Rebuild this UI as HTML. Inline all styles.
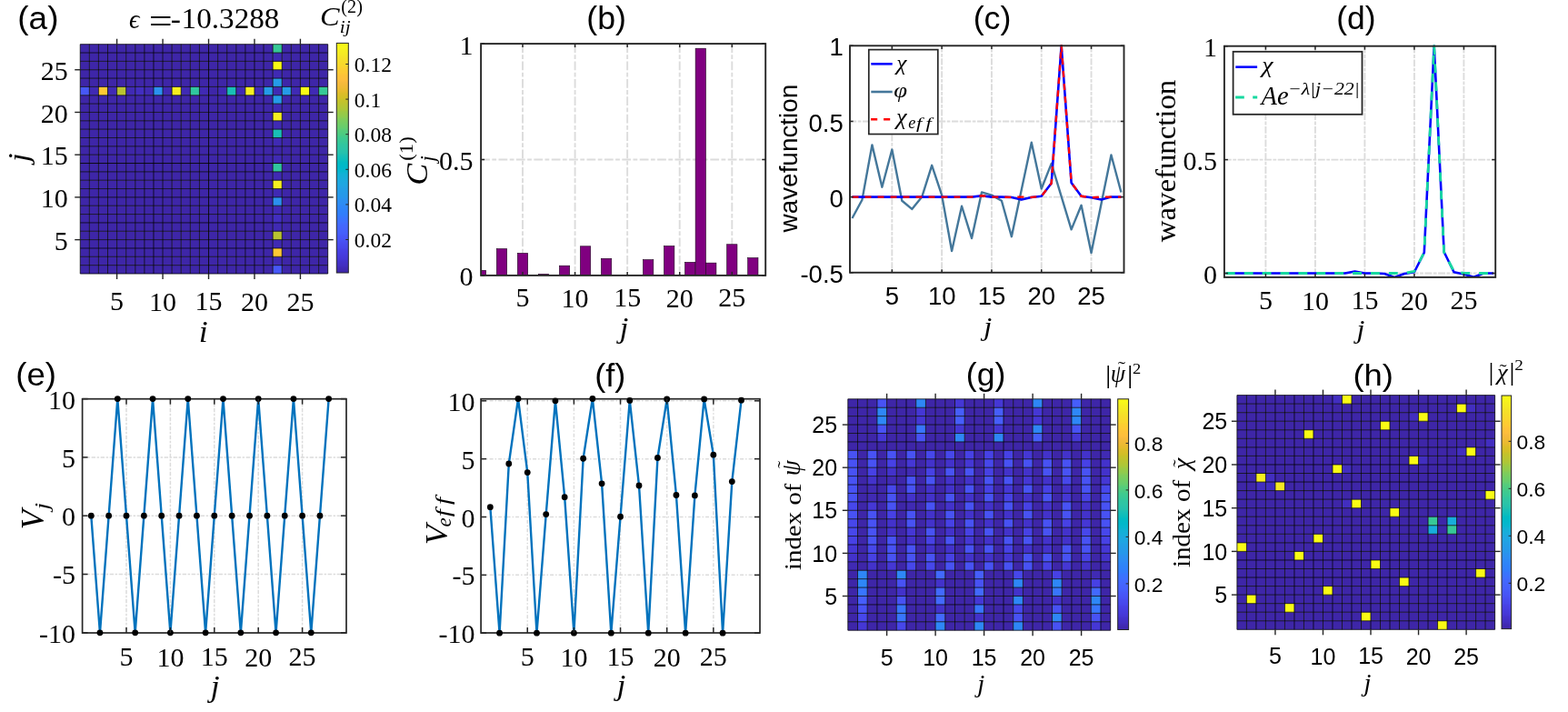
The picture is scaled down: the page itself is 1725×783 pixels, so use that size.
<!DOCTYPE html>
<html><head><meta charset="utf-8"><title>figure</title>
<style>text{font-variant-ligatures:none;font-kerning:none}html,body{margin:0;padding:0;background:#fff;width:1725px;height:783px;overflow:hidden}svg{display:block}</style>
</head><body>
<svg width="1725" height="783" viewBox="0 0 1725 783">
<rect width="1725" height="783" fill="#fff"/>
<text transform="translate(19.29 31.79) scale(1.0647 1)" font-family="'Liberation Sans',Arial,sans-serif" font-size="34.75" fill="#000">(a)</text>
<text transform="translate(645.27 32.21) scale(1.0312 1)" font-family="'Liberation Sans',Arial,sans-serif" font-size="34.64" fill="#000">(b)</text>
<text transform="translate(1070.66 31.77) scale(1.0278 1)" font-family="'Liberation Sans',Arial,sans-serif" font-size="34.85" fill="#000">(c)</text>
<text transform="translate(1470.28 31.77) scale(1.0170 1)" font-family="'Liberation Sans',Arial,sans-serif" font-size="34.85" fill="#000">(d)</text>
<text transform="translate(17.31 423.58) scale(1.0674 1)" font-family="'Liberation Sans',Arial,sans-serif" font-size="34.32" fill="#000">(e)</text>
<text transform="translate(654.14 425.37) scale(1.0373 1)" font-family="'Liberation Sans',Arial,sans-serif" font-size="34.85" fill="#000">(f)</text>
<text transform="translate(1062.77 423.71) scale(1.0285 1)" font-family="'Liberation Sans',Arial,sans-serif" font-size="34.64" fill="#000">(g)</text>
<text transform="translate(1488.42 423.69) scale(1.0789 1)" font-family="'Liberation Sans',Arial,sans-serif" font-size="33.78" fill="#000">(h)</text>
<rect x="88.24" y="291.66" width="10.14" height="9.39" fill="#3e26a8" stroke="none" stroke-width="1"/>
<rect x="98.33" y="291.66" width="10.14" height="9.39" fill="#3e26a8" stroke="none" stroke-width="1"/>
<rect x="108.42" y="291.66" width="10.14" height="9.39" fill="#3e26a8" stroke="none" stroke-width="1"/>
<rect x="118.51" y="291.66" width="10.14" height="9.39" fill="#3e26a8" stroke="none" stroke-width="1"/>
<rect x="128.6" y="291.66" width="10.14" height="9.39" fill="#3e26a8" stroke="none" stroke-width="1"/>
<rect x="138.7" y="291.66" width="10.14" height="9.39" fill="#3e26a8" stroke="none" stroke-width="1"/>
<rect x="148.79" y="291.66" width="10.14" height="9.39" fill="#3e26a8" stroke="none" stroke-width="1"/>
<rect x="158.88" y="291.66" width="10.14" height="9.39" fill="#3e26a8" stroke="none" stroke-width="1"/>
<rect x="168.97" y="291.66" width="10.14" height="9.39" fill="#3e26a8" stroke="none" stroke-width="1"/>
<rect x="179.06" y="291.66" width="10.14" height="9.39" fill="#3e26a8" stroke="none" stroke-width="1"/>
<rect x="189.15" y="291.66" width="10.14" height="9.39" fill="#3e26a8" stroke="none" stroke-width="1"/>
<rect x="199.24" y="291.66" width="10.14" height="9.39" fill="#3e26a8" stroke="none" stroke-width="1"/>
<rect x="209.33" y="291.66" width="10.14" height="9.39" fill="#3e26a8" stroke="none" stroke-width="1"/>
<rect x="219.42" y="291.66" width="10.14" height="9.39" fill="#3e26a8" stroke="none" stroke-width="1"/>
<rect x="229.52" y="291.66" width="10.14" height="9.39" fill="#3e26a8" stroke="none" stroke-width="1"/>
<rect x="239.61" y="291.66" width="10.14" height="9.39" fill="#3e26a8" stroke="none" stroke-width="1"/>
<rect x="249.7" y="291.66" width="10.14" height="9.39" fill="#3e26a8" stroke="none" stroke-width="1"/>
<rect x="259.79" y="291.66" width="10.14" height="9.39" fill="#3e26a8" stroke="none" stroke-width="1"/>
<rect x="269.88" y="291.66" width="10.14" height="9.39" fill="#3e26a8" stroke="none" stroke-width="1"/>
<rect x="279.97" y="291.66" width="10.14" height="9.39" fill="#3e26a8" stroke="none" stroke-width="1"/>
<rect x="290.06" y="291.66" width="10.14" height="9.39" fill="#3e26a8" stroke="none" stroke-width="1"/>
<rect x="300.15" y="291.66" width="10.14" height="9.39" fill="#4758f8" stroke="none" stroke-width="1"/>
<rect x="310.24" y="291.66" width="10.14" height="9.39" fill="#3e26a8" stroke="none" stroke-width="1"/>
<rect x="320.34" y="291.66" width="10.14" height="9.39" fill="#3e26a8" stroke="none" stroke-width="1"/>
<rect x="330.43" y="291.66" width="10.14" height="9.39" fill="#3e26a8" stroke="none" stroke-width="1"/>
<rect x="340.52" y="291.66" width="10.14" height="9.39" fill="#3e26a8" stroke="none" stroke-width="1"/>
<rect x="350.61" y="291.66" width="10.14" height="9.39" fill="#3e26a8" stroke="none" stroke-width="1"/>
<rect x="88.24" y="282.31" width="10.14" height="9.39" fill="#3e26a8" stroke="none" stroke-width="1"/>
<rect x="98.33" y="282.31" width="10.14" height="9.39" fill="#3e26a8" stroke="none" stroke-width="1"/>
<rect x="108.42" y="282.31" width="10.14" height="9.39" fill="#3e26a8" stroke="none" stroke-width="1"/>
<rect x="118.51" y="282.31" width="10.14" height="9.39" fill="#3e26a8" stroke="none" stroke-width="1"/>
<rect x="128.6" y="282.31" width="10.14" height="9.39" fill="#3e26a8" stroke="none" stroke-width="1"/>
<rect x="138.7" y="282.31" width="10.14" height="9.39" fill="#3e26a8" stroke="none" stroke-width="1"/>
<rect x="148.79" y="282.31" width="10.14" height="9.39" fill="#3e26a8" stroke="none" stroke-width="1"/>
<rect x="158.88" y="282.31" width="10.14" height="9.39" fill="#3e26a8" stroke="none" stroke-width="1"/>
<rect x="168.97" y="282.31" width="10.14" height="9.39" fill="#3e26a8" stroke="none" stroke-width="1"/>
<rect x="179.06" y="282.31" width="10.14" height="9.39" fill="#3e26a8" stroke="none" stroke-width="1"/>
<rect x="189.15" y="282.31" width="10.14" height="9.39" fill="#3e26a8" stroke="none" stroke-width="1"/>
<rect x="199.24" y="282.31" width="10.14" height="9.39" fill="#3e26a8" stroke="none" stroke-width="1"/>
<rect x="209.33" y="282.31" width="10.14" height="9.39" fill="#3e26a8" stroke="none" stroke-width="1"/>
<rect x="219.42" y="282.31" width="10.14" height="9.39" fill="#3e26a8" stroke="none" stroke-width="1"/>
<rect x="229.52" y="282.31" width="10.14" height="9.39" fill="#3e26a8" stroke="none" stroke-width="1"/>
<rect x="239.61" y="282.31" width="10.14" height="9.39" fill="#3e26a8" stroke="none" stroke-width="1"/>
<rect x="249.7" y="282.31" width="10.14" height="9.39" fill="#3e26a8" stroke="none" stroke-width="1"/>
<rect x="259.79" y="282.31" width="10.14" height="9.39" fill="#3e26a8" stroke="none" stroke-width="1"/>
<rect x="269.88" y="282.31" width="10.14" height="9.39" fill="#3e26a8" stroke="none" stroke-width="1"/>
<rect x="279.97" y="282.31" width="10.14" height="9.39" fill="#3e26a8" stroke="none" stroke-width="1"/>
<rect x="290.06" y="282.31" width="10.14" height="9.39" fill="#3e26a8" stroke="none" stroke-width="1"/>
<rect x="300.15" y="282.31" width="10.14" height="9.39" fill="#402ab4" stroke="none" stroke-width="1"/>
<rect x="310.24" y="282.31" width="10.14" height="9.39" fill="#3e26a8" stroke="none" stroke-width="1"/>
<rect x="320.34" y="282.31" width="10.14" height="9.39" fill="#3e26a8" stroke="none" stroke-width="1"/>
<rect x="330.43" y="282.31" width="10.14" height="9.39" fill="#3e26a8" stroke="none" stroke-width="1"/>
<rect x="340.52" y="282.31" width="10.14" height="9.39" fill="#3e26a8" stroke="none" stroke-width="1"/>
<rect x="350.61" y="282.31" width="10.14" height="9.39" fill="#3e26a8" stroke="none" stroke-width="1"/>
<rect x="88.24" y="272.97" width="10.14" height="9.39" fill="#3e26a8" stroke="none" stroke-width="1"/>
<rect x="98.33" y="272.97" width="10.14" height="9.39" fill="#3e26a8" stroke="none" stroke-width="1"/>
<rect x="108.42" y="272.97" width="10.14" height="9.39" fill="#3e26a8" stroke="none" stroke-width="1"/>
<rect x="118.51" y="272.97" width="10.14" height="9.39" fill="#3e26a8" stroke="none" stroke-width="1"/>
<rect x="128.6" y="272.97" width="10.14" height="9.39" fill="#3e26a8" stroke="none" stroke-width="1"/>
<rect x="138.7" y="272.97" width="10.14" height="9.39" fill="#3e26a8" stroke="none" stroke-width="1"/>
<rect x="148.79" y="272.97" width="10.14" height="9.39" fill="#3e26a8" stroke="none" stroke-width="1"/>
<rect x="158.88" y="272.97" width="10.14" height="9.39" fill="#3e26a8" stroke="none" stroke-width="1"/>
<rect x="168.97" y="272.97" width="10.14" height="9.39" fill="#3e26a8" stroke="none" stroke-width="1"/>
<rect x="179.06" y="272.97" width="10.14" height="9.39" fill="#3e26a8" stroke="none" stroke-width="1"/>
<rect x="189.15" y="272.97" width="10.14" height="9.39" fill="#3e26a8" stroke="none" stroke-width="1"/>
<rect x="199.24" y="272.97" width="10.14" height="9.39" fill="#3e26a8" stroke="none" stroke-width="1"/>
<rect x="209.33" y="272.97" width="10.14" height="9.39" fill="#3e26a8" stroke="none" stroke-width="1"/>
<rect x="219.42" y="272.97" width="10.14" height="9.39" fill="#3e26a8" stroke="none" stroke-width="1"/>
<rect x="229.52" y="272.97" width="10.14" height="9.39" fill="#3e26a8" stroke="none" stroke-width="1"/>
<rect x="239.61" y="272.97" width="10.14" height="9.39" fill="#3e26a8" stroke="none" stroke-width="1"/>
<rect x="249.7" y="272.97" width="10.14" height="9.39" fill="#3e26a8" stroke="none" stroke-width="1"/>
<rect x="259.79" y="272.97" width="10.14" height="9.39" fill="#3e26a8" stroke="none" stroke-width="1"/>
<rect x="269.88" y="272.97" width="10.14" height="9.39" fill="#3e26a8" stroke="none" stroke-width="1"/>
<rect x="279.97" y="272.97" width="10.14" height="9.39" fill="#3e26a8" stroke="none" stroke-width="1"/>
<rect x="290.06" y="272.97" width="10.14" height="9.39" fill="#3e26a8" stroke="none" stroke-width="1"/>
<rect x="300.15" y="272.97" width="10.14" height="9.39" fill="#fec934" stroke="none" stroke-width="1"/>
<rect x="310.24" y="272.97" width="10.14" height="9.39" fill="#3e26a8" stroke="none" stroke-width="1"/>
<rect x="320.34" y="272.97" width="10.14" height="9.39" fill="#3e26a8" stroke="none" stroke-width="1"/>
<rect x="330.43" y="272.97" width="10.14" height="9.39" fill="#3e26a8" stroke="none" stroke-width="1"/>
<rect x="340.52" y="272.97" width="10.14" height="9.39" fill="#3e26a8" stroke="none" stroke-width="1"/>
<rect x="350.61" y="272.97" width="10.14" height="9.39" fill="#3e26a8" stroke="none" stroke-width="1"/>
<rect x="88.24" y="263.62" width="10.14" height="9.39" fill="#3e26a8" stroke="none" stroke-width="1"/>
<rect x="98.33" y="263.62" width="10.14" height="9.39" fill="#3e26a8" stroke="none" stroke-width="1"/>
<rect x="108.42" y="263.62" width="10.14" height="9.39" fill="#3e26a8" stroke="none" stroke-width="1"/>
<rect x="118.51" y="263.62" width="10.14" height="9.39" fill="#3e26a8" stroke="none" stroke-width="1"/>
<rect x="128.6" y="263.62" width="10.14" height="9.39" fill="#3e26a8" stroke="none" stroke-width="1"/>
<rect x="138.7" y="263.62" width="10.14" height="9.39" fill="#3e26a8" stroke="none" stroke-width="1"/>
<rect x="148.79" y="263.62" width="10.14" height="9.39" fill="#3e26a8" stroke="none" stroke-width="1"/>
<rect x="158.88" y="263.62" width="10.14" height="9.39" fill="#3e26a8" stroke="none" stroke-width="1"/>
<rect x="168.97" y="263.62" width="10.14" height="9.39" fill="#3e26a8" stroke="none" stroke-width="1"/>
<rect x="179.06" y="263.62" width="10.14" height="9.39" fill="#3e26a8" stroke="none" stroke-width="1"/>
<rect x="189.15" y="263.62" width="10.14" height="9.39" fill="#3e26a8" stroke="none" stroke-width="1"/>
<rect x="199.24" y="263.62" width="10.14" height="9.39" fill="#3e26a8" stroke="none" stroke-width="1"/>
<rect x="209.33" y="263.62" width="10.14" height="9.39" fill="#3e26a8" stroke="none" stroke-width="1"/>
<rect x="219.42" y="263.62" width="10.14" height="9.39" fill="#3e26a8" stroke="none" stroke-width="1"/>
<rect x="229.52" y="263.62" width="10.14" height="9.39" fill="#3e26a8" stroke="none" stroke-width="1"/>
<rect x="239.61" y="263.62" width="10.14" height="9.39" fill="#3e26a8" stroke="none" stroke-width="1"/>
<rect x="249.7" y="263.62" width="10.14" height="9.39" fill="#3e26a8" stroke="none" stroke-width="1"/>
<rect x="259.79" y="263.62" width="10.14" height="9.39" fill="#3e26a8" stroke="none" stroke-width="1"/>
<rect x="269.88" y="263.62" width="10.14" height="9.39" fill="#3e26a8" stroke="none" stroke-width="1"/>
<rect x="279.97" y="263.62" width="10.14" height="9.39" fill="#3e26a8" stroke="none" stroke-width="1"/>
<rect x="290.06" y="263.62" width="10.14" height="9.39" fill="#3e26a8" stroke="none" stroke-width="1"/>
<rect x="300.15" y="263.62" width="10.14" height="9.39" fill="#402ab4" stroke="none" stroke-width="1"/>
<rect x="310.24" y="263.62" width="10.14" height="9.39" fill="#3e26a8" stroke="none" stroke-width="1"/>
<rect x="320.34" y="263.62" width="10.14" height="9.39" fill="#3e26a8" stroke="none" stroke-width="1"/>
<rect x="330.43" y="263.62" width="10.14" height="9.39" fill="#3e26a8" stroke="none" stroke-width="1"/>
<rect x="340.52" y="263.62" width="10.14" height="9.39" fill="#3e26a8" stroke="none" stroke-width="1"/>
<rect x="350.61" y="263.62" width="10.14" height="9.39" fill="#3e26a8" stroke="none" stroke-width="1"/>
<rect x="88.24" y="254.28" width="10.14" height="9.39" fill="#3e26a8" stroke="none" stroke-width="1"/>
<rect x="98.33" y="254.28" width="10.14" height="9.39" fill="#3e26a8" stroke="none" stroke-width="1"/>
<rect x="108.42" y="254.28" width="10.14" height="9.39" fill="#3e26a8" stroke="none" stroke-width="1"/>
<rect x="118.51" y="254.28" width="10.14" height="9.39" fill="#3e26a8" stroke="none" stroke-width="1"/>
<rect x="128.6" y="254.28" width="10.14" height="9.39" fill="#3e26a8" stroke="none" stroke-width="1"/>
<rect x="138.7" y="254.28" width="10.14" height="9.39" fill="#3e26a8" stroke="none" stroke-width="1"/>
<rect x="148.79" y="254.28" width="10.14" height="9.39" fill="#3e26a8" stroke="none" stroke-width="1"/>
<rect x="158.88" y="254.28" width="10.14" height="9.39" fill="#3e26a8" stroke="none" stroke-width="1"/>
<rect x="168.97" y="254.28" width="10.14" height="9.39" fill="#3e26a8" stroke="none" stroke-width="1"/>
<rect x="179.06" y="254.28" width="10.14" height="9.39" fill="#3e26a8" stroke="none" stroke-width="1"/>
<rect x="189.15" y="254.28" width="10.14" height="9.39" fill="#3e26a8" stroke="none" stroke-width="1"/>
<rect x="199.24" y="254.28" width="10.14" height="9.39" fill="#3e26a8" stroke="none" stroke-width="1"/>
<rect x="209.33" y="254.28" width="10.14" height="9.39" fill="#3e26a8" stroke="none" stroke-width="1"/>
<rect x="219.42" y="254.28" width="10.14" height="9.39" fill="#3e26a8" stroke="none" stroke-width="1"/>
<rect x="229.52" y="254.28" width="10.14" height="9.39" fill="#3e26a8" stroke="none" stroke-width="1"/>
<rect x="239.61" y="254.28" width="10.14" height="9.39" fill="#3e26a8" stroke="none" stroke-width="1"/>
<rect x="249.7" y="254.28" width="10.14" height="9.39" fill="#3e26a8" stroke="none" stroke-width="1"/>
<rect x="259.79" y="254.28" width="10.14" height="9.39" fill="#3e26a8" stroke="none" stroke-width="1"/>
<rect x="269.88" y="254.28" width="10.14" height="9.39" fill="#3e26a8" stroke="none" stroke-width="1"/>
<rect x="279.97" y="254.28" width="10.14" height="9.39" fill="#3e26a8" stroke="none" stroke-width="1"/>
<rect x="290.06" y="254.28" width="10.14" height="9.39" fill="#3e26a8" stroke="none" stroke-width="1"/>
<rect x="300.15" y="254.28" width="10.14" height="9.39" fill="#b9c431" stroke="none" stroke-width="1"/>
<rect x="310.24" y="254.28" width="10.14" height="9.39" fill="#3e26a8" stroke="none" stroke-width="1"/>
<rect x="320.34" y="254.28" width="10.14" height="9.39" fill="#3e26a8" stroke="none" stroke-width="1"/>
<rect x="330.43" y="254.28" width="10.14" height="9.39" fill="#3e26a8" stroke="none" stroke-width="1"/>
<rect x="340.52" y="254.28" width="10.14" height="9.39" fill="#3e26a8" stroke="none" stroke-width="1"/>
<rect x="350.61" y="254.28" width="10.14" height="9.39" fill="#3e26a8" stroke="none" stroke-width="1"/>
<rect x="88.24" y="244.93" width="10.14" height="9.39" fill="#3e26a8" stroke="none" stroke-width="1"/>
<rect x="98.33" y="244.93" width="10.14" height="9.39" fill="#3e26a8" stroke="none" stroke-width="1"/>
<rect x="108.42" y="244.93" width="10.14" height="9.39" fill="#3e26a8" stroke="none" stroke-width="1"/>
<rect x="118.51" y="244.93" width="10.14" height="9.39" fill="#3e26a8" stroke="none" stroke-width="1"/>
<rect x="128.6" y="244.93" width="10.14" height="9.39" fill="#3e26a8" stroke="none" stroke-width="1"/>
<rect x="138.7" y="244.93" width="10.14" height="9.39" fill="#3e26a8" stroke="none" stroke-width="1"/>
<rect x="148.79" y="244.93" width="10.14" height="9.39" fill="#3e26a8" stroke="none" stroke-width="1"/>
<rect x="158.88" y="244.93" width="10.14" height="9.39" fill="#3e26a8" stroke="none" stroke-width="1"/>
<rect x="168.97" y="244.93" width="10.14" height="9.39" fill="#3e26a8" stroke="none" stroke-width="1"/>
<rect x="179.06" y="244.93" width="10.14" height="9.39" fill="#3e26a8" stroke="none" stroke-width="1"/>
<rect x="189.15" y="244.93" width="10.14" height="9.39" fill="#3e26a8" stroke="none" stroke-width="1"/>
<rect x="199.24" y="244.93" width="10.14" height="9.39" fill="#3e26a8" stroke="none" stroke-width="1"/>
<rect x="209.33" y="244.93" width="10.14" height="9.39" fill="#3e26a8" stroke="none" stroke-width="1"/>
<rect x="219.42" y="244.93" width="10.14" height="9.39" fill="#3e26a8" stroke="none" stroke-width="1"/>
<rect x="229.52" y="244.93" width="10.14" height="9.39" fill="#3e26a8" stroke="none" stroke-width="1"/>
<rect x="239.61" y="244.93" width="10.14" height="9.39" fill="#3e26a8" stroke="none" stroke-width="1"/>
<rect x="249.7" y="244.93" width="10.14" height="9.39" fill="#3e26a8" stroke="none" stroke-width="1"/>
<rect x="259.79" y="244.93" width="10.14" height="9.39" fill="#3e26a8" stroke="none" stroke-width="1"/>
<rect x="269.88" y="244.93" width="10.14" height="9.39" fill="#3e26a8" stroke="none" stroke-width="1"/>
<rect x="279.97" y="244.93" width="10.14" height="9.39" fill="#3e26a8" stroke="none" stroke-width="1"/>
<rect x="290.06" y="244.93" width="10.14" height="9.39" fill="#3e26a8" stroke="none" stroke-width="1"/>
<rect x="300.15" y="244.93" width="10.14" height="9.39" fill="#402ab4" stroke="none" stroke-width="1"/>
<rect x="310.24" y="244.93" width="10.14" height="9.39" fill="#3e26a8" stroke="none" stroke-width="1"/>
<rect x="320.34" y="244.93" width="10.14" height="9.39" fill="#3e26a8" stroke="none" stroke-width="1"/>
<rect x="330.43" y="244.93" width="10.14" height="9.39" fill="#3e26a8" stroke="none" stroke-width="1"/>
<rect x="340.52" y="244.93" width="10.14" height="9.39" fill="#3e26a8" stroke="none" stroke-width="1"/>
<rect x="350.61" y="244.93" width="10.14" height="9.39" fill="#3e26a8" stroke="none" stroke-width="1"/>
<rect x="88.24" y="235.59" width="10.14" height="9.39" fill="#3e26a8" stroke="none" stroke-width="1"/>
<rect x="98.33" y="235.59" width="10.14" height="9.39" fill="#3e26a8" stroke="none" stroke-width="1"/>
<rect x="108.42" y="235.59" width="10.14" height="9.39" fill="#3e26a8" stroke="none" stroke-width="1"/>
<rect x="118.51" y="235.59" width="10.14" height="9.39" fill="#3e26a8" stroke="none" stroke-width="1"/>
<rect x="128.6" y="235.59" width="10.14" height="9.39" fill="#3e26a8" stroke="none" stroke-width="1"/>
<rect x="138.7" y="235.59" width="10.14" height="9.39" fill="#3e26a8" stroke="none" stroke-width="1"/>
<rect x="148.79" y="235.59" width="10.14" height="9.39" fill="#3e26a8" stroke="none" stroke-width="1"/>
<rect x="158.88" y="235.59" width="10.14" height="9.39" fill="#3e26a8" stroke="none" stroke-width="1"/>
<rect x="168.97" y="235.59" width="10.14" height="9.39" fill="#3e26a8" stroke="none" stroke-width="1"/>
<rect x="179.06" y="235.59" width="10.14" height="9.39" fill="#3e26a8" stroke="none" stroke-width="1"/>
<rect x="189.15" y="235.59" width="10.14" height="9.39" fill="#3e26a8" stroke="none" stroke-width="1"/>
<rect x="199.24" y="235.59" width="10.14" height="9.39" fill="#3e26a8" stroke="none" stroke-width="1"/>
<rect x="209.33" y="235.59" width="10.14" height="9.39" fill="#3e26a8" stroke="none" stroke-width="1"/>
<rect x="219.42" y="235.59" width="10.14" height="9.39" fill="#3e26a8" stroke="none" stroke-width="1"/>
<rect x="229.52" y="235.59" width="10.14" height="9.39" fill="#3e26a8" stroke="none" stroke-width="1"/>
<rect x="239.61" y="235.59" width="10.14" height="9.39" fill="#3e26a8" stroke="none" stroke-width="1"/>
<rect x="249.7" y="235.59" width="10.14" height="9.39" fill="#3e26a8" stroke="none" stroke-width="1"/>
<rect x="259.79" y="235.59" width="10.14" height="9.39" fill="#3e26a8" stroke="none" stroke-width="1"/>
<rect x="269.88" y="235.59" width="10.14" height="9.39" fill="#3e26a8" stroke="none" stroke-width="1"/>
<rect x="279.97" y="235.59" width="10.14" height="9.39" fill="#3e26a8" stroke="none" stroke-width="1"/>
<rect x="290.06" y="235.59" width="10.14" height="9.39" fill="#3e26a8" stroke="none" stroke-width="1"/>
<rect x="300.15" y="235.59" width="10.14" height="9.39" fill="#422ec0" stroke="none" stroke-width="1"/>
<rect x="310.24" y="235.59" width="10.14" height="9.39" fill="#3e26a8" stroke="none" stroke-width="1"/>
<rect x="320.34" y="235.59" width="10.14" height="9.39" fill="#3e26a8" stroke="none" stroke-width="1"/>
<rect x="330.43" y="235.59" width="10.14" height="9.39" fill="#3e26a8" stroke="none" stroke-width="1"/>
<rect x="340.52" y="235.59" width="10.14" height="9.39" fill="#3e26a8" stroke="none" stroke-width="1"/>
<rect x="350.61" y="235.59" width="10.14" height="9.39" fill="#3e26a8" stroke="none" stroke-width="1"/>
<rect x="88.24" y="226.24" width="10.14" height="9.39" fill="#3e26a8" stroke="none" stroke-width="1"/>
<rect x="98.33" y="226.24" width="10.14" height="9.39" fill="#3e26a8" stroke="none" stroke-width="1"/>
<rect x="108.42" y="226.24" width="10.14" height="9.39" fill="#3e26a8" stroke="none" stroke-width="1"/>
<rect x="118.51" y="226.24" width="10.14" height="9.39" fill="#3e26a8" stroke="none" stroke-width="1"/>
<rect x="128.6" y="226.24" width="10.14" height="9.39" fill="#3e26a8" stroke="none" stroke-width="1"/>
<rect x="138.7" y="226.24" width="10.14" height="9.39" fill="#3e26a8" stroke="none" stroke-width="1"/>
<rect x="148.79" y="226.24" width="10.14" height="9.39" fill="#3e26a8" stroke="none" stroke-width="1"/>
<rect x="158.88" y="226.24" width="10.14" height="9.39" fill="#3e26a8" stroke="none" stroke-width="1"/>
<rect x="168.97" y="226.24" width="10.14" height="9.39" fill="#3e26a8" stroke="none" stroke-width="1"/>
<rect x="179.06" y="226.24" width="10.14" height="9.39" fill="#3e26a8" stroke="none" stroke-width="1"/>
<rect x="189.15" y="226.24" width="10.14" height="9.39" fill="#3e26a8" stroke="none" stroke-width="1"/>
<rect x="199.24" y="226.24" width="10.14" height="9.39" fill="#3e26a8" stroke="none" stroke-width="1"/>
<rect x="209.33" y="226.24" width="10.14" height="9.39" fill="#3e26a8" stroke="none" stroke-width="1"/>
<rect x="219.42" y="226.24" width="10.14" height="9.39" fill="#3e26a8" stroke="none" stroke-width="1"/>
<rect x="229.52" y="226.24" width="10.14" height="9.39" fill="#3e26a8" stroke="none" stroke-width="1"/>
<rect x="239.61" y="226.24" width="10.14" height="9.39" fill="#3e26a8" stroke="none" stroke-width="1"/>
<rect x="249.7" y="226.24" width="10.14" height="9.39" fill="#3e26a8" stroke="none" stroke-width="1"/>
<rect x="259.79" y="226.24" width="10.14" height="9.39" fill="#3e26a8" stroke="none" stroke-width="1"/>
<rect x="269.88" y="226.24" width="10.14" height="9.39" fill="#3e26a8" stroke="none" stroke-width="1"/>
<rect x="279.97" y="226.24" width="10.14" height="9.39" fill="#3e26a8" stroke="none" stroke-width="1"/>
<rect x="290.06" y="226.24" width="10.14" height="9.39" fill="#3e26a8" stroke="none" stroke-width="1"/>
<rect x="300.15" y="226.24" width="10.14" height="9.39" fill="#402ab4" stroke="none" stroke-width="1"/>
<rect x="310.24" y="226.24" width="10.14" height="9.39" fill="#3e26a8" stroke="none" stroke-width="1"/>
<rect x="320.34" y="226.24" width="10.14" height="9.39" fill="#3e26a8" stroke="none" stroke-width="1"/>
<rect x="330.43" y="226.24" width="10.14" height="9.39" fill="#3e26a8" stroke="none" stroke-width="1"/>
<rect x="340.52" y="226.24" width="10.14" height="9.39" fill="#3e26a8" stroke="none" stroke-width="1"/>
<rect x="350.61" y="226.24" width="10.14" height="9.39" fill="#3e26a8" stroke="none" stroke-width="1"/>
<rect x="88.24" y="216.9" width="10.14" height="9.39" fill="#3e26a8" stroke="none" stroke-width="1"/>
<rect x="98.33" y="216.9" width="10.14" height="9.39" fill="#3e26a8" stroke="none" stroke-width="1"/>
<rect x="108.42" y="216.9" width="10.14" height="9.39" fill="#3e26a8" stroke="none" stroke-width="1"/>
<rect x="118.51" y="216.9" width="10.14" height="9.39" fill="#3e26a8" stroke="none" stroke-width="1"/>
<rect x="128.6" y="216.9" width="10.14" height="9.39" fill="#3e26a8" stroke="none" stroke-width="1"/>
<rect x="138.7" y="216.9" width="10.14" height="9.39" fill="#3e26a8" stroke="none" stroke-width="1"/>
<rect x="148.79" y="216.9" width="10.14" height="9.39" fill="#3e26a8" stroke="none" stroke-width="1"/>
<rect x="158.88" y="216.9" width="10.14" height="9.39" fill="#3e26a8" stroke="none" stroke-width="1"/>
<rect x="168.97" y="216.9" width="10.14" height="9.39" fill="#3e26a8" stroke="none" stroke-width="1"/>
<rect x="179.06" y="216.9" width="10.14" height="9.39" fill="#3e26a8" stroke="none" stroke-width="1"/>
<rect x="189.15" y="216.9" width="10.14" height="9.39" fill="#3e26a8" stroke="none" stroke-width="1"/>
<rect x="199.24" y="216.9" width="10.14" height="9.39" fill="#3e26a8" stroke="none" stroke-width="1"/>
<rect x="209.33" y="216.9" width="10.14" height="9.39" fill="#3e26a8" stroke="none" stroke-width="1"/>
<rect x="219.42" y="216.9" width="10.14" height="9.39" fill="#3e26a8" stroke="none" stroke-width="1"/>
<rect x="229.52" y="216.9" width="10.14" height="9.39" fill="#3e26a8" stroke="none" stroke-width="1"/>
<rect x="239.61" y="216.9" width="10.14" height="9.39" fill="#3e26a8" stroke="none" stroke-width="1"/>
<rect x="249.7" y="216.9" width="10.14" height="9.39" fill="#3e26a8" stroke="none" stroke-width="1"/>
<rect x="259.79" y="216.9" width="10.14" height="9.39" fill="#3e26a8" stroke="none" stroke-width="1"/>
<rect x="269.88" y="216.9" width="10.14" height="9.39" fill="#3e26a8" stroke="none" stroke-width="1"/>
<rect x="279.97" y="216.9" width="10.14" height="9.39" fill="#3e26a8" stroke="none" stroke-width="1"/>
<rect x="290.06" y="216.9" width="10.14" height="9.39" fill="#3e26a8" stroke="none" stroke-width="1"/>
<rect x="300.15" y="216.9" width="10.14" height="9.39" fill="#2b91ef" stroke="none" stroke-width="1"/>
<rect x="310.24" y="216.9" width="10.14" height="9.39" fill="#3e26a8" stroke="none" stroke-width="1"/>
<rect x="320.34" y="216.9" width="10.14" height="9.39" fill="#3e26a8" stroke="none" stroke-width="1"/>
<rect x="330.43" y="216.9" width="10.14" height="9.39" fill="#3e26a8" stroke="none" stroke-width="1"/>
<rect x="340.52" y="216.9" width="10.14" height="9.39" fill="#3e26a8" stroke="none" stroke-width="1"/>
<rect x="350.61" y="216.9" width="10.14" height="9.39" fill="#3e26a8" stroke="none" stroke-width="1"/>
<rect x="88.24" y="207.56" width="10.14" height="9.39" fill="#3e26a8" stroke="none" stroke-width="1"/>
<rect x="98.33" y="207.56" width="10.14" height="9.39" fill="#3e26a8" stroke="none" stroke-width="1"/>
<rect x="108.42" y="207.56" width="10.14" height="9.39" fill="#3e26a8" stroke="none" stroke-width="1"/>
<rect x="118.51" y="207.56" width="10.14" height="9.39" fill="#3e26a8" stroke="none" stroke-width="1"/>
<rect x="128.6" y="207.56" width="10.14" height="9.39" fill="#3e26a8" stroke="none" stroke-width="1"/>
<rect x="138.7" y="207.56" width="10.14" height="9.39" fill="#3e26a8" stroke="none" stroke-width="1"/>
<rect x="148.79" y="207.56" width="10.14" height="9.39" fill="#3e26a8" stroke="none" stroke-width="1"/>
<rect x="158.88" y="207.56" width="10.14" height="9.39" fill="#3e26a8" stroke="none" stroke-width="1"/>
<rect x="168.97" y="207.56" width="10.14" height="9.39" fill="#3e26a8" stroke="none" stroke-width="1"/>
<rect x="179.06" y="207.56" width="10.14" height="9.39" fill="#3e26a8" stroke="none" stroke-width="1"/>
<rect x="189.15" y="207.56" width="10.14" height="9.39" fill="#3e26a8" stroke="none" stroke-width="1"/>
<rect x="199.24" y="207.56" width="10.14" height="9.39" fill="#3e26a8" stroke="none" stroke-width="1"/>
<rect x="209.33" y="207.56" width="10.14" height="9.39" fill="#3e26a8" stroke="none" stroke-width="1"/>
<rect x="219.42" y="207.56" width="10.14" height="9.39" fill="#3e26a8" stroke="none" stroke-width="1"/>
<rect x="229.52" y="207.56" width="10.14" height="9.39" fill="#3e26a8" stroke="none" stroke-width="1"/>
<rect x="239.61" y="207.56" width="10.14" height="9.39" fill="#3e26a8" stroke="none" stroke-width="1"/>
<rect x="249.7" y="207.56" width="10.14" height="9.39" fill="#3e26a8" stroke="none" stroke-width="1"/>
<rect x="259.79" y="207.56" width="10.14" height="9.39" fill="#3e26a8" stroke="none" stroke-width="1"/>
<rect x="269.88" y="207.56" width="10.14" height="9.39" fill="#3e26a8" stroke="none" stroke-width="1"/>
<rect x="279.97" y="207.56" width="10.14" height="9.39" fill="#3e26a8" stroke="none" stroke-width="1"/>
<rect x="290.06" y="207.56" width="10.14" height="9.39" fill="#3e26a8" stroke="none" stroke-width="1"/>
<rect x="300.15" y="207.56" width="10.14" height="9.39" fill="#402ab4" stroke="none" stroke-width="1"/>
<rect x="310.24" y="207.56" width="10.14" height="9.39" fill="#3e26a8" stroke="none" stroke-width="1"/>
<rect x="320.34" y="207.56" width="10.14" height="9.39" fill="#3e26a8" stroke="none" stroke-width="1"/>
<rect x="330.43" y="207.56" width="10.14" height="9.39" fill="#3e26a8" stroke="none" stroke-width="1"/>
<rect x="340.52" y="207.56" width="10.14" height="9.39" fill="#3e26a8" stroke="none" stroke-width="1"/>
<rect x="350.61" y="207.56" width="10.14" height="9.39" fill="#3e26a8" stroke="none" stroke-width="1"/>
<rect x="88.24" y="198.21" width="10.14" height="9.39" fill="#3e26a8" stroke="none" stroke-width="1"/>
<rect x="98.33" y="198.21" width="10.14" height="9.39" fill="#3e26a8" stroke="none" stroke-width="1"/>
<rect x="108.42" y="198.21" width="10.14" height="9.39" fill="#3e26a8" stroke="none" stroke-width="1"/>
<rect x="118.51" y="198.21" width="10.14" height="9.39" fill="#3e26a8" stroke="none" stroke-width="1"/>
<rect x="128.6" y="198.21" width="10.14" height="9.39" fill="#3e26a8" stroke="none" stroke-width="1"/>
<rect x="138.7" y="198.21" width="10.14" height="9.39" fill="#3e26a8" stroke="none" stroke-width="1"/>
<rect x="148.79" y="198.21" width="10.14" height="9.39" fill="#3e26a8" stroke="none" stroke-width="1"/>
<rect x="158.88" y="198.21" width="10.14" height="9.39" fill="#3e26a8" stroke="none" stroke-width="1"/>
<rect x="168.97" y="198.21" width="10.14" height="9.39" fill="#3e26a8" stroke="none" stroke-width="1"/>
<rect x="179.06" y="198.21" width="10.14" height="9.39" fill="#3e26a8" stroke="none" stroke-width="1"/>
<rect x="189.15" y="198.21" width="10.14" height="9.39" fill="#3e26a8" stroke="none" stroke-width="1"/>
<rect x="199.24" y="198.21" width="10.14" height="9.39" fill="#3e26a8" stroke="none" stroke-width="1"/>
<rect x="209.33" y="198.21" width="10.14" height="9.39" fill="#3e26a8" stroke="none" stroke-width="1"/>
<rect x="219.42" y="198.21" width="10.14" height="9.39" fill="#3e26a8" stroke="none" stroke-width="1"/>
<rect x="229.52" y="198.21" width="10.14" height="9.39" fill="#3e26a8" stroke="none" stroke-width="1"/>
<rect x="239.61" y="198.21" width="10.14" height="9.39" fill="#3e26a8" stroke="none" stroke-width="1"/>
<rect x="249.7" y="198.21" width="10.14" height="9.39" fill="#3e26a8" stroke="none" stroke-width="1"/>
<rect x="259.79" y="198.21" width="10.14" height="9.39" fill="#3e26a8" stroke="none" stroke-width="1"/>
<rect x="269.88" y="198.21" width="10.14" height="9.39" fill="#3e26a8" stroke="none" stroke-width="1"/>
<rect x="279.97" y="198.21" width="10.14" height="9.39" fill="#3e26a8" stroke="none" stroke-width="1"/>
<rect x="290.06" y="198.21" width="10.14" height="9.39" fill="#3e26a8" stroke="none" stroke-width="1"/>
<rect x="300.15" y="198.21" width="10.14" height="9.39" fill="#f6ef20" stroke="none" stroke-width="1"/>
<rect x="310.24" y="198.21" width="10.14" height="9.39" fill="#3e26a8" stroke="none" stroke-width="1"/>
<rect x="320.34" y="198.21" width="10.14" height="9.39" fill="#3e26a8" stroke="none" stroke-width="1"/>
<rect x="330.43" y="198.21" width="10.14" height="9.39" fill="#3e26a8" stroke="none" stroke-width="1"/>
<rect x="340.52" y="198.21" width="10.14" height="9.39" fill="#3e26a8" stroke="none" stroke-width="1"/>
<rect x="350.61" y="198.21" width="10.14" height="9.39" fill="#3e26a8" stroke="none" stroke-width="1"/>
<rect x="88.24" y="188.87" width="10.14" height="9.39" fill="#3e26a8" stroke="none" stroke-width="1"/>
<rect x="98.33" y="188.87" width="10.14" height="9.39" fill="#3e26a8" stroke="none" stroke-width="1"/>
<rect x="108.42" y="188.87" width="10.14" height="9.39" fill="#3e26a8" stroke="none" stroke-width="1"/>
<rect x="118.51" y="188.87" width="10.14" height="9.39" fill="#3e26a8" stroke="none" stroke-width="1"/>
<rect x="128.6" y="188.87" width="10.14" height="9.39" fill="#3e26a8" stroke="none" stroke-width="1"/>
<rect x="138.7" y="188.87" width="10.14" height="9.39" fill="#3e26a8" stroke="none" stroke-width="1"/>
<rect x="148.79" y="188.87" width="10.14" height="9.39" fill="#3e26a8" stroke="none" stroke-width="1"/>
<rect x="158.88" y="188.87" width="10.14" height="9.39" fill="#3e26a8" stroke="none" stroke-width="1"/>
<rect x="168.97" y="188.87" width="10.14" height="9.39" fill="#3e26a8" stroke="none" stroke-width="1"/>
<rect x="179.06" y="188.87" width="10.14" height="9.39" fill="#3e26a8" stroke="none" stroke-width="1"/>
<rect x="189.15" y="188.87" width="10.14" height="9.39" fill="#3e26a8" stroke="none" stroke-width="1"/>
<rect x="199.24" y="188.87" width="10.14" height="9.39" fill="#3e26a8" stroke="none" stroke-width="1"/>
<rect x="209.33" y="188.87" width="10.14" height="9.39" fill="#3e26a8" stroke="none" stroke-width="1"/>
<rect x="219.42" y="188.87" width="10.14" height="9.39" fill="#3e26a8" stroke="none" stroke-width="1"/>
<rect x="229.52" y="188.87" width="10.14" height="9.39" fill="#3e26a8" stroke="none" stroke-width="1"/>
<rect x="239.61" y="188.87" width="10.14" height="9.39" fill="#3e26a8" stroke="none" stroke-width="1"/>
<rect x="249.7" y="188.87" width="10.14" height="9.39" fill="#3e26a8" stroke="none" stroke-width="1"/>
<rect x="259.79" y="188.87" width="10.14" height="9.39" fill="#3e26a8" stroke="none" stroke-width="1"/>
<rect x="269.88" y="188.87" width="10.14" height="9.39" fill="#3e26a8" stroke="none" stroke-width="1"/>
<rect x="279.97" y="188.87" width="10.14" height="9.39" fill="#3e26a8" stroke="none" stroke-width="1"/>
<rect x="290.06" y="188.87" width="10.14" height="9.39" fill="#3e26a8" stroke="none" stroke-width="1"/>
<rect x="300.15" y="188.87" width="10.14" height="9.39" fill="#402ab4" stroke="none" stroke-width="1"/>
<rect x="310.24" y="188.87" width="10.14" height="9.39" fill="#3e26a8" stroke="none" stroke-width="1"/>
<rect x="320.34" y="188.87" width="10.14" height="9.39" fill="#3e26a8" stroke="none" stroke-width="1"/>
<rect x="330.43" y="188.87" width="10.14" height="9.39" fill="#3e26a8" stroke="none" stroke-width="1"/>
<rect x="340.52" y="188.87" width="10.14" height="9.39" fill="#3e26a8" stroke="none" stroke-width="1"/>
<rect x="350.61" y="188.87" width="10.14" height="9.39" fill="#3e26a8" stroke="none" stroke-width="1"/>
<rect x="88.24" y="179.52" width="10.14" height="9.39" fill="#3e26a8" stroke="none" stroke-width="1"/>
<rect x="98.33" y="179.52" width="10.14" height="9.39" fill="#3e26a8" stroke="none" stroke-width="1"/>
<rect x="108.42" y="179.52" width="10.14" height="9.39" fill="#3e26a8" stroke="none" stroke-width="1"/>
<rect x="118.51" y="179.52" width="10.14" height="9.39" fill="#3e26a8" stroke="none" stroke-width="1"/>
<rect x="128.6" y="179.52" width="10.14" height="9.39" fill="#3e26a8" stroke="none" stroke-width="1"/>
<rect x="138.7" y="179.52" width="10.14" height="9.39" fill="#3e26a8" stroke="none" stroke-width="1"/>
<rect x="148.79" y="179.52" width="10.14" height="9.39" fill="#3e26a8" stroke="none" stroke-width="1"/>
<rect x="158.88" y="179.52" width="10.14" height="9.39" fill="#3e26a8" stroke="none" stroke-width="1"/>
<rect x="168.97" y="179.52" width="10.14" height="9.39" fill="#3e26a8" stroke="none" stroke-width="1"/>
<rect x="179.06" y="179.52" width="10.14" height="9.39" fill="#3e26a8" stroke="none" stroke-width="1"/>
<rect x="189.15" y="179.52" width="10.14" height="9.39" fill="#3e26a8" stroke="none" stroke-width="1"/>
<rect x="199.24" y="179.52" width="10.14" height="9.39" fill="#3e26a8" stroke="none" stroke-width="1"/>
<rect x="209.33" y="179.52" width="10.14" height="9.39" fill="#3e26a8" stroke="none" stroke-width="1"/>
<rect x="219.42" y="179.52" width="10.14" height="9.39" fill="#3e26a8" stroke="none" stroke-width="1"/>
<rect x="229.52" y="179.52" width="10.14" height="9.39" fill="#3e26a8" stroke="none" stroke-width="1"/>
<rect x="239.61" y="179.52" width="10.14" height="9.39" fill="#3e26a8" stroke="none" stroke-width="1"/>
<rect x="249.7" y="179.52" width="10.14" height="9.39" fill="#3e26a8" stroke="none" stroke-width="1"/>
<rect x="259.79" y="179.52" width="10.14" height="9.39" fill="#3e26a8" stroke="none" stroke-width="1"/>
<rect x="269.88" y="179.52" width="10.14" height="9.39" fill="#3e26a8" stroke="none" stroke-width="1"/>
<rect x="279.97" y="179.52" width="10.14" height="9.39" fill="#3e26a8" stroke="none" stroke-width="1"/>
<rect x="290.06" y="179.52" width="10.14" height="9.39" fill="#3e26a8" stroke="none" stroke-width="1"/>
<rect x="300.15" y="179.52" width="10.14" height="9.39" fill="#31c69f" stroke="none" stroke-width="1"/>
<rect x="310.24" y="179.52" width="10.14" height="9.39" fill="#3e26a8" stroke="none" stroke-width="1"/>
<rect x="320.34" y="179.52" width="10.14" height="9.39" fill="#3e26a8" stroke="none" stroke-width="1"/>
<rect x="330.43" y="179.52" width="10.14" height="9.39" fill="#3e26a8" stroke="none" stroke-width="1"/>
<rect x="340.52" y="179.52" width="10.14" height="9.39" fill="#3e26a8" stroke="none" stroke-width="1"/>
<rect x="350.61" y="179.52" width="10.14" height="9.39" fill="#3e26a8" stroke="none" stroke-width="1"/>
<rect x="88.24" y="170.18" width="10.14" height="9.39" fill="#3e26a8" stroke="none" stroke-width="1"/>
<rect x="98.33" y="170.18" width="10.14" height="9.39" fill="#3e26a8" stroke="none" stroke-width="1"/>
<rect x="108.42" y="170.18" width="10.14" height="9.39" fill="#3e26a8" stroke="none" stroke-width="1"/>
<rect x="118.51" y="170.18" width="10.14" height="9.39" fill="#3e26a8" stroke="none" stroke-width="1"/>
<rect x="128.6" y="170.18" width="10.14" height="9.39" fill="#3e26a8" stroke="none" stroke-width="1"/>
<rect x="138.7" y="170.18" width="10.14" height="9.39" fill="#3e26a8" stroke="none" stroke-width="1"/>
<rect x="148.79" y="170.18" width="10.14" height="9.39" fill="#3e26a8" stroke="none" stroke-width="1"/>
<rect x="158.88" y="170.18" width="10.14" height="9.39" fill="#3e26a8" stroke="none" stroke-width="1"/>
<rect x="168.97" y="170.18" width="10.14" height="9.39" fill="#3e26a8" stroke="none" stroke-width="1"/>
<rect x="179.06" y="170.18" width="10.14" height="9.39" fill="#3e26a8" stroke="none" stroke-width="1"/>
<rect x="189.15" y="170.18" width="10.14" height="9.39" fill="#3e26a8" stroke="none" stroke-width="1"/>
<rect x="199.24" y="170.18" width="10.14" height="9.39" fill="#3e26a8" stroke="none" stroke-width="1"/>
<rect x="209.33" y="170.18" width="10.14" height="9.39" fill="#3e26a8" stroke="none" stroke-width="1"/>
<rect x="219.42" y="170.18" width="10.14" height="9.39" fill="#3e26a8" stroke="none" stroke-width="1"/>
<rect x="229.52" y="170.18" width="10.14" height="9.39" fill="#3e26a8" stroke="none" stroke-width="1"/>
<rect x="239.61" y="170.18" width="10.14" height="9.39" fill="#3e26a8" stroke="none" stroke-width="1"/>
<rect x="249.7" y="170.18" width="10.14" height="9.39" fill="#3e26a8" stroke="none" stroke-width="1"/>
<rect x="259.79" y="170.18" width="10.14" height="9.39" fill="#3e26a8" stroke="none" stroke-width="1"/>
<rect x="269.88" y="170.18" width="10.14" height="9.39" fill="#3e26a8" stroke="none" stroke-width="1"/>
<rect x="279.97" y="170.18" width="10.14" height="9.39" fill="#3e26a8" stroke="none" stroke-width="1"/>
<rect x="290.06" y="170.18" width="10.14" height="9.39" fill="#3e26a8" stroke="none" stroke-width="1"/>
<rect x="300.15" y="170.18" width="10.14" height="9.39" fill="#402ab4" stroke="none" stroke-width="1"/>
<rect x="310.24" y="170.18" width="10.14" height="9.39" fill="#3e26a8" stroke="none" stroke-width="1"/>
<rect x="320.34" y="170.18" width="10.14" height="9.39" fill="#3e26a8" stroke="none" stroke-width="1"/>
<rect x="330.43" y="170.18" width="10.14" height="9.39" fill="#3e26a8" stroke="none" stroke-width="1"/>
<rect x="340.52" y="170.18" width="10.14" height="9.39" fill="#3e26a8" stroke="none" stroke-width="1"/>
<rect x="350.61" y="170.18" width="10.14" height="9.39" fill="#3e26a8" stroke="none" stroke-width="1"/>
<rect x="88.24" y="160.83" width="10.14" height="9.39" fill="#3e26a8" stroke="none" stroke-width="1"/>
<rect x="98.33" y="160.83" width="10.14" height="9.39" fill="#3e26a8" stroke="none" stroke-width="1"/>
<rect x="108.42" y="160.83" width="10.14" height="9.39" fill="#3e26a8" stroke="none" stroke-width="1"/>
<rect x="118.51" y="160.83" width="10.14" height="9.39" fill="#3e26a8" stroke="none" stroke-width="1"/>
<rect x="128.6" y="160.83" width="10.14" height="9.39" fill="#3e26a8" stroke="none" stroke-width="1"/>
<rect x="138.7" y="160.83" width="10.14" height="9.39" fill="#3e26a8" stroke="none" stroke-width="1"/>
<rect x="148.79" y="160.83" width="10.14" height="9.39" fill="#3e26a8" stroke="none" stroke-width="1"/>
<rect x="158.88" y="160.83" width="10.14" height="9.39" fill="#3e26a8" stroke="none" stroke-width="1"/>
<rect x="168.97" y="160.83" width="10.14" height="9.39" fill="#3e26a8" stroke="none" stroke-width="1"/>
<rect x="179.06" y="160.83" width="10.14" height="9.39" fill="#3e26a8" stroke="none" stroke-width="1"/>
<rect x="189.15" y="160.83" width="10.14" height="9.39" fill="#3e26a8" stroke="none" stroke-width="1"/>
<rect x="199.24" y="160.83" width="10.14" height="9.39" fill="#3e26a8" stroke="none" stroke-width="1"/>
<rect x="209.33" y="160.83" width="10.14" height="9.39" fill="#3e26a8" stroke="none" stroke-width="1"/>
<rect x="219.42" y="160.83" width="10.14" height="9.39" fill="#3e26a8" stroke="none" stroke-width="1"/>
<rect x="229.52" y="160.83" width="10.14" height="9.39" fill="#3e26a8" stroke="none" stroke-width="1"/>
<rect x="239.61" y="160.83" width="10.14" height="9.39" fill="#3e26a8" stroke="none" stroke-width="1"/>
<rect x="249.7" y="160.83" width="10.14" height="9.39" fill="#3e26a8" stroke="none" stroke-width="1"/>
<rect x="259.79" y="160.83" width="10.14" height="9.39" fill="#3e26a8" stroke="none" stroke-width="1"/>
<rect x="269.88" y="160.83" width="10.14" height="9.39" fill="#3e26a8" stroke="none" stroke-width="1"/>
<rect x="279.97" y="160.83" width="10.14" height="9.39" fill="#3e26a8" stroke="none" stroke-width="1"/>
<rect x="290.06" y="160.83" width="10.14" height="9.39" fill="#3e26a8" stroke="none" stroke-width="1"/>
<rect x="300.15" y="160.83" width="10.14" height="9.39" fill="#3e26a8" stroke="none" stroke-width="1"/>
<rect x="310.24" y="160.83" width="10.14" height="9.39" fill="#3e26a8" stroke="none" stroke-width="1"/>
<rect x="320.34" y="160.83" width="10.14" height="9.39" fill="#3e26a8" stroke="none" stroke-width="1"/>
<rect x="330.43" y="160.83" width="10.14" height="9.39" fill="#3e26a8" stroke="none" stroke-width="1"/>
<rect x="340.52" y="160.83" width="10.14" height="9.39" fill="#3e26a8" stroke="none" stroke-width="1"/>
<rect x="350.61" y="160.83" width="10.14" height="9.39" fill="#3e26a8" stroke="none" stroke-width="1"/>
<rect x="88.24" y="151.49" width="10.14" height="9.39" fill="#3e26a8" stroke="none" stroke-width="1"/>
<rect x="98.33" y="151.49" width="10.14" height="9.39" fill="#3e26a8" stroke="none" stroke-width="1"/>
<rect x="108.42" y="151.49" width="10.14" height="9.39" fill="#3e26a8" stroke="none" stroke-width="1"/>
<rect x="118.51" y="151.49" width="10.14" height="9.39" fill="#3e26a8" stroke="none" stroke-width="1"/>
<rect x="128.6" y="151.49" width="10.14" height="9.39" fill="#3e26a8" stroke="none" stroke-width="1"/>
<rect x="138.7" y="151.49" width="10.14" height="9.39" fill="#3e26a8" stroke="none" stroke-width="1"/>
<rect x="148.79" y="151.49" width="10.14" height="9.39" fill="#3e26a8" stroke="none" stroke-width="1"/>
<rect x="158.88" y="151.49" width="10.14" height="9.39" fill="#3e26a8" stroke="none" stroke-width="1"/>
<rect x="168.97" y="151.49" width="10.14" height="9.39" fill="#3e26a8" stroke="none" stroke-width="1"/>
<rect x="179.06" y="151.49" width="10.14" height="9.39" fill="#3e26a8" stroke="none" stroke-width="1"/>
<rect x="189.15" y="151.49" width="10.14" height="9.39" fill="#3e26a8" stroke="none" stroke-width="1"/>
<rect x="199.24" y="151.49" width="10.14" height="9.39" fill="#3e26a8" stroke="none" stroke-width="1"/>
<rect x="209.33" y="151.49" width="10.14" height="9.39" fill="#3e26a8" stroke="none" stroke-width="1"/>
<rect x="219.42" y="151.49" width="10.14" height="9.39" fill="#3e26a8" stroke="none" stroke-width="1"/>
<rect x="229.52" y="151.49" width="10.14" height="9.39" fill="#3e26a8" stroke="none" stroke-width="1"/>
<rect x="239.61" y="151.49" width="10.14" height="9.39" fill="#3e26a8" stroke="none" stroke-width="1"/>
<rect x="249.7" y="151.49" width="10.14" height="9.39" fill="#3e26a8" stroke="none" stroke-width="1"/>
<rect x="259.79" y="151.49" width="10.14" height="9.39" fill="#3e26a8" stroke="none" stroke-width="1"/>
<rect x="269.88" y="151.49" width="10.14" height="9.39" fill="#3e26a8" stroke="none" stroke-width="1"/>
<rect x="279.97" y="151.49" width="10.14" height="9.39" fill="#3e26a8" stroke="none" stroke-width="1"/>
<rect x="290.06" y="151.49" width="10.14" height="9.39" fill="#3e26a8" stroke="none" stroke-width="1"/>
<rect x="300.15" y="151.49" width="10.14" height="9.39" fill="#402ab4" stroke="none" stroke-width="1"/>
<rect x="310.24" y="151.49" width="10.14" height="9.39" fill="#3e26a8" stroke="none" stroke-width="1"/>
<rect x="320.34" y="151.49" width="10.14" height="9.39" fill="#3e26a8" stroke="none" stroke-width="1"/>
<rect x="330.43" y="151.49" width="10.14" height="9.39" fill="#3e26a8" stroke="none" stroke-width="1"/>
<rect x="340.52" y="151.49" width="10.14" height="9.39" fill="#3e26a8" stroke="none" stroke-width="1"/>
<rect x="350.61" y="151.49" width="10.14" height="9.39" fill="#3e26a8" stroke="none" stroke-width="1"/>
<rect x="88.24" y="142.14" width="10.14" height="9.39" fill="#3e26a8" stroke="none" stroke-width="1"/>
<rect x="98.33" y="142.14" width="10.14" height="9.39" fill="#3e26a8" stroke="none" stroke-width="1"/>
<rect x="108.42" y="142.14" width="10.14" height="9.39" fill="#3e26a8" stroke="none" stroke-width="1"/>
<rect x="118.51" y="142.14" width="10.14" height="9.39" fill="#3e26a8" stroke="none" stroke-width="1"/>
<rect x="128.6" y="142.14" width="10.14" height="9.39" fill="#3e26a8" stroke="none" stroke-width="1"/>
<rect x="138.7" y="142.14" width="10.14" height="9.39" fill="#3e26a8" stroke="none" stroke-width="1"/>
<rect x="148.79" y="142.14" width="10.14" height="9.39" fill="#3e26a8" stroke="none" stroke-width="1"/>
<rect x="158.88" y="142.14" width="10.14" height="9.39" fill="#3e26a8" stroke="none" stroke-width="1"/>
<rect x="168.97" y="142.14" width="10.14" height="9.39" fill="#3e26a8" stroke="none" stroke-width="1"/>
<rect x="179.06" y="142.14" width="10.14" height="9.39" fill="#3e26a8" stroke="none" stroke-width="1"/>
<rect x="189.15" y="142.14" width="10.14" height="9.39" fill="#3e26a8" stroke="none" stroke-width="1"/>
<rect x="199.24" y="142.14" width="10.14" height="9.39" fill="#3e26a8" stroke="none" stroke-width="1"/>
<rect x="209.33" y="142.14" width="10.14" height="9.39" fill="#3e26a8" stroke="none" stroke-width="1"/>
<rect x="219.42" y="142.14" width="10.14" height="9.39" fill="#3e26a8" stroke="none" stroke-width="1"/>
<rect x="229.52" y="142.14" width="10.14" height="9.39" fill="#3e26a8" stroke="none" stroke-width="1"/>
<rect x="239.61" y="142.14" width="10.14" height="9.39" fill="#3e26a8" stroke="none" stroke-width="1"/>
<rect x="249.7" y="142.14" width="10.14" height="9.39" fill="#3e26a8" stroke="none" stroke-width="1"/>
<rect x="259.79" y="142.14" width="10.14" height="9.39" fill="#3e26a8" stroke="none" stroke-width="1"/>
<rect x="269.88" y="142.14" width="10.14" height="9.39" fill="#3e26a8" stroke="none" stroke-width="1"/>
<rect x="279.97" y="142.14" width="10.14" height="9.39" fill="#3e26a8" stroke="none" stroke-width="1"/>
<rect x="290.06" y="142.14" width="10.14" height="9.39" fill="#3e26a8" stroke="none" stroke-width="1"/>
<rect x="300.15" y="142.14" width="10.14" height="9.39" fill="#19bfb6" stroke="none" stroke-width="1"/>
<rect x="310.24" y="142.14" width="10.14" height="9.39" fill="#3e26a8" stroke="none" stroke-width="1"/>
<rect x="320.34" y="142.14" width="10.14" height="9.39" fill="#3e26a8" stroke="none" stroke-width="1"/>
<rect x="330.43" y="142.14" width="10.14" height="9.39" fill="#3e26a8" stroke="none" stroke-width="1"/>
<rect x="340.52" y="142.14" width="10.14" height="9.39" fill="#3e26a8" stroke="none" stroke-width="1"/>
<rect x="350.61" y="142.14" width="10.14" height="9.39" fill="#3e26a8" stroke="none" stroke-width="1"/>
<rect x="88.24" y="132.8" width="10.14" height="9.39" fill="#3e26a8" stroke="none" stroke-width="1"/>
<rect x="98.33" y="132.8" width="10.14" height="9.39" fill="#3e26a8" stroke="none" stroke-width="1"/>
<rect x="108.42" y="132.8" width="10.14" height="9.39" fill="#3e26a8" stroke="none" stroke-width="1"/>
<rect x="118.51" y="132.8" width="10.14" height="9.39" fill="#3e26a8" stroke="none" stroke-width="1"/>
<rect x="128.6" y="132.8" width="10.14" height="9.39" fill="#3e26a8" stroke="none" stroke-width="1"/>
<rect x="138.7" y="132.8" width="10.14" height="9.39" fill="#3e26a8" stroke="none" stroke-width="1"/>
<rect x="148.79" y="132.8" width="10.14" height="9.39" fill="#3e26a8" stroke="none" stroke-width="1"/>
<rect x="158.88" y="132.8" width="10.14" height="9.39" fill="#3e26a8" stroke="none" stroke-width="1"/>
<rect x="168.97" y="132.8" width="10.14" height="9.39" fill="#3e26a8" stroke="none" stroke-width="1"/>
<rect x="179.06" y="132.8" width="10.14" height="9.39" fill="#3e26a8" stroke="none" stroke-width="1"/>
<rect x="189.15" y="132.8" width="10.14" height="9.39" fill="#3e26a8" stroke="none" stroke-width="1"/>
<rect x="199.24" y="132.8" width="10.14" height="9.39" fill="#3e26a8" stroke="none" stroke-width="1"/>
<rect x="209.33" y="132.8" width="10.14" height="9.39" fill="#3e26a8" stroke="none" stroke-width="1"/>
<rect x="219.42" y="132.8" width="10.14" height="9.39" fill="#3e26a8" stroke="none" stroke-width="1"/>
<rect x="229.52" y="132.8" width="10.14" height="9.39" fill="#3e26a8" stroke="none" stroke-width="1"/>
<rect x="239.61" y="132.8" width="10.14" height="9.39" fill="#3e26a8" stroke="none" stroke-width="1"/>
<rect x="249.7" y="132.8" width="10.14" height="9.39" fill="#3e26a8" stroke="none" stroke-width="1"/>
<rect x="259.79" y="132.8" width="10.14" height="9.39" fill="#3e26a8" stroke="none" stroke-width="1"/>
<rect x="269.88" y="132.8" width="10.14" height="9.39" fill="#3e26a8" stroke="none" stroke-width="1"/>
<rect x="279.97" y="132.8" width="10.14" height="9.39" fill="#3e26a8" stroke="none" stroke-width="1"/>
<rect x="290.06" y="132.8" width="10.14" height="9.39" fill="#3e26a8" stroke="none" stroke-width="1"/>
<rect x="300.15" y="132.8" width="10.14" height="9.39" fill="#402ab4" stroke="none" stroke-width="1"/>
<rect x="310.24" y="132.8" width="10.14" height="9.39" fill="#3e26a8" stroke="none" stroke-width="1"/>
<rect x="320.34" y="132.8" width="10.14" height="9.39" fill="#3e26a8" stroke="none" stroke-width="1"/>
<rect x="330.43" y="132.8" width="10.14" height="9.39" fill="#3e26a8" stroke="none" stroke-width="1"/>
<rect x="340.52" y="132.8" width="10.14" height="9.39" fill="#3e26a8" stroke="none" stroke-width="1"/>
<rect x="350.61" y="132.8" width="10.14" height="9.39" fill="#3e26a8" stroke="none" stroke-width="1"/>
<rect x="88.24" y="123.46" width="10.14" height="9.39" fill="#3e26a8" stroke="none" stroke-width="1"/>
<rect x="98.33" y="123.46" width="10.14" height="9.39" fill="#3e26a8" stroke="none" stroke-width="1"/>
<rect x="108.42" y="123.46" width="10.14" height="9.39" fill="#3e26a8" stroke="none" stroke-width="1"/>
<rect x="118.51" y="123.46" width="10.14" height="9.39" fill="#3e26a8" stroke="none" stroke-width="1"/>
<rect x="128.6" y="123.46" width="10.14" height="9.39" fill="#3e26a8" stroke="none" stroke-width="1"/>
<rect x="138.7" y="123.46" width="10.14" height="9.39" fill="#3e26a8" stroke="none" stroke-width="1"/>
<rect x="148.79" y="123.46" width="10.14" height="9.39" fill="#3e26a8" stroke="none" stroke-width="1"/>
<rect x="158.88" y="123.46" width="10.14" height="9.39" fill="#3e26a8" stroke="none" stroke-width="1"/>
<rect x="168.97" y="123.46" width="10.14" height="9.39" fill="#3e26a8" stroke="none" stroke-width="1"/>
<rect x="179.06" y="123.46" width="10.14" height="9.39" fill="#3e26a8" stroke="none" stroke-width="1"/>
<rect x="189.15" y="123.46" width="10.14" height="9.39" fill="#3e26a8" stroke="none" stroke-width="1"/>
<rect x="199.24" y="123.46" width="10.14" height="9.39" fill="#3e26a8" stroke="none" stroke-width="1"/>
<rect x="209.33" y="123.46" width="10.14" height="9.39" fill="#3e26a8" stroke="none" stroke-width="1"/>
<rect x="219.42" y="123.46" width="10.14" height="9.39" fill="#3e26a8" stroke="none" stroke-width="1"/>
<rect x="229.52" y="123.46" width="10.14" height="9.39" fill="#3e26a8" stroke="none" stroke-width="1"/>
<rect x="239.61" y="123.46" width="10.14" height="9.39" fill="#3e26a8" stroke="none" stroke-width="1"/>
<rect x="249.7" y="123.46" width="10.14" height="9.39" fill="#3e26a8" stroke="none" stroke-width="1"/>
<rect x="259.79" y="123.46" width="10.14" height="9.39" fill="#3e26a8" stroke="none" stroke-width="1"/>
<rect x="269.88" y="123.46" width="10.14" height="9.39" fill="#3e26a8" stroke="none" stroke-width="1"/>
<rect x="279.97" y="123.46" width="10.14" height="9.39" fill="#3e26a8" stroke="none" stroke-width="1"/>
<rect x="290.06" y="123.46" width="10.14" height="9.39" fill="#3e26a8" stroke="none" stroke-width="1"/>
<rect x="300.15" y="123.46" width="10.14" height="9.39" fill="#f6ef20" stroke="none" stroke-width="1"/>
<rect x="310.24" y="123.46" width="10.14" height="9.39" fill="#3e26a8" stroke="none" stroke-width="1"/>
<rect x="320.34" y="123.46" width="10.14" height="9.39" fill="#3e26a8" stroke="none" stroke-width="1"/>
<rect x="330.43" y="123.46" width="10.14" height="9.39" fill="#3e26a8" stroke="none" stroke-width="1"/>
<rect x="340.52" y="123.46" width="10.14" height="9.39" fill="#3e26a8" stroke="none" stroke-width="1"/>
<rect x="350.61" y="123.46" width="10.14" height="9.39" fill="#3e26a8" stroke="none" stroke-width="1"/>
<rect x="88.24" y="114.11" width="10.14" height="9.39" fill="#3e26a8" stroke="none" stroke-width="1"/>
<rect x="98.33" y="114.11" width="10.14" height="9.39" fill="#3e26a8" stroke="none" stroke-width="1"/>
<rect x="108.42" y="114.11" width="10.14" height="9.39" fill="#3e26a8" stroke="none" stroke-width="1"/>
<rect x="118.51" y="114.11" width="10.14" height="9.39" fill="#3e26a8" stroke="none" stroke-width="1"/>
<rect x="128.6" y="114.11" width="10.14" height="9.39" fill="#3e26a8" stroke="none" stroke-width="1"/>
<rect x="138.7" y="114.11" width="10.14" height="9.39" fill="#3e26a8" stroke="none" stroke-width="1"/>
<rect x="148.79" y="114.11" width="10.14" height="9.39" fill="#3e26a8" stroke="none" stroke-width="1"/>
<rect x="158.88" y="114.11" width="10.14" height="9.39" fill="#3e26a8" stroke="none" stroke-width="1"/>
<rect x="168.97" y="114.11" width="10.14" height="9.39" fill="#3e26a8" stroke="none" stroke-width="1"/>
<rect x="179.06" y="114.11" width="10.14" height="9.39" fill="#3e26a8" stroke="none" stroke-width="1"/>
<rect x="189.15" y="114.11" width="10.14" height="9.39" fill="#3e26a8" stroke="none" stroke-width="1"/>
<rect x="199.24" y="114.11" width="10.14" height="9.39" fill="#3e26a8" stroke="none" stroke-width="1"/>
<rect x="209.33" y="114.11" width="10.14" height="9.39" fill="#3e26a8" stroke="none" stroke-width="1"/>
<rect x="219.42" y="114.11" width="10.14" height="9.39" fill="#3e26a8" stroke="none" stroke-width="1"/>
<rect x="229.52" y="114.11" width="10.14" height="9.39" fill="#3e26a8" stroke="none" stroke-width="1"/>
<rect x="239.61" y="114.11" width="10.14" height="9.39" fill="#3e26a8" stroke="none" stroke-width="1"/>
<rect x="249.7" y="114.11" width="10.14" height="9.39" fill="#3e26a8" stroke="none" stroke-width="1"/>
<rect x="259.79" y="114.11" width="10.14" height="9.39" fill="#3e26a8" stroke="none" stroke-width="1"/>
<rect x="269.88" y="114.11" width="10.14" height="9.39" fill="#3e26a8" stroke="none" stroke-width="1"/>
<rect x="279.97" y="114.11" width="10.14" height="9.39" fill="#3e26a8" stroke="none" stroke-width="1"/>
<rect x="290.06" y="114.11" width="10.14" height="9.39" fill="#3e26a8" stroke="none" stroke-width="1"/>
<rect x="300.15" y="114.11" width="10.14" height="9.39" fill="#402ab4" stroke="none" stroke-width="1"/>
<rect x="310.24" y="114.11" width="10.14" height="9.39" fill="#3e26a8" stroke="none" stroke-width="1"/>
<rect x="320.34" y="114.11" width="10.14" height="9.39" fill="#3e26a8" stroke="none" stroke-width="1"/>
<rect x="330.43" y="114.11" width="10.14" height="9.39" fill="#3e26a8" stroke="none" stroke-width="1"/>
<rect x="340.52" y="114.11" width="10.14" height="9.39" fill="#3e26a8" stroke="none" stroke-width="1"/>
<rect x="350.61" y="114.11" width="10.14" height="9.39" fill="#3e26a8" stroke="none" stroke-width="1"/>
<rect x="88.24" y="104.77" width="10.14" height="9.39" fill="#3e26a8" stroke="none" stroke-width="1"/>
<rect x="98.33" y="104.77" width="10.14" height="9.39" fill="#3e26a8" stroke="none" stroke-width="1"/>
<rect x="108.42" y="104.77" width="10.14" height="9.39" fill="#3e26a8" stroke="none" stroke-width="1"/>
<rect x="118.51" y="104.77" width="10.14" height="9.39" fill="#3e26a8" stroke="none" stroke-width="1"/>
<rect x="128.6" y="104.77" width="10.14" height="9.39" fill="#3e26a8" stroke="none" stroke-width="1"/>
<rect x="138.7" y="104.77" width="10.14" height="9.39" fill="#3e26a8" stroke="none" stroke-width="1"/>
<rect x="148.79" y="104.77" width="10.14" height="9.39" fill="#3e26a8" stroke="none" stroke-width="1"/>
<rect x="158.88" y="104.77" width="10.14" height="9.39" fill="#3e26a8" stroke="none" stroke-width="1"/>
<rect x="168.97" y="104.77" width="10.14" height="9.39" fill="#3e26a8" stroke="none" stroke-width="1"/>
<rect x="179.06" y="104.77" width="10.14" height="9.39" fill="#3e26a8" stroke="none" stroke-width="1"/>
<rect x="189.15" y="104.77" width="10.14" height="9.39" fill="#3e26a8" stroke="none" stroke-width="1"/>
<rect x="199.24" y="104.77" width="10.14" height="9.39" fill="#3e26a8" stroke="none" stroke-width="1"/>
<rect x="209.33" y="104.77" width="10.14" height="9.39" fill="#3e26a8" stroke="none" stroke-width="1"/>
<rect x="219.42" y="104.77" width="10.14" height="9.39" fill="#3e26a8" stroke="none" stroke-width="1"/>
<rect x="229.52" y="104.77" width="10.14" height="9.39" fill="#3e26a8" stroke="none" stroke-width="1"/>
<rect x="239.61" y="104.77" width="10.14" height="9.39" fill="#3e26a8" stroke="none" stroke-width="1"/>
<rect x="249.7" y="104.77" width="10.14" height="9.39" fill="#3e26a8" stroke="none" stroke-width="1"/>
<rect x="259.79" y="104.77" width="10.14" height="9.39" fill="#3e26a8" stroke="none" stroke-width="1"/>
<rect x="269.88" y="104.77" width="10.14" height="9.39" fill="#3e26a8" stroke="none" stroke-width="1"/>
<rect x="279.97" y="104.77" width="10.14" height="9.39" fill="#3e26a8" stroke="none" stroke-width="1"/>
<rect x="290.06" y="104.77" width="10.14" height="9.39" fill="#3e26a8" stroke="none" stroke-width="1"/>
<rect x="300.15" y="104.77" width="10.14" height="9.39" fill="#259be8" stroke="none" stroke-width="1"/>
<rect x="310.24" y="104.77" width="10.14" height="9.39" fill="#3e26a8" stroke="none" stroke-width="1"/>
<rect x="320.34" y="104.77" width="10.14" height="9.39" fill="#3e26a8" stroke="none" stroke-width="1"/>
<rect x="330.43" y="104.77" width="10.14" height="9.39" fill="#3e26a8" stroke="none" stroke-width="1"/>
<rect x="340.52" y="104.77" width="10.14" height="9.39" fill="#3e26a8" stroke="none" stroke-width="1"/>
<rect x="350.61" y="104.77" width="10.14" height="9.39" fill="#3e26a8" stroke="none" stroke-width="1"/>
<rect x="88.24" y="95.42" width="10.14" height="9.39" fill="#4758f8" stroke="none" stroke-width="1"/>
<rect x="98.33" y="95.42" width="10.14" height="9.39" fill="#402ab4" stroke="none" stroke-width="1"/>
<rect x="108.42" y="95.42" width="10.14" height="9.39" fill="#fec934" stroke="none" stroke-width="1"/>
<rect x="118.51" y="95.42" width="10.14" height="9.39" fill="#402ab4" stroke="none" stroke-width="1"/>
<rect x="128.6" y="95.42" width="10.14" height="9.39" fill="#b9c431" stroke="none" stroke-width="1"/>
<rect x="138.7" y="95.42" width="10.14" height="9.39" fill="#402ab4" stroke="none" stroke-width="1"/>
<rect x="148.79" y="95.42" width="10.14" height="9.39" fill="#422ec0" stroke="none" stroke-width="1"/>
<rect x="158.88" y="95.42" width="10.14" height="9.39" fill="#402ab4" stroke="none" stroke-width="1"/>
<rect x="168.97" y="95.42" width="10.14" height="9.39" fill="#2b91ef" stroke="none" stroke-width="1"/>
<rect x="179.06" y="95.42" width="10.14" height="9.39" fill="#402ab4" stroke="none" stroke-width="1"/>
<rect x="189.15" y="95.42" width="10.14" height="9.39" fill="#f6ef20" stroke="none" stroke-width="1"/>
<rect x="199.24" y="95.42" width="10.14" height="9.39" fill="#402ab4" stroke="none" stroke-width="1"/>
<rect x="209.33" y="95.42" width="10.14" height="9.39" fill="#31c69f" stroke="none" stroke-width="1"/>
<rect x="219.42" y="95.42" width="10.14" height="9.39" fill="#402ab4" stroke="none" stroke-width="1"/>
<rect x="229.52" y="95.42" width="10.14" height="9.39" fill="#3e26a8" stroke="none" stroke-width="1"/>
<rect x="239.61" y="95.42" width="10.14" height="9.39" fill="#402ab4" stroke="none" stroke-width="1"/>
<rect x="249.7" y="95.42" width="10.14" height="9.39" fill="#19bfb6" stroke="none" stroke-width="1"/>
<rect x="259.79" y="95.42" width="10.14" height="9.39" fill="#402ab4" stroke="none" stroke-width="1"/>
<rect x="269.88" y="95.42" width="10.14" height="9.39" fill="#f6ef20" stroke="none" stroke-width="1"/>
<rect x="279.97" y="95.42" width="10.14" height="9.39" fill="#402ab4" stroke="none" stroke-width="1"/>
<rect x="290.06" y="95.42" width="10.14" height="9.39" fill="#259be8" stroke="none" stroke-width="1"/>
<rect x="300.15" y="95.42" width="10.14" height="9.39" fill="#402ab4" stroke="none" stroke-width="1"/>
<rect x="310.24" y="95.42" width="10.14" height="9.39" fill="#259be8" stroke="none" stroke-width="1"/>
<rect x="320.34" y="95.42" width="10.14" height="9.39" fill="#402ab4" stroke="none" stroke-width="1"/>
<rect x="330.43" y="95.42" width="10.14" height="9.39" fill="#f9fb15" stroke="none" stroke-width="1"/>
<rect x="340.52" y="95.42" width="10.14" height="9.39" fill="#402ab4" stroke="none" stroke-width="1"/>
<rect x="350.61" y="95.42" width="10.14" height="9.39" fill="#37c897" stroke="none" stroke-width="1"/>
<rect x="88.24" y="86.08" width="10.14" height="9.39" fill="#3e26a8" stroke="none" stroke-width="1"/>
<rect x="98.33" y="86.08" width="10.14" height="9.39" fill="#3e26a8" stroke="none" stroke-width="1"/>
<rect x="108.42" y="86.08" width="10.14" height="9.39" fill="#3e26a8" stroke="none" stroke-width="1"/>
<rect x="118.51" y="86.08" width="10.14" height="9.39" fill="#3e26a8" stroke="none" stroke-width="1"/>
<rect x="128.6" y="86.08" width="10.14" height="9.39" fill="#3e26a8" stroke="none" stroke-width="1"/>
<rect x="138.7" y="86.08" width="10.14" height="9.39" fill="#3e26a8" stroke="none" stroke-width="1"/>
<rect x="148.79" y="86.08" width="10.14" height="9.39" fill="#3e26a8" stroke="none" stroke-width="1"/>
<rect x="158.88" y="86.08" width="10.14" height="9.39" fill="#3e26a8" stroke="none" stroke-width="1"/>
<rect x="168.97" y="86.08" width="10.14" height="9.39" fill="#3e26a8" stroke="none" stroke-width="1"/>
<rect x="179.06" y="86.08" width="10.14" height="9.39" fill="#3e26a8" stroke="none" stroke-width="1"/>
<rect x="189.15" y="86.08" width="10.14" height="9.39" fill="#3e26a8" stroke="none" stroke-width="1"/>
<rect x="199.24" y="86.08" width="10.14" height="9.39" fill="#3e26a8" stroke="none" stroke-width="1"/>
<rect x="209.33" y="86.08" width="10.14" height="9.39" fill="#3e26a8" stroke="none" stroke-width="1"/>
<rect x="219.42" y="86.08" width="10.14" height="9.39" fill="#3e26a8" stroke="none" stroke-width="1"/>
<rect x="229.52" y="86.08" width="10.14" height="9.39" fill="#3e26a8" stroke="none" stroke-width="1"/>
<rect x="239.61" y="86.08" width="10.14" height="9.39" fill="#3e26a8" stroke="none" stroke-width="1"/>
<rect x="249.7" y="86.08" width="10.14" height="9.39" fill="#3e26a8" stroke="none" stroke-width="1"/>
<rect x="259.79" y="86.08" width="10.14" height="9.39" fill="#3e26a8" stroke="none" stroke-width="1"/>
<rect x="269.88" y="86.08" width="10.14" height="9.39" fill="#3e26a8" stroke="none" stroke-width="1"/>
<rect x="279.97" y="86.08" width="10.14" height="9.39" fill="#3e26a8" stroke="none" stroke-width="1"/>
<rect x="290.06" y="86.08" width="10.14" height="9.39" fill="#3e26a8" stroke="none" stroke-width="1"/>
<rect x="300.15" y="86.08" width="10.14" height="9.39" fill="#259be8" stroke="none" stroke-width="1"/>
<rect x="310.24" y="86.08" width="10.14" height="9.39" fill="#3e26a8" stroke="none" stroke-width="1"/>
<rect x="320.34" y="86.08" width="10.14" height="9.39" fill="#3e26a8" stroke="none" stroke-width="1"/>
<rect x="330.43" y="86.08" width="10.14" height="9.39" fill="#3e26a8" stroke="none" stroke-width="1"/>
<rect x="340.52" y="86.08" width="10.14" height="9.39" fill="#3e26a8" stroke="none" stroke-width="1"/>
<rect x="350.61" y="86.08" width="10.14" height="9.39" fill="#3e26a8" stroke="none" stroke-width="1"/>
<rect x="88.24" y="76.73" width="10.14" height="9.39" fill="#3e26a8" stroke="none" stroke-width="1"/>
<rect x="98.33" y="76.73" width="10.14" height="9.39" fill="#3e26a8" stroke="none" stroke-width="1"/>
<rect x="108.42" y="76.73" width="10.14" height="9.39" fill="#3e26a8" stroke="none" stroke-width="1"/>
<rect x="118.51" y="76.73" width="10.14" height="9.39" fill="#3e26a8" stroke="none" stroke-width="1"/>
<rect x="128.6" y="76.73" width="10.14" height="9.39" fill="#3e26a8" stroke="none" stroke-width="1"/>
<rect x="138.7" y="76.73" width="10.14" height="9.39" fill="#3e26a8" stroke="none" stroke-width="1"/>
<rect x="148.79" y="76.73" width="10.14" height="9.39" fill="#3e26a8" stroke="none" stroke-width="1"/>
<rect x="158.88" y="76.73" width="10.14" height="9.39" fill="#3e26a8" stroke="none" stroke-width="1"/>
<rect x="168.97" y="76.73" width="10.14" height="9.39" fill="#3e26a8" stroke="none" stroke-width="1"/>
<rect x="179.06" y="76.73" width="10.14" height="9.39" fill="#3e26a8" stroke="none" stroke-width="1"/>
<rect x="189.15" y="76.73" width="10.14" height="9.39" fill="#3e26a8" stroke="none" stroke-width="1"/>
<rect x="199.24" y="76.73" width="10.14" height="9.39" fill="#3e26a8" stroke="none" stroke-width="1"/>
<rect x="209.33" y="76.73" width="10.14" height="9.39" fill="#3e26a8" stroke="none" stroke-width="1"/>
<rect x="219.42" y="76.73" width="10.14" height="9.39" fill="#3e26a8" stroke="none" stroke-width="1"/>
<rect x="229.52" y="76.73" width="10.14" height="9.39" fill="#3e26a8" stroke="none" stroke-width="1"/>
<rect x="239.61" y="76.73" width="10.14" height="9.39" fill="#3e26a8" stroke="none" stroke-width="1"/>
<rect x="249.7" y="76.73" width="10.14" height="9.39" fill="#3e26a8" stroke="none" stroke-width="1"/>
<rect x="259.79" y="76.73" width="10.14" height="9.39" fill="#3e26a8" stroke="none" stroke-width="1"/>
<rect x="269.88" y="76.73" width="10.14" height="9.39" fill="#3e26a8" stroke="none" stroke-width="1"/>
<rect x="279.97" y="76.73" width="10.14" height="9.39" fill="#3e26a8" stroke="none" stroke-width="1"/>
<rect x="290.06" y="76.73" width="10.14" height="9.39" fill="#3e26a8" stroke="none" stroke-width="1"/>
<rect x="300.15" y="76.73" width="10.14" height="9.39" fill="#402ab4" stroke="none" stroke-width="1"/>
<rect x="310.24" y="76.73" width="10.14" height="9.39" fill="#3e26a8" stroke="none" stroke-width="1"/>
<rect x="320.34" y="76.73" width="10.14" height="9.39" fill="#3e26a8" stroke="none" stroke-width="1"/>
<rect x="330.43" y="76.73" width="10.14" height="9.39" fill="#3e26a8" stroke="none" stroke-width="1"/>
<rect x="340.52" y="76.73" width="10.14" height="9.39" fill="#3e26a8" stroke="none" stroke-width="1"/>
<rect x="350.61" y="76.73" width="10.14" height="9.39" fill="#3e26a8" stroke="none" stroke-width="1"/>
<rect x="88.24" y="67.39" width="10.14" height="9.39" fill="#3e26a8" stroke="none" stroke-width="1"/>
<rect x="98.33" y="67.39" width="10.14" height="9.39" fill="#3e26a8" stroke="none" stroke-width="1"/>
<rect x="108.42" y="67.39" width="10.14" height="9.39" fill="#3e26a8" stroke="none" stroke-width="1"/>
<rect x="118.51" y="67.39" width="10.14" height="9.39" fill="#3e26a8" stroke="none" stroke-width="1"/>
<rect x="128.6" y="67.39" width="10.14" height="9.39" fill="#3e26a8" stroke="none" stroke-width="1"/>
<rect x="138.7" y="67.39" width="10.14" height="9.39" fill="#3e26a8" stroke="none" stroke-width="1"/>
<rect x="148.79" y="67.39" width="10.14" height="9.39" fill="#3e26a8" stroke="none" stroke-width="1"/>
<rect x="158.88" y="67.39" width="10.14" height="9.39" fill="#3e26a8" stroke="none" stroke-width="1"/>
<rect x="168.97" y="67.39" width="10.14" height="9.39" fill="#3e26a8" stroke="none" stroke-width="1"/>
<rect x="179.06" y="67.39" width="10.14" height="9.39" fill="#3e26a8" stroke="none" stroke-width="1"/>
<rect x="189.15" y="67.39" width="10.14" height="9.39" fill="#3e26a8" stroke="none" stroke-width="1"/>
<rect x="199.24" y="67.39" width="10.14" height="9.39" fill="#3e26a8" stroke="none" stroke-width="1"/>
<rect x="209.33" y="67.39" width="10.14" height="9.39" fill="#3e26a8" stroke="none" stroke-width="1"/>
<rect x="219.42" y="67.39" width="10.14" height="9.39" fill="#3e26a8" stroke="none" stroke-width="1"/>
<rect x="229.52" y="67.39" width="10.14" height="9.39" fill="#3e26a8" stroke="none" stroke-width="1"/>
<rect x="239.61" y="67.39" width="10.14" height="9.39" fill="#3e26a8" stroke="none" stroke-width="1"/>
<rect x="249.7" y="67.39" width="10.14" height="9.39" fill="#3e26a8" stroke="none" stroke-width="1"/>
<rect x="259.79" y="67.39" width="10.14" height="9.39" fill="#3e26a8" stroke="none" stroke-width="1"/>
<rect x="269.88" y="67.39" width="10.14" height="9.39" fill="#3e26a8" stroke="none" stroke-width="1"/>
<rect x="279.97" y="67.39" width="10.14" height="9.39" fill="#3e26a8" stroke="none" stroke-width="1"/>
<rect x="290.06" y="67.39" width="10.14" height="9.39" fill="#3e26a8" stroke="none" stroke-width="1"/>
<rect x="300.15" y="67.39" width="10.14" height="9.39" fill="#f9fb15" stroke="none" stroke-width="1"/>
<rect x="310.24" y="67.39" width="10.14" height="9.39" fill="#3e26a8" stroke="none" stroke-width="1"/>
<rect x="320.34" y="67.39" width="10.14" height="9.39" fill="#3e26a8" stroke="none" stroke-width="1"/>
<rect x="330.43" y="67.39" width="10.14" height="9.39" fill="#3e26a8" stroke="none" stroke-width="1"/>
<rect x="340.52" y="67.39" width="10.14" height="9.39" fill="#3e26a8" stroke="none" stroke-width="1"/>
<rect x="350.61" y="67.39" width="10.14" height="9.39" fill="#3e26a8" stroke="none" stroke-width="1"/>
<rect x="88.24" y="58.04" width="10.14" height="9.39" fill="#3e26a8" stroke="none" stroke-width="1"/>
<rect x="98.33" y="58.04" width="10.14" height="9.39" fill="#3e26a8" stroke="none" stroke-width="1"/>
<rect x="108.42" y="58.04" width="10.14" height="9.39" fill="#3e26a8" stroke="none" stroke-width="1"/>
<rect x="118.51" y="58.04" width="10.14" height="9.39" fill="#3e26a8" stroke="none" stroke-width="1"/>
<rect x="128.6" y="58.04" width="10.14" height="9.39" fill="#3e26a8" stroke="none" stroke-width="1"/>
<rect x="138.7" y="58.04" width="10.14" height="9.39" fill="#3e26a8" stroke="none" stroke-width="1"/>
<rect x="148.79" y="58.04" width="10.14" height="9.39" fill="#3e26a8" stroke="none" stroke-width="1"/>
<rect x="158.88" y="58.04" width="10.14" height="9.39" fill="#3e26a8" stroke="none" stroke-width="1"/>
<rect x="168.97" y="58.04" width="10.14" height="9.39" fill="#3e26a8" stroke="none" stroke-width="1"/>
<rect x="179.06" y="58.04" width="10.14" height="9.39" fill="#3e26a8" stroke="none" stroke-width="1"/>
<rect x="189.15" y="58.04" width="10.14" height="9.39" fill="#3e26a8" stroke="none" stroke-width="1"/>
<rect x="199.24" y="58.04" width="10.14" height="9.39" fill="#3e26a8" stroke="none" stroke-width="1"/>
<rect x="209.33" y="58.04" width="10.14" height="9.39" fill="#3e26a8" stroke="none" stroke-width="1"/>
<rect x="219.42" y="58.04" width="10.14" height="9.39" fill="#3e26a8" stroke="none" stroke-width="1"/>
<rect x="229.52" y="58.04" width="10.14" height="9.39" fill="#3e26a8" stroke="none" stroke-width="1"/>
<rect x="239.61" y="58.04" width="10.14" height="9.39" fill="#3e26a8" stroke="none" stroke-width="1"/>
<rect x="249.7" y="58.04" width="10.14" height="9.39" fill="#3e26a8" stroke="none" stroke-width="1"/>
<rect x="259.79" y="58.04" width="10.14" height="9.39" fill="#3e26a8" stroke="none" stroke-width="1"/>
<rect x="269.88" y="58.04" width="10.14" height="9.39" fill="#3e26a8" stroke="none" stroke-width="1"/>
<rect x="279.97" y="58.04" width="10.14" height="9.39" fill="#3e26a8" stroke="none" stroke-width="1"/>
<rect x="290.06" y="58.04" width="10.14" height="9.39" fill="#3e26a8" stroke="none" stroke-width="1"/>
<rect x="300.15" y="58.04" width="10.14" height="9.39" fill="#402ab4" stroke="none" stroke-width="1"/>
<rect x="310.24" y="58.04" width="10.14" height="9.39" fill="#3e26a8" stroke="none" stroke-width="1"/>
<rect x="320.34" y="58.04" width="10.14" height="9.39" fill="#3e26a8" stroke="none" stroke-width="1"/>
<rect x="330.43" y="58.04" width="10.14" height="9.39" fill="#3e26a8" stroke="none" stroke-width="1"/>
<rect x="340.52" y="58.04" width="10.14" height="9.39" fill="#3e26a8" stroke="none" stroke-width="1"/>
<rect x="350.61" y="58.04" width="10.14" height="9.39" fill="#3e26a8" stroke="none" stroke-width="1"/>
<rect x="88.24" y="48.7" width="10.14" height="9.39" fill="#3e26a8" stroke="none" stroke-width="1"/>
<rect x="98.33" y="48.7" width="10.14" height="9.39" fill="#3e26a8" stroke="none" stroke-width="1"/>
<rect x="108.42" y="48.7" width="10.14" height="9.39" fill="#3e26a8" stroke="none" stroke-width="1"/>
<rect x="118.51" y="48.7" width="10.14" height="9.39" fill="#3e26a8" stroke="none" stroke-width="1"/>
<rect x="128.6" y="48.7" width="10.14" height="9.39" fill="#3e26a8" stroke="none" stroke-width="1"/>
<rect x="138.7" y="48.7" width="10.14" height="9.39" fill="#3e26a8" stroke="none" stroke-width="1"/>
<rect x="148.79" y="48.7" width="10.14" height="9.39" fill="#3e26a8" stroke="none" stroke-width="1"/>
<rect x="158.88" y="48.7" width="10.14" height="9.39" fill="#3e26a8" stroke="none" stroke-width="1"/>
<rect x="168.97" y="48.7" width="10.14" height="9.39" fill="#3e26a8" stroke="none" stroke-width="1"/>
<rect x="179.06" y="48.7" width="10.14" height="9.39" fill="#3e26a8" stroke="none" stroke-width="1"/>
<rect x="189.15" y="48.7" width="10.14" height="9.39" fill="#3e26a8" stroke="none" stroke-width="1"/>
<rect x="199.24" y="48.7" width="10.14" height="9.39" fill="#3e26a8" stroke="none" stroke-width="1"/>
<rect x="209.33" y="48.7" width="10.14" height="9.39" fill="#3e26a8" stroke="none" stroke-width="1"/>
<rect x="219.42" y="48.7" width="10.14" height="9.39" fill="#3e26a8" stroke="none" stroke-width="1"/>
<rect x="229.52" y="48.7" width="10.14" height="9.39" fill="#3e26a8" stroke="none" stroke-width="1"/>
<rect x="239.61" y="48.7" width="10.14" height="9.39" fill="#3e26a8" stroke="none" stroke-width="1"/>
<rect x="249.7" y="48.7" width="10.14" height="9.39" fill="#3e26a8" stroke="none" stroke-width="1"/>
<rect x="259.79" y="48.7" width="10.14" height="9.39" fill="#3e26a8" stroke="none" stroke-width="1"/>
<rect x="269.88" y="48.7" width="10.14" height="9.39" fill="#3e26a8" stroke="none" stroke-width="1"/>
<rect x="279.97" y="48.7" width="10.14" height="9.39" fill="#3e26a8" stroke="none" stroke-width="1"/>
<rect x="290.06" y="48.7" width="10.14" height="9.39" fill="#3e26a8" stroke="none" stroke-width="1"/>
<rect x="300.15" y="48.7" width="10.14" height="9.39" fill="#37c897" stroke="none" stroke-width="1"/>
<rect x="310.24" y="48.7" width="10.14" height="9.39" fill="#3e26a8" stroke="none" stroke-width="1"/>
<rect x="320.34" y="48.7" width="10.14" height="9.39" fill="#3e26a8" stroke="none" stroke-width="1"/>
<rect x="330.43" y="48.7" width="10.14" height="9.39" fill="#3e26a8" stroke="none" stroke-width="1"/>
<rect x="340.52" y="48.7" width="10.14" height="9.39" fill="#3e26a8" stroke="none" stroke-width="1"/>
<rect x="350.61" y="48.7" width="10.14" height="9.39" fill="#3e26a8" stroke="none" stroke-width="1"/>
<path d="M88.24 48.7V301M88.24 48.7H360.7M98.33 48.7V301M88.24 58.04H360.7M108.42 48.7V301M88.24 67.39H360.7M118.51 48.7V301M88.24 76.73H360.7M128.6 48.7V301M88.24 86.08H360.7M138.7 48.7V301M88.24 95.42H360.7M148.79 48.7V301M88.24 104.77H360.7M158.88 48.7V301M88.24 114.11H360.7M168.97 48.7V301M88.24 123.46H360.7M179.06 48.7V301M88.24 132.8H360.7M189.15 48.7V301M88.24 142.14H360.7M199.24 48.7V301M88.24 151.49H360.7M209.33 48.7V301M88.24 160.83H360.7M219.42 48.7V301M88.24 170.18H360.7M229.52 48.7V301M88.24 179.52H360.7M239.61 48.7V301M88.24 188.87H360.7M249.7 48.7V301M88.24 198.21H360.7M259.79 48.7V301M88.24 207.56H360.7M269.88 48.7V301M88.24 216.9H360.7M279.97 48.7V301M88.24 226.24H360.7M290.06 48.7V301M88.24 235.59H360.7M300.15 48.7V301M88.24 244.93H360.7M310.24 48.7V301M88.24 254.28H360.7M320.34 48.7V301M88.24 263.62H360.7M330.43 48.7V301M88.24 272.97H360.7M340.52 48.7V301M88.24 282.31H360.7M350.61 48.7V301M88.24 291.66H360.7M360.7 48.7V301M88.24 301H360.7" stroke="#000" stroke-width="1" stroke-opacity="0.75" fill="none"/>
<line x1="88.24" y1="179.52" x2="360.7" y2="179.52" stroke="#000" stroke-width="1" stroke-opacity="0.5"/>
<line x1="229.52" y1="48.7" x2="229.52" y2="301" stroke="#000" stroke-width="1" stroke-opacity="0.5"/>
<line x1="128.6" y1="301" x2="128.6" y2="307" stroke="#262626" stroke-width="1.4"/>
<line x1="128.6" y1="42.7" x2="128.6" y2="48.7" stroke="#262626" stroke-width="1.4"/>
<line x1="82.24" y1="263.62" x2="88.24" y2="263.62" stroke="#262626" stroke-width="1.4"/>
<line x1="360.7" y1="263.62" x2="366.7" y2="263.62" stroke="#262626" stroke-width="1.4"/>
<text x="121.1" y="341.32" font-family="'Liberation Serif','Times New Roman',serif" font-size="30" fill="#000">5</text>
<text x="59.8" y="274.81" font-family="'Liberation Serif','Times New Roman',serif" font-size="30" fill="#000">5</text>
<line x1="179.06" y1="301" x2="179.06" y2="307" stroke="#262626" stroke-width="1.4"/>
<line x1="179.06" y1="42.7" x2="179.06" y2="48.7" stroke="#262626" stroke-width="1.4"/>
<line x1="82.24" y1="216.9" x2="88.24" y2="216.9" stroke="#262626" stroke-width="1.4"/>
<line x1="360.7" y1="216.9" x2="366.7" y2="216.9" stroke="#262626" stroke-width="1.4"/>
<text x="164.06" y="341.7" font-family="'Liberation Serif','Times New Roman',serif" font-size="30" fill="#000">10</text>
<text x="44.8" y="228.27" font-family="'Liberation Serif','Times New Roman',serif" font-size="30" fill="#000">10</text>
<line x1="229.52" y1="301" x2="229.52" y2="307" stroke="#262626" stroke-width="1.4"/>
<line x1="229.52" y1="42.7" x2="229.52" y2="48.7" stroke="#262626" stroke-width="1.4"/>
<line x1="82.24" y1="170.18" x2="88.24" y2="170.18" stroke="#262626" stroke-width="1.4"/>
<line x1="360.7" y1="170.18" x2="366.7" y2="170.18" stroke="#262626" stroke-width="1.4"/>
<text x="214.52" y="341.45" font-family="'Liberation Serif','Times New Roman',serif" font-size="30" fill="#000">15</text>
<text x="44.8" y="181.43" font-family="'Liberation Serif','Times New Roman',serif" font-size="30" fill="#000">15</text>
<line x1="279.97" y1="301" x2="279.97" y2="307" stroke="#262626" stroke-width="1.4"/>
<line x1="279.97" y1="42.7" x2="279.97" y2="48.7" stroke="#262626" stroke-width="1.4"/>
<line x1="82.24" y1="123.46" x2="88.24" y2="123.46" stroke="#262626" stroke-width="1.4"/>
<line x1="360.7" y1="123.46" x2="366.7" y2="123.46" stroke="#262626" stroke-width="1.4"/>
<text x="264.97" y="341.7" font-family="'Liberation Serif','Times New Roman',serif" font-size="30" fill="#000">20</text>
<text x="44.8" y="134.83" font-family="'Liberation Serif','Times New Roman',serif" font-size="30" fill="#000">20</text>
<line x1="330.43" y1="301" x2="330.43" y2="307" stroke="#262626" stroke-width="1.4"/>
<line x1="330.43" y1="42.7" x2="330.43" y2="48.7" stroke="#262626" stroke-width="1.4"/>
<line x1="82.24" y1="76.73" x2="88.24" y2="76.73" stroke="#262626" stroke-width="1.4"/>
<line x1="360.7" y1="76.73" x2="366.7" y2="76.73" stroke="#262626" stroke-width="1.4"/>
<text x="315.43" y="341.57" font-family="'Liberation Serif','Times New Roman',serif" font-size="30" fill="#000">25</text>
<text x="44.8" y="88.05" font-family="'Liberation Serif','Times New Roman',serif" font-size="30" fill="#000">25</text>
<defs><linearGradient id="cba" x1="0" y1="1" x2="0" y2="0"><stop offset="0" stop-color="#3e26a8"/><stop offset="0.02" stop-color="#402ab4"/><stop offset="0.03" stop-color="#422ec0"/><stop offset="0.05" stop-color="#4332cb"/><stop offset="0.06" stop-color="#4537d5"/><stop offset="0.08" stop-color="#463cde"/><stop offset="0.1" stop-color="#4741e5"/><stop offset="0.11" stop-color="#4747eb"/><stop offset="0.13" stop-color="#484df0"/><stop offset="0.14" stop-color="#4852f4"/><stop offset="0.16" stop-color="#4758f8"/><stop offset="0.17" stop-color="#465efb"/><stop offset="0.19" stop-color="#4563fd"/><stop offset="0.21" stop-color="#4269fe"/><stop offset="0.22" stop-color="#3e6fff"/><stop offset="0.24" stop-color="#3875fe"/><stop offset="0.25" stop-color="#327cfc"/><stop offset="0.27" stop-color="#2f81fa"/><stop offset="0.29" stop-color="#2e87f7"/><stop offset="0.3" stop-color="#2d8cf3"/><stop offset="0.32" stop-color="#2b91ef"/><stop offset="0.33" stop-color="#2797eb"/><stop offset="0.35" stop-color="#259be8"/><stop offset="0.37" stop-color="#23a0e5"/><stop offset="0.38" stop-color="#20a5e3"/><stop offset="0.4" stop-color="#1ca9df"/><stop offset="0.41" stop-color="#18addb"/><stop offset="0.43" stop-color="#12b1d6"/><stop offset="0.44" stop-color="#08b5d0"/><stop offset="0.46" stop-color="#01b8ca"/><stop offset="0.48" stop-color="#02bac3"/><stop offset="0.49" stop-color="#0bbdbd"/><stop offset="0.51" stop-color="#19bfb6"/><stop offset="0.52" stop-color="#24c1ae"/><stop offset="0.54" stop-color="#2cc4a7"/><stop offset="0.56" stop-color="#31c69f"/><stop offset="0.57" stop-color="#37c897"/><stop offset="0.59" stop-color="#3fca8e"/><stop offset="0.6" stop-color="#4acb84"/><stop offset="0.62" stop-color="#57cc7a"/><stop offset="0.63" stop-color="#64cd6f"/><stop offset="0.65" stop-color="#72cd64"/><stop offset="0.67" stop-color="#81cc59"/><stop offset="0.68" stop-color="#8fcb4e"/><stop offset="0.7" stop-color="#9dc943"/><stop offset="0.71" stop-color="#abc739"/><stop offset="0.73" stop-color="#b9c431"/><stop offset="0.75" stop-color="#c5c22a"/><stop offset="0.76" stop-color="#d1bf27"/><stop offset="0.78" stop-color="#dcbd29"/><stop offset="0.79" stop-color="#e6bb2d"/><stop offset="0.81" stop-color="#f0ba36"/><stop offset="0.83" stop-color="#f8ba3d"/><stop offset="0.84" stop-color="#febe3c"/><stop offset="0.86" stop-color="#fec338"/><stop offset="0.87" stop-color="#fec934"/><stop offset="0.89" stop-color="#fccf30"/><stop offset="0.9" stop-color="#fad62d"/><stop offset="0.92" stop-color="#f7dc2a"/><stop offset="0.94" stop-color="#f5e327"/><stop offset="0.95" stop-color="#f5e924"/><stop offset="0.97" stop-color="#f6ef20"/><stop offset="0.98" stop-color="#f7f51b"/><stop offset="1" stop-color="#f9fb15"/></linearGradient></defs>
<rect x="370.3" y="47.4" width="13" height="252.6" fill="url(#cba)" stroke="none" stroke-width="1"/>
<rect x="370.3" y="47.4" width="13" height="252.6" fill="none" stroke="#262626" stroke-width="1"/>
<line x1="380.3" y1="70.5" x2="383.3" y2="70.5" stroke="#262626" stroke-width="1"/>
<text x="389.8" y="78.92" font-family="'Liberation Serif','Times New Roman',serif" font-size="23.5" fill="#000">0.12</text>
<line x1="380.3" y1="109.1" x2="383.3" y2="109.1" stroke="#262626" stroke-width="1"/>
<text x="389.8" y="117.52" font-family="'Liberation Serif','Times New Roman',serif" font-size="23.5" fill="#000">0.1</text>
<line x1="380.3" y1="147.7" x2="383.3" y2="147.7" stroke="#262626" stroke-width="1"/>
<text x="389.8" y="156.12" font-family="'Liberation Serif','Times New Roman',serif" font-size="23.5" fill="#000">0.08</text>
<line x1="380.3" y1="186.3" x2="383.3" y2="186.3" stroke="#262626" stroke-width="1"/>
<text x="389.8" y="194.73" font-family="'Liberation Serif','Times New Roman',serif" font-size="23.5" fill="#000">0.06</text>
<line x1="380.3" y1="224.9" x2="383.3" y2="224.9" stroke="#262626" stroke-width="1"/>
<text x="389.8" y="233.33" font-family="'Liberation Serif','Times New Roman',serif" font-size="23.5" fill="#000">0.04</text>
<line x1="380.3" y1="263.5" x2="383.3" y2="263.5" stroke="#262626" stroke-width="1"/>
<text x="389.8" y="271.93" font-family="'Liberation Serif','Times New Roman',serif" font-size="23.5" fill="#000">0.02</text>
<text transform="translate(352.02 28.43) scale(1.0646 1)" font-family="'Liberation Serif','Times New Roman',serif" font-size="30.39" font-style="italic" fill="#000">C</text>
<text transform="translate(375.31 14.13) scale(0.9403 1)" font-family="'Liberation Serif','Times New Roman',serif" font-size="21.52" fill="#000">(2)</text>
<text transform="translate(373.81 35.72) scale(1.0800 1)" font-family="'Liberation Serif','Times New Roman',serif" font-size="19.66" font-style="italic" fill="#000">ij</text>
<text transform="translate(141.95 31) scale(0.9424 1)" font-family="'Liberation Serif','Times New Roman',serif" font-size="30.13" font-style="italic" fill="#000">ϵ</text>
<text transform="translate(163.7 35.78) scale(1.2111 1)" font-family="'Liberation Serif','Times New Roman',serif" font-size="38" fill="#000">=</text>
<text transform="translate(187.85 31.32) scale(1.0457 1)" font-family="'Liberation Serif','Times New Roman',serif" font-size="32" fill="#000">-</text>
<text transform="translate(199.6 31.06) scale(1.0428 1)" font-family="'Liberation Serif','Times New Roman',serif" font-size="31.82" fill="#000">10.3288</text>
<text transform="translate(218.68 375.9) scale(1.0800 1)" font-family="'Liberation Serif','Times New Roman',serif" font-size="33.06" font-style="italic" fill="#000">i</text>
<text transform="translate(30.9 178.09) rotate(-90) scale(1.0800 1)" font-family="'Liberation Serif','Times New Roman',serif" font-size="31.54" font-style="italic" fill="#000">j</text>
<defs><clipPath id="clipb"><rect x="529.1" y="48.1" width="313.1" height="254.79999999999998"/></clipPath></defs>
<line x1="575" y1="48.1" x2="575" y2="302.9" stroke="#dcdcdc" stroke-width="1.9" stroke-dasharray="9.8 2.4 4.8 2.4"/>
<line x1="632.58" y1="48.1" x2="632.58" y2="302.9" stroke="#dcdcdc" stroke-width="1.9" stroke-dasharray="9.8 2.4 4.8 2.4"/>
<line x1="690.15" y1="48.1" x2="690.15" y2="302.9" stroke="#dcdcdc" stroke-width="1.9" stroke-dasharray="9.8 2.4 4.8 2.4"/>
<line x1="747.73" y1="48.1" x2="747.73" y2="302.9" stroke="#dcdcdc" stroke-width="1.9" stroke-dasharray="9.8 2.4 4.8 2.4"/>
<line x1="805.3" y1="48.1" x2="805.3" y2="302.9" stroke="#dcdcdc" stroke-width="1.9" stroke-dasharray="9.8 2.4 4.8 2.4"/>
<line x1="529.1" y1="175.5" x2="842.2" y2="175.5" stroke="#dcdcdc" stroke-width="1.9" stroke-dasharray="9.8 2.4 4.8 2.4"/>
<g clip-path="url(#clipb)" fill="#800080" stroke="#1a001a" stroke-width="0.6"><rect x="523.29" y="297.29" width="11.3" height="5.61"/><rect x="546.32" y="273.6" width="11.3" height="29.3"/><rect x="569.35" y="278.44" width="11.3" height="24.46"/><rect x="592.38" y="301.37" width="11.3" height="1.53"/><rect x="615.41" y="292.2" width="11.3" height="10.7"/><rect x="638.44" y="270.8" width="11.3" height="32.1"/><rect x="661.47" y="284.3" width="11.3" height="18.6"/><rect x="684.5" y="302.65" width="11.3" height="0.25"/><rect x="707.53" y="285.57" width="11.3" height="17.33"/><rect x="730.56" y="270.54" width="11.3" height="32.36"/><rect x="753.59" y="288.38" width="11.3" height="14.52"/><rect x="765.11" y="53.2" width="11.3" height="249.7"/><rect x="776.62" y="289.14" width="11.3" height="13.76"/><rect x="799.65" y="268.76" width="11.3" height="34.14"/><rect x="822.68" y="283.54" width="11.3" height="19.36"/></g>
<rect x="529.1" y="48.1" width="313.1" height="254.8" fill="none" stroke="#262626" stroke-width="1.9"/>
<line x1="575" y1="302.9" x2="575" y2="298.9" stroke="#262626" stroke-width="1.5"/>
<line x1="575" y1="48.1" x2="575" y2="52.1" stroke="#262626" stroke-width="1.5"/>
<text x="567.5" y="337.23" font-family="'Liberation Serif','Times New Roman',serif" font-size="30" fill="#000">5</text>
<line x1="632.58" y1="302.9" x2="632.58" y2="298.9" stroke="#262626" stroke-width="1.5"/>
<line x1="632.58" y1="48.1" x2="632.58" y2="52.1" stroke="#262626" stroke-width="1.5"/>
<text x="617.58" y="337.6" font-family="'Liberation Serif','Times New Roman',serif" font-size="30" fill="#000">10</text>
<line x1="690.15" y1="302.9" x2="690.15" y2="298.9" stroke="#262626" stroke-width="1.5"/>
<line x1="690.15" y1="48.1" x2="690.15" y2="52.1" stroke="#262626" stroke-width="1.5"/>
<text x="675.15" y="337.35" font-family="'Liberation Serif','Times New Roman',serif" font-size="30" fill="#000">15</text>
<line x1="747.73" y1="302.9" x2="747.73" y2="298.9" stroke="#262626" stroke-width="1.5"/>
<line x1="747.73" y1="48.1" x2="747.73" y2="52.1" stroke="#262626" stroke-width="1.5"/>
<text x="732.73" y="337.6" font-family="'Liberation Serif','Times New Roman',serif" font-size="30" fill="#000">20</text>
<line x1="805.3" y1="302.9" x2="805.3" y2="298.9" stroke="#262626" stroke-width="1.5"/>
<line x1="805.3" y1="48.1" x2="805.3" y2="52.1" stroke="#262626" stroke-width="1.5"/>
<text x="790.3" y="337.48" font-family="'Liberation Serif','Times New Roman',serif" font-size="30" fill="#000">25</text>
<line x1="529.1" y1="302.9" x2="533.1" y2="302.9" stroke="#262626" stroke-width="1.5"/>
<line x1="842.2" y1="302.9" x2="838.2" y2="302.9" stroke="#262626" stroke-width="1.5"/>
<text x="505.4" y="314.38" font-family="'Liberation Serif','Times New Roman',serif" font-size="30" fill="#000">0</text>
<line x1="529.1" y1="175.5" x2="533.1" y2="175.5" stroke="#262626" stroke-width="1.5"/>
<line x1="842.2" y1="175.5" x2="838.2" y2="175.5" stroke="#262626" stroke-width="1.5"/>
<text x="482.9" y="186.91" font-family="'Liberation Serif','Times New Roman',serif" font-size="30" fill="#000">0.5</text>
<line x1="529.1" y1="48.1" x2="533.1" y2="48.1" stroke="#262626" stroke-width="1.5"/>
<line x1="842.2" y1="48.1" x2="838.2" y2="48.1" stroke="#262626" stroke-width="1.5"/>
<text x="505.4" y="59.57" font-family="'Liberation Serif','Times New Roman',serif" font-size="30" fill="#000">1</text>
<text transform="translate(681.72 371.2) scale(1.0800 1)" font-family="'Liberation Serif','Times New Roman',serif" font-size="32" font-style="italic" fill="#000">j</text>
<text transform="translate(469.5 203.67) rotate(-90) scale(1.0568 1)" font-family="'Liberation Serif','Times New Roman',serif" font-size="33.97" font-style="italic" fill="#000">C</text>
<text transform="translate(454.1 176.8) rotate(-90) scale(1.0776 1)" font-family="'Liberation Serif','Times New Roman',serif" font-size="21.19" fill="#000">(1)</text>
<text transform="translate(478.02 177.7) rotate(-90) scale(1.0328 1)" font-family="'Liberation Serif','Times New Roman',serif" font-size="22.51" font-style="italic" fill="#000">j</text>
<defs><clipPath id="clipc"><rect x="935.0" y="48.3" width="301.5" height="251.45"/></clipPath></defs>
<line x1="981.34" y1="50.3" x2="981.34" y2="299.75" stroke="#dcdcdc" stroke-width="1.9" stroke-dasharray="7.2 1.6 3.6 1.6"/>
<line x1="1036.14" y1="50.3" x2="1036.14" y2="299.75" stroke="#dcdcdc" stroke-width="1.9" stroke-dasharray="7.2 1.6 3.6 1.6"/>
<line x1="1090.94" y1="50.3" x2="1090.94" y2="299.75" stroke="#dcdcdc" stroke-width="1.9" stroke-dasharray="7.2 1.6 3.6 1.6"/>
<line x1="1145.74" y1="50.3" x2="1145.74" y2="299.75" stroke="#dcdcdc" stroke-width="1.9" stroke-dasharray="7.2 1.6 3.6 1.6"/>
<line x1="1200.54" y1="50.3" x2="1200.54" y2="299.75" stroke="#dcdcdc" stroke-width="1.9" stroke-dasharray="7.2 1.6 3.6 1.6"/>
<line x1="935" y1="216.6" x2="1236.5" y2="216.6" stroke="#dcdcdc" stroke-width="1.9" stroke-dasharray="7.2 1.6 3.6 1.6"/>
<line x1="935" y1="133.45" x2="1236.5" y2="133.45" stroke="#dcdcdc" stroke-width="1.9" stroke-dasharray="7.2 1.6 3.6 1.6"/>
<g clip-path="url(#clipc)"><polyline points="937.5,240.05 948.46,219.76 959.42,159.39 970.38,205.79 981.34,164.55 992.3,220.76 1003.26,229.9 1014.22,216.6 1025.18,181.84 1036.14,214.6 1047.1,275.97 1058.06,226.74 1069.02,262 1079.98,211.44 1090.94,214.6 1101.9,220.76 1112.86,260.17 1123.82,208.45 1134.78,156.73 1145.74,207.45 1156.7,179.85 1167.66,216.1 1178.62,252.35 1189.58,225.75 1200.54,277.96 1211.5,224.25 1222.46,170.53 1233.42,211.44" fill="none" stroke="#44779a" stroke-width="2.4" stroke-linejoin="round"/><polyline points="937.5,216.6 948.46,216.6 959.42,216.6 970.38,216.6 981.34,216.6 992.3,216.6 1003.26,216.6 1014.22,216.6 1025.18,216.6 1036.14,216.6 1047.1,216.6 1058.06,216.6 1069.02,216.6 1079.98,215.27 1090.94,216.6 1101.9,216.6 1112.86,216.93 1123.82,219.59 1134.78,216.93 1145.74,215.77 1156.7,201.47 1167.66,50.3 1178.62,200.97 1189.58,215.77 1200.54,217.27 1211.5,219.43 1222.46,216.6 1233.42,216.6" fill="none" stroke="#0000ff" stroke-width="2.6" stroke-linejoin="round"/><polyline points="937.5,216.6 948.46,216.6 959.42,216.6 970.38,216.6 981.34,216.6 992.3,216.6 1003.26,216.6 1014.22,216.6 1025.18,216.6 1036.14,216.6 1047.1,216.6 1058.06,216.6 1069.02,216.6 1079.98,215.27 1090.94,216.6 1101.9,216.6 1112.86,216.93 1123.82,216.6 1134.78,216.93 1145.74,215.77 1156.7,201.47 1167.66,50.3 1178.62,200.97 1189.58,215.77 1200.54,217.27 1211.5,216.6 1222.46,216.6 1233.42,216.6" fill="none" stroke="#ff0000" stroke-width="2.4" stroke-linejoin="round" stroke-dasharray="7 7"/></g>
<rect x="935" y="50.3" width="301.5" height="249.45" fill="none" stroke="#262626" stroke-width="1.9"/>
<line x1="981.34" y1="299.75" x2="981.34" y2="296.15" stroke="#262626" stroke-width="1.5"/>
<line x1="981.34" y1="50.3" x2="981.34" y2="53.9" stroke="#262626" stroke-width="1.5"/>
<text x="973.72" y="334.88" font-family="'Liberation Sans',Arial,sans-serif" font-size="27.5" fill="#000">5</text>
<line x1="1036.14" y1="299.75" x2="1036.14" y2="296.15" stroke="#262626" stroke-width="1.5"/>
<line x1="1036.14" y1="50.3" x2="1036.14" y2="53.9" stroke="#262626" stroke-width="1.5"/>
<text x="1020.89" y="335.25" font-family="'Liberation Sans',Arial,sans-serif" font-size="27.5" fill="#000">10</text>
<line x1="1090.94" y1="299.75" x2="1090.94" y2="296.15" stroke="#262626" stroke-width="1.5"/>
<line x1="1090.94" y1="50.3" x2="1090.94" y2="53.9" stroke="#262626" stroke-width="1.5"/>
<text x="1075.69" y="334.88" font-family="'Liberation Sans',Arial,sans-serif" font-size="27.5" fill="#000">15</text>
<line x1="1145.74" y1="299.75" x2="1145.74" y2="296.15" stroke="#262626" stroke-width="1.5"/>
<line x1="1145.74" y1="50.3" x2="1145.74" y2="53.9" stroke="#262626" stroke-width="1.5"/>
<text x="1130.49" y="335.25" font-family="'Liberation Sans',Arial,sans-serif" font-size="27.5" fill="#000">20</text>
<line x1="1200.54" y1="299.75" x2="1200.54" y2="296.15" stroke="#262626" stroke-width="1.5"/>
<line x1="1200.54" y1="50.3" x2="1200.54" y2="53.9" stroke="#262626" stroke-width="1.5"/>
<text x="1185.29" y="335.25" font-family="'Liberation Sans',Arial,sans-serif" font-size="27.5" fill="#000">25</text>
<line x1="935" y1="299.75" x2="938.6" y2="299.75" stroke="#262626" stroke-width="1.5"/>
<line x1="1236.5" y1="299.75" x2="1232.9" y2="299.75" stroke="#262626" stroke-width="1.5"/>
<text x="880.45" y="310.95" font-family="'Liberation Sans',Arial,sans-serif" font-size="27.5" fill="#000">-0.5</text>
<line x1="935" y1="216.6" x2="938.6" y2="216.6" stroke="#262626" stroke-width="1.5"/>
<line x1="1236.5" y1="216.6" x2="1232.9" y2="216.6" stroke="#262626" stroke-width="1.5"/>
<text x="912.45" y="227.8" font-family="'Liberation Sans',Arial,sans-serif" font-size="27.5" fill="#000">0</text>
<line x1="935" y1="133.45" x2="938.6" y2="133.45" stroke="#262626" stroke-width="1.5"/>
<line x1="1236.5" y1="133.45" x2="1232.9" y2="133.45" stroke="#262626" stroke-width="1.5"/>
<text x="889.58" y="144.65" font-family="'Liberation Sans',Arial,sans-serif" font-size="27.5" fill="#000">0.5</text>
<line x1="935" y1="50.3" x2="938.6" y2="50.3" stroke="#262626" stroke-width="1.5"/>
<line x1="1236.5" y1="50.3" x2="1232.9" y2="50.3" stroke="#262626" stroke-width="1.5"/>
<text x="912.45" y="61.44" font-family="'Liberation Sans',Arial,sans-serif" font-size="27.5" fill="#000">1</text>
<text transform="translate(877.02 255.47) rotate(-90) scale(0.9907 1)" font-family="'Liberation Sans',Arial,sans-serif" font-size="28.16" fill="#000">wavefunction</text>
<text transform="translate(1082.33 368.91) scale(1.0800 1)" font-family="'Liberation Serif','Times New Roman',serif" font-size="30.06" font-style="italic" fill="#000">j</text>
<rect x="955.8" y="54.6" width="76" height="92.9" fill="#fff" stroke="#262626" stroke-width="1.7"/>
<line x1="958.3" y1="70.3" x2="981.7" y2="70.3" stroke="#0000ff" stroke-width="2.6"/>
<line x1="958.3" y1="101" x2="981.7" y2="101" stroke="#44779a" stroke-width="2.6"/>
<line x1="958.1" y1="131.2" x2="981.7" y2="131.2" stroke="#ff0000" stroke-width="2.5" stroke-dasharray="7.1 6.9"/>
<text transform="translate(986.13 76.5) scale(1.0778 1)" font-family="'Liberation Serif','Times New Roman',serif" font-size="23.54" font-style="italic" fill="#000">χ</text>
<text transform="translate(983.2 107.29) scale(1.1598 1)" font-family="'Liberation Serif','Times New Roman',serif" font-size="23.11" font-style="italic" fill="#000">φ</text>
<text transform="translate(986.1 137.24) scale(1.0829 1)" font-family="'Liberation Serif','Times New Roman',serif" font-size="24.28" font-style="italic" fill="#000">χ</text>
<text transform="translate(999.13 141.42) scale(1.0187 1)" font-family="'Liberation Serif','Times New Roman',serif" font-size="17.87" font-style="italic" fill="#000">e</text>
<text transform="translate(1008.05 140.81) scale(1.3000 1)" font-family="'Liberation Serif','Times New Roman',serif" font-size="17.35" font-style="italic" fill="#000">f</text>
<text transform="translate(1018.55 140.81) scale(1.3000 1)" font-family="'Liberation Serif','Times New Roman',serif" font-size="17.35" font-style="italic" fill="#000">f</text>
<defs><clipPath id="clipd"><rect x="1346.9" y="48.7" width="298.29999999999995" height="256.2"/></clipPath></defs>
<line x1="1392.4" y1="50.7" x2="1392.4" y2="304.9" stroke="#dcdcdc" stroke-width="1.9" stroke-dasharray="7.9 1.5 3.8 1.5"/>
<line x1="1446.9" y1="50.7" x2="1446.9" y2="304.9" stroke="#dcdcdc" stroke-width="1.9" stroke-dasharray="7.9 1.5 3.8 1.5"/>
<line x1="1501.4" y1="50.7" x2="1501.4" y2="304.9" stroke="#dcdcdc" stroke-width="1.9" stroke-dasharray="7.9 1.5 3.8 1.5"/>
<line x1="1555.9" y1="50.7" x2="1555.9" y2="304.9" stroke="#dcdcdc" stroke-width="1.9" stroke-dasharray="7.9 1.5 3.8 1.5"/>
<line x1="1610.4" y1="50.7" x2="1610.4" y2="304.9" stroke="#dcdcdc" stroke-width="1.9" stroke-dasharray="7.9 1.5 3.8 1.5"/>
<line x1="1346.9" y1="300.5" x2="1645.2" y2="300.5" stroke="#dcdcdc" stroke-width="1.9" stroke-dasharray="7.9 1.5 3.8 1.5"/>
<line x1="1346.9" y1="175.6" x2="1645.2" y2="175.6" stroke="#dcdcdc" stroke-width="1.9" stroke-dasharray="7.9 1.5 3.8 1.5"/>
<g clip-path="url(#clipd)"><polyline points="1348.8,300.5 1359.7,300.5 1370.6,300.5 1381.5,300.5 1392.4,300.5 1403.3,300.5 1414.2,300.5 1425.1,300.5 1436,300.5 1446.9,300.5 1457.8,300.5 1468.7,300.5 1479.6,300.5 1490.5,298.5 1501.4,300.5 1512.3,300.5 1523.2,301 1534.1,305 1545,301 1555.9,299.25 1566.8,277.77 1577.7,50.7 1588.6,277.02 1599.5,299.25 1610.4,301.5 1621.3,304.75 1632.2,300.5 1643.1,300.5" fill="none" stroke="#0000ff" stroke-width="2.6" stroke-linejoin="round"/><polyline points="1348.8,300.5 1359.7,300.5 1370.6,300.5 1381.5,300.5 1392.4,300.5 1403.3,300.5 1414.2,300.5 1425.1,300.5 1436,300.5 1446.9,300.5 1457.8,300.5 1468.7,300.5 1479.6,300.5 1490.5,300.5 1501.4,300.5 1512.3,300.5 1523.2,300.5 1534.1,300.48 1545,300.31 1555.9,298.39 1566.8,277.52 1577.7,50.7 1588.6,277.52 1599.5,298.39 1610.4,300.31 1621.3,300.48 1632.2,300.5 1643.1,300.5" fill="none" stroke="#17d9a0" stroke-width="2.8" stroke-linejoin="round" stroke-dasharray="9.9 10"/></g>
<rect x="1346.9" y="50.7" width="298.3" height="254.2" fill="none" stroke="#262626" stroke-width="1.9"/>
<line x1="1392.4" y1="304.9" x2="1392.4" y2="300.9" stroke="#262626" stroke-width="1.5"/>
<line x1="1392.4" y1="50.7" x2="1392.4" y2="54.7" stroke="#262626" stroke-width="1.5"/>
<text x="1384.9" y="340.12" font-family="'Liberation Serif','Times New Roman',serif" font-size="30" fill="#000">5</text>
<line x1="1446.9" y1="304.9" x2="1446.9" y2="300.9" stroke="#262626" stroke-width="1.5"/>
<line x1="1446.9" y1="50.7" x2="1446.9" y2="54.7" stroke="#262626" stroke-width="1.5"/>
<text x="1431.9" y="340.5" font-family="'Liberation Serif','Times New Roman',serif" font-size="30" fill="#000">10</text>
<line x1="1501.4" y1="304.9" x2="1501.4" y2="300.9" stroke="#262626" stroke-width="1.5"/>
<line x1="1501.4" y1="50.7" x2="1501.4" y2="54.7" stroke="#262626" stroke-width="1.5"/>
<text x="1486.4" y="340.25" font-family="'Liberation Serif','Times New Roman',serif" font-size="30" fill="#000">15</text>
<line x1="1555.9" y1="304.9" x2="1555.9" y2="300.9" stroke="#262626" stroke-width="1.5"/>
<line x1="1555.9" y1="50.7" x2="1555.9" y2="54.7" stroke="#262626" stroke-width="1.5"/>
<text x="1540.9" y="340.5" font-family="'Liberation Serif','Times New Roman',serif" font-size="30" fill="#000">20</text>
<line x1="1610.4" y1="304.9" x2="1610.4" y2="300.9" stroke="#262626" stroke-width="1.5"/>
<line x1="1610.4" y1="50.7" x2="1610.4" y2="54.7" stroke="#262626" stroke-width="1.5"/>
<text x="1595.4" y="340.38" font-family="'Liberation Serif','Times New Roman',serif" font-size="30" fill="#000">25</text>
<line x1="1346.9" y1="300.5" x2="1350.9" y2="300.5" stroke="#262626" stroke-width="1.5"/>
<line x1="1645.2" y1="300.5" x2="1641.2" y2="300.5" stroke="#262626" stroke-width="1.5"/>
<text x="1324" y="311.88" font-family="'Liberation Serif','Times New Roman',serif" font-size="30" fill="#000">0</text>
<line x1="1346.9" y1="175.6" x2="1350.9" y2="175.6" stroke="#262626" stroke-width="1.5"/>
<line x1="1645.2" y1="175.6" x2="1641.2" y2="175.6" stroke="#262626" stroke-width="1.5"/>
<text x="1301.5" y="186.91" font-family="'Liberation Serif','Times New Roman',serif" font-size="30" fill="#000">0.5</text>
<line x1="1346.9" y1="50.7" x2="1350.9" y2="50.7" stroke="#262626" stroke-width="1.5"/>
<line x1="1645.2" y1="50.7" x2="1641.2" y2="50.7" stroke="#262626" stroke-width="1.5"/>
<text x="1324" y="62.07" font-family="'Liberation Serif','Times New Roman',serif" font-size="30" fill="#000">1</text>
<text transform="translate(1292.98 266.24) rotate(-90) scale(1.0138 1)" font-family="'Liberation Serif','Times New Roman',serif" font-size="32.36" fill="#000">wavefunction</text>
<text transform="translate(1492.47 372.33) scale(1.0800 1)" font-family="'Liberation Serif','Times New Roman',serif" font-size="29.49" font-style="italic" fill="#000">j</text>
<rect x="1356.6" y="56.8" width="141.9" height="69" fill="#fff" stroke="#262626" stroke-width="1.8"/>
<line x1="1359.3" y1="73.7" x2="1383.1" y2="73.7" stroke="#0000ff" stroke-width="2.6"/>
<line x1="1359.1" y1="107" x2="1383.2" y2="107" stroke="#17d9a0" stroke-width="2.8" stroke-dasharray="9.7 9.4"/>
<text transform="translate(1388.22 79.85) scale(1.1033 1)" font-family="'Liberation Serif','Times New Roman',serif" font-size="25.18" font-style="italic" fill="#000">χ</text>
<text transform="translate(1387.57 114.7) scale(0.9549 1)" font-family="'Liberation Serif','Times New Roman',serif" font-size="29.85" font-style="italic" fill="#000">Ae</text>
<text transform="translate(1416.92 104.23) scale(1.1892 1)" font-family="'Liberation Serif','Times New Roman',serif" font-size="18.37" font-style="italic" fill="#000">−λ|j−22|</text>
<line x1="139" y1="438.7" x2="139" y2="696" stroke="#dcdcdc" stroke-width="1.5" stroke-dasharray="4.5 1.5 2.5 1.5"/>
<line x1="187.4" y1="438.7" x2="187.4" y2="696" stroke="#dcdcdc" stroke-width="1.5" stroke-dasharray="4.5 1.5 2.5 1.5"/>
<line x1="235.8" y1="438.7" x2="235.8" y2="696" stroke="#dcdcdc" stroke-width="1.5" stroke-dasharray="4.5 1.5 2.5 1.5"/>
<line x1="284.2" y1="438.7" x2="284.2" y2="696" stroke="#dcdcdc" stroke-width="1.5" stroke-dasharray="4.5 1.5 2.5 1.5"/>
<line x1="332.6" y1="438.7" x2="332.6" y2="696" stroke="#dcdcdc" stroke-width="1.5" stroke-dasharray="4.5 1.5 2.5 1.5"/>
<line x1="90.6" y1="631.5" x2="381" y2="631.5" stroke="#dcdcdc" stroke-width="1.5" stroke-dasharray="4.5 1.5 2.5 1.5"/>
<line x1="90.6" y1="567.2" x2="381" y2="567.2" stroke="#dcdcdc" stroke-width="1.5" stroke-dasharray="4.5 1.5 2.5 1.5"/>
<line x1="90.6" y1="502.9" x2="381" y2="502.9" stroke="#dcdcdc" stroke-width="1.5" stroke-dasharray="4.5 1.5 2.5 1.5"/>
<polyline points="100.28,567.2 109.96,695.8 119.64,567.2 129.32,438.6 139,567.2 148.68,695.8 158.36,567.2 168.04,438.6 177.72,567.2 187.4,695.8 197.08,567.2 206.76,438.6 216.44,567.2 226.12,695.8 235.8,567.2 245.48,438.6 255.16,567.2 264.84,695.8 274.52,567.2 284.2,438.6 293.88,567.2 303.56,695.8 313.24,567.2 322.92,438.6 332.6,567.2 342.28,695.8 351.96,567.2 361.64,438.6" fill="none" stroke="#0072bd" stroke-width="2.4" stroke-linejoin="round"/>
<rect x="90.6" y="438.7" width="290.4" height="257.3" fill="none" stroke="#262626" stroke-width="1.7"/>
<g fill="#000"><circle cx="100.28" cy="567.2" r="3.4"/><circle cx="109.96" cy="695.8" r="3.4"/><circle cx="119.64" cy="567.2" r="3.4"/><circle cx="129.32" cy="438.6" r="3.4"/><circle cx="139" cy="567.2" r="3.4"/><circle cx="148.68" cy="695.8" r="3.4"/><circle cx="158.36" cy="567.2" r="3.4"/><circle cx="168.04" cy="438.6" r="3.4"/><circle cx="177.72" cy="567.2" r="3.4"/><circle cx="187.4" cy="695.8" r="3.4"/><circle cx="197.08" cy="567.2" r="3.4"/><circle cx="206.76" cy="438.6" r="3.4"/><circle cx="216.44" cy="567.2" r="3.4"/><circle cx="226.12" cy="695.8" r="3.4"/><circle cx="235.8" cy="567.2" r="3.4"/><circle cx="245.48" cy="438.6" r="3.4"/><circle cx="255.16" cy="567.2" r="3.4"/><circle cx="264.84" cy="695.8" r="3.4"/><circle cx="274.52" cy="567.2" r="3.4"/><circle cx="284.2" cy="438.6" r="3.4"/><circle cx="293.88" cy="567.2" r="3.4"/><circle cx="303.56" cy="695.8" r="3.4"/><circle cx="313.24" cy="567.2" r="3.4"/><circle cx="322.92" cy="438.6" r="3.4"/><circle cx="332.6" cy="567.2" r="3.4"/><circle cx="342.28" cy="695.8" r="3.4"/><circle cx="351.96" cy="567.2" r="3.4"/><circle cx="361.64" cy="438.6" r="3.4"/></g>
<line x1="139" y1="696" x2="139" y2="690" stroke="#262626" stroke-width="1.5"/>
<line x1="139" y1="438.7" x2="139" y2="444.7" stroke="#262626" stroke-width="1.5"/>
<text x="131.5" y="732.23" font-family="'Liberation Serif','Times New Roman',serif" font-size="30" fill="#000">5</text>
<line x1="187.4" y1="696" x2="187.4" y2="690" stroke="#262626" stroke-width="1.5"/>
<line x1="187.4" y1="438.7" x2="187.4" y2="444.7" stroke="#262626" stroke-width="1.5"/>
<text x="172.4" y="732.6" font-family="'Liberation Serif','Times New Roman',serif" font-size="30" fill="#000">10</text>
<line x1="235.8" y1="696" x2="235.8" y2="690" stroke="#262626" stroke-width="1.5"/>
<line x1="235.8" y1="438.7" x2="235.8" y2="444.7" stroke="#262626" stroke-width="1.5"/>
<text x="220.8" y="732.35" font-family="'Liberation Serif','Times New Roman',serif" font-size="30" fill="#000">15</text>
<line x1="284.2" y1="696" x2="284.2" y2="690" stroke="#262626" stroke-width="1.5"/>
<line x1="284.2" y1="438.7" x2="284.2" y2="444.7" stroke="#262626" stroke-width="1.5"/>
<text x="269.2" y="732.6" font-family="'Liberation Serif','Times New Roman',serif" font-size="30" fill="#000">20</text>
<line x1="332.6" y1="696" x2="332.6" y2="690" stroke="#262626" stroke-width="1.5"/>
<line x1="332.6" y1="438.7" x2="332.6" y2="444.7" stroke="#262626" stroke-width="1.5"/>
<text x="317.6" y="732.48" font-family="'Liberation Serif','Times New Roman',serif" font-size="30" fill="#000">25</text>
<line x1="90.6" y1="695.8" x2="96.6" y2="695.8" stroke="#262626" stroke-width="1.5"/>
<line x1="381" y1="695.8" x2="375" y2="695.8" stroke="#262626" stroke-width="1.5"/>
<text x="43" y="706.88" font-family="'Liberation Serif','Times New Roman',serif" font-size="30" fill="#000">-10</text>
<line x1="90.6" y1="631.5" x2="96.6" y2="631.5" stroke="#262626" stroke-width="1.5"/>
<line x1="381" y1="631.5" x2="375" y2="631.5" stroke="#262626" stroke-width="1.5"/>
<text x="58" y="642.39" font-family="'Liberation Serif','Times New Roman',serif" font-size="30" fill="#000">-5</text>
<line x1="90.6" y1="567.2" x2="96.6" y2="567.2" stroke="#262626" stroke-width="1.5"/>
<line x1="381" y1="567.2" x2="375" y2="567.2" stroke="#262626" stroke-width="1.5"/>
<text x="68" y="578.28" font-family="'Liberation Serif','Times New Roman',serif" font-size="30" fill="#000">0</text>
<line x1="90.6" y1="502.9" x2="96.6" y2="502.9" stroke="#262626" stroke-width="1.5"/>
<line x1="381" y1="502.9" x2="375" y2="502.9" stroke="#262626" stroke-width="1.5"/>
<text x="68" y="513.79" font-family="'Liberation Serif','Times New Roman',serif" font-size="30" fill="#000">5</text>
<line x1="90.6" y1="438.6" x2="96.6" y2="438.6" stroke="#262626" stroke-width="1.5"/>
<line x1="381" y1="438.6" x2="375" y2="438.6" stroke="#262626" stroke-width="1.5"/>
<text x="53" y="449.68" font-family="'Liberation Serif','Times New Roman',serif" font-size="30" fill="#000">10</text>
<text transform="translate(231.75 765.71) scale(1.0800 1)" font-family="'Liberation Serif','Times New Roman',serif" font-size="32.91" font-style="italic" fill="#000">j</text>
<text transform="translate(48.45 582.34) rotate(-90) scale(0.9603 1)" font-family="'Liberation Serif','Times New Roman',serif" font-size="36.57" font-style="italic" fill="#000">V</text>
<text transform="translate(53.39 560.62) rotate(-90) scale(1.2748 1)" font-family="'Liberation Serif','Times New Roman',serif" font-size="21.71" font-style="italic" fill="#000">j</text>
<line x1="580.25" y1="438.7" x2="580.25" y2="696" stroke="#dcdcdc" stroke-width="1.5" stroke-dasharray="4 2 1.5 2"/>
<line x1="631.4" y1="438.7" x2="631.4" y2="696" stroke="#dcdcdc" stroke-width="1.5" stroke-dasharray="4 2 1.5 2"/>
<line x1="682.55" y1="438.7" x2="682.55" y2="696" stroke="#dcdcdc" stroke-width="1.5" stroke-dasharray="4 2 1.5 2"/>
<line x1="733.7" y1="438.7" x2="733.7" y2="696" stroke="#dcdcdc" stroke-width="1.5" stroke-dasharray="4 2 1.5 2"/>
<line x1="784.85" y1="438.7" x2="784.85" y2="696" stroke="#dcdcdc" stroke-width="1.5" stroke-dasharray="4 2 1.5 2"/>
<line x1="529.1" y1="632.35" x2="836" y2="632.35" stroke="#dcdcdc" stroke-width="1.5" stroke-dasharray="4 2 1.5 2"/>
<line x1="529.1" y1="568.5" x2="836" y2="568.5" stroke="#dcdcdc" stroke-width="1.5" stroke-dasharray="4 2 1.5 2"/>
<line x1="529.1" y1="504.65" x2="836" y2="504.65" stroke="#dcdcdc" stroke-width="1.5" stroke-dasharray="4 2 1.5 2"/>
<line x1="529.1" y1="440.8" x2="836" y2="440.8" stroke="#dcdcdc" stroke-width="1.5" stroke-dasharray="4 2 1.5 2"/>
<polyline points="539.33,557.65 549.56,696.2 559.79,510.01 570.02,438.5 580.25,519.59 590.48,696.2 600.71,565.56 610.94,440.8 621.17,546.66 631.4,696.2 641.63,504.27 651.86,438.5 662.09,531.85 672.32,696.2 682.55,568.24 692.78,440.42 703.01,534.02 713.24,696.2 723.47,503.5 733.7,438.88 743.93,544.49 754.16,696.2 764.39,544.88 774.62,438.88 784.85,500.18 795.08,696.2 805.31,529.55 815.54,440.16" fill="none" stroke="#0072bd" stroke-width="2.4" stroke-linejoin="round"/>
<rect x="529.1" y="438.7" width="306.9" height="257.3" fill="none" stroke="#262626" stroke-width="1.7"/>
<g fill="#000"><circle cx="539.33" cy="557.65" r="3.4"/><circle cx="549.56" cy="696.2" r="3.4"/><circle cx="559.79" cy="510.01" r="3.4"/><circle cx="570.02" cy="438.5" r="3.4"/><circle cx="580.25" cy="519.59" r="3.4"/><circle cx="590.48" cy="696.2" r="3.4"/><circle cx="600.71" cy="565.56" r="3.4"/><circle cx="610.94" cy="440.8" r="3.4"/><circle cx="621.17" cy="546.66" r="3.4"/><circle cx="631.4" cy="696.2" r="3.4"/><circle cx="641.63" cy="504.27" r="3.4"/><circle cx="651.86" cy="438.5" r="3.4"/><circle cx="662.09" cy="531.85" r="3.4"/><circle cx="672.32" cy="696.2" r="3.4"/><circle cx="682.55" cy="568.24" r="3.4"/><circle cx="692.78" cy="440.42" r="3.4"/><circle cx="703.01" cy="534.02" r="3.4"/><circle cx="713.24" cy="696.2" r="3.4"/><circle cx="723.47" cy="503.5" r="3.4"/><circle cx="733.7" cy="438.88" r="3.4"/><circle cx="743.93" cy="544.49" r="3.4"/><circle cx="754.16" cy="696.2" r="3.4"/><circle cx="764.39" cy="544.88" r="3.4"/><circle cx="774.62" cy="438.88" r="3.4"/><circle cx="784.85" cy="500.18" r="3.4"/><circle cx="795.08" cy="696.2" r="3.4"/><circle cx="805.31" cy="529.55" r="3.4"/><circle cx="815.54" cy="440.16" r="3.4"/></g>
<line x1="580.25" y1="696" x2="580.25" y2="690" stroke="#262626" stroke-width="1.5"/>
<line x1="580.25" y1="438.7" x2="580.25" y2="444.7" stroke="#262626" stroke-width="1.5"/>
<text x="572.75" y="732.23" font-family="'Liberation Serif','Times New Roman',serif" font-size="30" fill="#000">5</text>
<line x1="631.4" y1="696" x2="631.4" y2="690" stroke="#262626" stroke-width="1.5"/>
<line x1="631.4" y1="438.7" x2="631.4" y2="444.7" stroke="#262626" stroke-width="1.5"/>
<text x="616.4" y="732.6" font-family="'Liberation Serif','Times New Roman',serif" font-size="30" fill="#000">10</text>
<line x1="682.55" y1="696" x2="682.55" y2="690" stroke="#262626" stroke-width="1.5"/>
<line x1="682.55" y1="438.7" x2="682.55" y2="444.7" stroke="#262626" stroke-width="1.5"/>
<text x="667.55" y="732.35" font-family="'Liberation Serif','Times New Roman',serif" font-size="30" fill="#000">15</text>
<line x1="733.7" y1="696" x2="733.7" y2="690" stroke="#262626" stroke-width="1.5"/>
<line x1="733.7" y1="438.7" x2="733.7" y2="444.7" stroke="#262626" stroke-width="1.5"/>
<text x="718.7" y="732.6" font-family="'Liberation Serif','Times New Roman',serif" font-size="30" fill="#000">20</text>
<line x1="784.85" y1="696" x2="784.85" y2="690" stroke="#262626" stroke-width="1.5"/>
<line x1="784.85" y1="438.7" x2="784.85" y2="444.7" stroke="#262626" stroke-width="1.5"/>
<text x="769.85" y="732.48" font-family="'Liberation Serif','Times New Roman',serif" font-size="30" fill="#000">25</text>
<line x1="529.1" y1="696.2" x2="535.1" y2="696.2" stroke="#262626" stroke-width="1.5"/>
<line x1="836" y1="696.2" x2="830" y2="696.2" stroke="#262626" stroke-width="1.5"/>
<text x="482.4" y="707.28" font-family="'Liberation Serif','Times New Roman',serif" font-size="30" fill="#000">-10</text>
<line x1="529.1" y1="632.35" x2="535.1" y2="632.35" stroke="#262626" stroke-width="1.5"/>
<line x1="836" y1="632.35" x2="830" y2="632.35" stroke="#262626" stroke-width="1.5"/>
<text x="497.4" y="643.24" font-family="'Liberation Serif','Times New Roman',serif" font-size="30" fill="#000">-5</text>
<line x1="529.1" y1="568.5" x2="535.1" y2="568.5" stroke="#262626" stroke-width="1.5"/>
<line x1="836" y1="568.5" x2="830" y2="568.5" stroke="#262626" stroke-width="1.5"/>
<text x="507.4" y="579.58" font-family="'Liberation Serif','Times New Roman',serif" font-size="30" fill="#000">0</text>
<line x1="529.1" y1="504.65" x2="535.1" y2="504.65" stroke="#262626" stroke-width="1.5"/>
<line x1="836" y1="504.65" x2="830" y2="504.65" stroke="#262626" stroke-width="1.5"/>
<text x="507.4" y="515.54" font-family="'Liberation Serif','Times New Roman',serif" font-size="30" fill="#000">5</text>
<line x1="529.1" y1="440.8" x2="535.1" y2="440.8" stroke="#262626" stroke-width="1.5"/>
<line x1="836" y1="440.8" x2="830" y2="440.8" stroke="#262626" stroke-width="1.5"/>
<text x="492.4" y="451.88" font-family="'Liberation Serif','Times New Roman',serif" font-size="30" fill="#000">10</text>
<text transform="translate(678.84 764.35) scale(1.0800 1)" font-family="'Liberation Serif','Times New Roman',serif" font-size="31.77" font-style="italic" fill="#000">j</text>
<text transform="translate(490.9 599.2) rotate(-90) scale(1.0920 1)" font-family="'Liberation Serif','Times New Roman',serif" font-size="33.13" font-style="italic" fill="#000">V</text>
<text transform="translate(495.87 579.62) rotate(-90) scale(1.0005 1)" font-family="'Liberation Serif','Times New Roman',serif" font-size="23.06" font-style="italic" fill="#000">e</text>
<text transform="translate(495.45 568.22) rotate(-90) scale(1.3000 1)" font-family="'Liberation Serif','Times New Roman',serif" font-size="22.37" font-style="italic" fill="#000">f</text>
<text transform="translate(495.45 555.12) rotate(-90) scale(1.3000 1)" font-family="'Liberation Serif','Times New Roman',serif" font-size="22.37" font-style="italic" fill="#000">f</text>
<rect x="932.8" y="683.78" width="10.75" height="9.47" fill="#3e26a8" stroke="none" stroke-width="1"/>
<rect x="943.5" y="683.78" width="10.75" height="9.47" fill="#4537d5" stroke="none" stroke-width="1"/>
<rect x="954.2" y="683.78" width="10.75" height="9.47" fill="#3e26a8" stroke="none" stroke-width="1"/>
<rect x="964.9" y="683.78" width="10.75" height="9.47" fill="#3e26a8" stroke="none" stroke-width="1"/>
<rect x="975.6" y="683.78" width="10.75" height="9.47" fill="#3e26a8" stroke="none" stroke-width="1"/>
<rect x="986.3" y="683.78" width="10.75" height="9.47" fill="#4747eb" stroke="none" stroke-width="1"/>
<rect x="997" y="683.78" width="10.75" height="9.47" fill="#3e26a8" stroke="none" stroke-width="1"/>
<rect x="1007.7" y="683.78" width="10.75" height="9.47" fill="#3e26a8" stroke="none" stroke-width="1"/>
<rect x="1018.4" y="683.78" width="10.75" height="9.47" fill="#3e26a8" stroke="none" stroke-width="1"/>
<rect x="1029.1" y="683.78" width="10.75" height="9.47" fill="#2e87f7" stroke="none" stroke-width="1"/>
<rect x="1039.8" y="683.78" width="10.75" height="9.47" fill="#3e26a8" stroke="none" stroke-width="1"/>
<rect x="1050.5" y="683.78" width="10.75" height="9.47" fill="#3e26a8" stroke="none" stroke-width="1"/>
<rect x="1061.2" y="683.78" width="10.75" height="9.47" fill="#3e26a8" stroke="none" stroke-width="1"/>
<rect x="1071.9" y="683.78" width="10.75" height="9.47" fill="#2e87f7" stroke="none" stroke-width="1"/>
<rect x="1082.6" y="683.78" width="10.75" height="9.47" fill="#3e26a8" stroke="none" stroke-width="1"/>
<rect x="1093.3" y="683.78" width="10.75" height="9.47" fill="#3e26a8" stroke="none" stroke-width="1"/>
<rect x="1104" y="683.78" width="10.75" height="9.47" fill="#3e26a8" stroke="none" stroke-width="1"/>
<rect x="1114.7" y="683.78" width="10.75" height="9.47" fill="#2e87f7" stroke="none" stroke-width="1"/>
<rect x="1125.4" y="683.78" width="10.75" height="9.47" fill="#3e26a8" stroke="none" stroke-width="1"/>
<rect x="1136.1" y="683.78" width="10.75" height="9.47" fill="#3e26a8" stroke="none" stroke-width="1"/>
<rect x="1146.8" y="683.78" width="10.75" height="9.47" fill="#3e26a8" stroke="none" stroke-width="1"/>
<rect x="1157.5" y="683.78" width="10.75" height="9.47" fill="#4852f4" stroke="none" stroke-width="1"/>
<rect x="1168.2" y="683.78" width="10.75" height="9.47" fill="#3e26a8" stroke="none" stroke-width="1"/>
<rect x="1178.9" y="683.78" width="10.75" height="9.47" fill="#3e26a8" stroke="none" stroke-width="1"/>
<rect x="1189.6" y="683.78" width="10.75" height="9.47" fill="#3e26a8" stroke="none" stroke-width="1"/>
<rect x="1200.3" y="683.78" width="10.75" height="9.47" fill="#4537d5" stroke="none" stroke-width="1"/>
<rect x="1211" y="683.78" width="10.75" height="9.47" fill="#3e26a8" stroke="none" stroke-width="1"/>
<rect x="932.8" y="674.36" width="10.75" height="9.47" fill="#3e26a8" stroke="none" stroke-width="1"/>
<rect x="943.5" y="674.36" width="10.75" height="9.47" fill="#4747eb" stroke="none" stroke-width="1"/>
<rect x="954.2" y="674.36" width="10.75" height="9.47" fill="#3e26a8" stroke="none" stroke-width="1"/>
<rect x="964.9" y="674.36" width="10.75" height="9.47" fill="#3e26a8" stroke="none" stroke-width="1"/>
<rect x="975.6" y="674.36" width="10.75" height="9.47" fill="#3e26a8" stroke="none" stroke-width="1"/>
<rect x="986.3" y="674.36" width="10.75" height="9.47" fill="#3875fe" stroke="none" stroke-width="1"/>
<rect x="997" y="674.36" width="10.75" height="9.47" fill="#3e26a8" stroke="none" stroke-width="1"/>
<rect x="1007.7" y="674.36" width="10.75" height="9.47" fill="#3e26a8" stroke="none" stroke-width="1"/>
<rect x="1018.4" y="674.36" width="10.75" height="9.47" fill="#3e26a8" stroke="none" stroke-width="1"/>
<rect x="1029.1" y="674.36" width="10.75" height="9.47" fill="#4269fe" stroke="none" stroke-width="1"/>
<rect x="1039.8" y="674.36" width="10.75" height="9.47" fill="#3e26a8" stroke="none" stroke-width="1"/>
<rect x="1050.5" y="674.36" width="10.75" height="9.47" fill="#3e26a8" stroke="none" stroke-width="1"/>
<rect x="1061.2" y="674.36" width="10.75" height="9.47" fill="#3e26a8" stroke="none" stroke-width="1"/>
<rect x="1071.9" y="674.36" width="10.75" height="9.47" fill="#4332cb" stroke="none" stroke-width="1"/>
<rect x="1082.6" y="674.36" width="10.75" height="9.47" fill="#3e26a8" stroke="none" stroke-width="1"/>
<rect x="1093.3" y="674.36" width="10.75" height="9.47" fill="#3e26a8" stroke="none" stroke-width="1"/>
<rect x="1104" y="674.36" width="10.75" height="9.47" fill="#3e26a8" stroke="none" stroke-width="1"/>
<rect x="1114.7" y="674.36" width="10.75" height="9.47" fill="#4852f4" stroke="none" stroke-width="1"/>
<rect x="1125.4" y="674.36" width="10.75" height="9.47" fill="#3e26a8" stroke="none" stroke-width="1"/>
<rect x="1136.1" y="674.36" width="10.75" height="9.47" fill="#3e26a8" stroke="none" stroke-width="1"/>
<rect x="1146.8" y="674.36" width="10.75" height="9.47" fill="#3e26a8" stroke="none" stroke-width="1"/>
<rect x="1157.5" y="674.36" width="10.75" height="9.47" fill="#2e87f7" stroke="none" stroke-width="1"/>
<rect x="1168.2" y="674.36" width="10.75" height="9.47" fill="#3e26a8" stroke="none" stroke-width="1"/>
<rect x="1178.9" y="674.36" width="10.75" height="9.47" fill="#3e26a8" stroke="none" stroke-width="1"/>
<rect x="1189.6" y="674.36" width="10.75" height="9.47" fill="#3e26a8" stroke="none" stroke-width="1"/>
<rect x="1200.3" y="674.36" width="10.75" height="9.47" fill="#4852f4" stroke="none" stroke-width="1"/>
<rect x="1211" y="674.36" width="10.75" height="9.47" fill="#3e26a8" stroke="none" stroke-width="1"/>
<rect x="932.8" y="664.93" width="10.75" height="9.47" fill="#3e26a8" stroke="none" stroke-width="1"/>
<rect x="943.5" y="664.93" width="10.75" height="9.47" fill="#4852f4" stroke="none" stroke-width="1"/>
<rect x="954.2" y="664.93" width="10.75" height="9.47" fill="#3e26a8" stroke="none" stroke-width="1"/>
<rect x="964.9" y="664.93" width="10.75" height="9.47" fill="#3e26a8" stroke="none" stroke-width="1"/>
<rect x="975.6" y="664.93" width="10.75" height="9.47" fill="#3e26a8" stroke="none" stroke-width="1"/>
<rect x="986.3" y="664.93" width="10.75" height="9.47" fill="#3875fe" stroke="none" stroke-width="1"/>
<rect x="997" y="664.93" width="10.75" height="9.47" fill="#3e26a8" stroke="none" stroke-width="1"/>
<rect x="1007.7" y="664.93" width="10.75" height="9.47" fill="#3e26a8" stroke="none" stroke-width="1"/>
<rect x="1018.4" y="664.93" width="10.75" height="9.47" fill="#3e26a8" stroke="none" stroke-width="1"/>
<rect x="1029.1" y="664.93" width="10.75" height="9.47" fill="#4332cb" stroke="none" stroke-width="1"/>
<rect x="1039.8" y="664.93" width="10.75" height="9.47" fill="#3e26a8" stroke="none" stroke-width="1"/>
<rect x="1050.5" y="664.93" width="10.75" height="9.47" fill="#3e26a8" stroke="none" stroke-width="1"/>
<rect x="1061.2" y="664.93" width="10.75" height="9.47" fill="#3e26a8" stroke="none" stroke-width="1"/>
<rect x="1071.9" y="664.93" width="10.75" height="9.47" fill="#3875fe" stroke="none" stroke-width="1"/>
<rect x="1082.6" y="664.93" width="10.75" height="9.47" fill="#3e26a8" stroke="none" stroke-width="1"/>
<rect x="1093.3" y="664.93" width="10.75" height="9.47" fill="#3e26a8" stroke="none" stroke-width="1"/>
<rect x="1104" y="664.93" width="10.75" height="9.47" fill="#3e26a8" stroke="none" stroke-width="1"/>
<rect x="1114.7" y="664.93" width="10.75" height="9.47" fill="#4747eb" stroke="none" stroke-width="1"/>
<rect x="1125.4" y="664.93" width="10.75" height="9.47" fill="#3e26a8" stroke="none" stroke-width="1"/>
<rect x="1136.1" y="664.93" width="10.75" height="9.47" fill="#3e26a8" stroke="none" stroke-width="1"/>
<rect x="1146.8" y="664.93" width="10.75" height="9.47" fill="#3e26a8" stroke="none" stroke-width="1"/>
<rect x="1157.5" y="664.93" width="10.75" height="9.47" fill="#4852f4" stroke="none" stroke-width="1"/>
<rect x="1168.2" y="664.93" width="10.75" height="9.47" fill="#3e26a8" stroke="none" stroke-width="1"/>
<rect x="1178.9" y="664.93" width="10.75" height="9.47" fill="#3e26a8" stroke="none" stroke-width="1"/>
<rect x="1189.6" y="664.93" width="10.75" height="9.47" fill="#3e26a8" stroke="none" stroke-width="1"/>
<rect x="1200.3" y="664.93" width="10.75" height="9.47" fill="#3875fe" stroke="none" stroke-width="1"/>
<rect x="1211" y="664.93" width="10.75" height="9.47" fill="#3e26a8" stroke="none" stroke-width="1"/>
<rect x="932.8" y="655.51" width="10.75" height="9.47" fill="#3e26a8" stroke="none" stroke-width="1"/>
<rect x="943.5" y="655.51" width="10.75" height="9.47" fill="#465efb" stroke="none" stroke-width="1"/>
<rect x="954.2" y="655.51" width="10.75" height="9.47" fill="#3e26a8" stroke="none" stroke-width="1"/>
<rect x="964.9" y="655.51" width="10.75" height="9.47" fill="#3e26a8" stroke="none" stroke-width="1"/>
<rect x="975.6" y="655.51" width="10.75" height="9.47" fill="#3e26a8" stroke="none" stroke-width="1"/>
<rect x="986.3" y="655.51" width="10.75" height="9.47" fill="#4852f4" stroke="none" stroke-width="1"/>
<rect x="997" y="655.51" width="10.75" height="9.47" fill="#3e26a8" stroke="none" stroke-width="1"/>
<rect x="1007.7" y="655.51" width="10.75" height="9.47" fill="#3e26a8" stroke="none" stroke-width="1"/>
<rect x="1018.4" y="655.51" width="10.75" height="9.47" fill="#3e26a8" stroke="none" stroke-width="1"/>
<rect x="1029.1" y="655.51" width="10.75" height="9.47" fill="#4269fe" stroke="none" stroke-width="1"/>
<rect x="1039.8" y="655.51" width="10.75" height="9.47" fill="#3e26a8" stroke="none" stroke-width="1"/>
<rect x="1050.5" y="655.51" width="10.75" height="9.47" fill="#3e26a8" stroke="none" stroke-width="1"/>
<rect x="1061.2" y="655.51" width="10.75" height="9.47" fill="#3e26a8" stroke="none" stroke-width="1"/>
<rect x="1071.9" y="655.51" width="10.75" height="9.47" fill="#4537d5" stroke="none" stroke-width="1"/>
<rect x="1082.6" y="655.51" width="10.75" height="9.47" fill="#3e26a8" stroke="none" stroke-width="1"/>
<rect x="1093.3" y="655.51" width="10.75" height="9.47" fill="#3e26a8" stroke="none" stroke-width="1"/>
<rect x="1104" y="655.51" width="10.75" height="9.47" fill="#3e26a8" stroke="none" stroke-width="1"/>
<rect x="1114.7" y="655.51" width="10.75" height="9.47" fill="#2e87f7" stroke="none" stroke-width="1"/>
<rect x="1125.4" y="655.51" width="10.75" height="9.47" fill="#3e26a8" stroke="none" stroke-width="1"/>
<rect x="1136.1" y="655.51" width="10.75" height="9.47" fill="#3e26a8" stroke="none" stroke-width="1"/>
<rect x="1146.8" y="655.51" width="10.75" height="9.47" fill="#3e26a8" stroke="none" stroke-width="1"/>
<rect x="1157.5" y="655.51" width="10.75" height="9.47" fill="#4332cb" stroke="none" stroke-width="1"/>
<rect x="1168.2" y="655.51" width="10.75" height="9.47" fill="#3e26a8" stroke="none" stroke-width="1"/>
<rect x="1178.9" y="655.51" width="10.75" height="9.47" fill="#3e26a8" stroke="none" stroke-width="1"/>
<rect x="1189.6" y="655.51" width="10.75" height="9.47" fill="#3e26a8" stroke="none" stroke-width="1"/>
<rect x="1200.3" y="655.51" width="10.75" height="9.47" fill="#2e87f7" stroke="none" stroke-width="1"/>
<rect x="1211" y="655.51" width="10.75" height="9.47" fill="#3e26a8" stroke="none" stroke-width="1"/>
<rect x="932.8" y="646.09" width="10.75" height="9.47" fill="#3e26a8" stroke="none" stroke-width="1"/>
<rect x="943.5" y="646.09" width="10.75" height="9.47" fill="#3875fe" stroke="none" stroke-width="1"/>
<rect x="954.2" y="646.09" width="10.75" height="9.47" fill="#3e26a8" stroke="none" stroke-width="1"/>
<rect x="964.9" y="646.09" width="10.75" height="9.47" fill="#3e26a8" stroke="none" stroke-width="1"/>
<rect x="975.6" y="646.09" width="10.75" height="9.47" fill="#3e26a8" stroke="none" stroke-width="1"/>
<rect x="986.3" y="646.09" width="10.75" height="9.47" fill="#4332cb" stroke="none" stroke-width="1"/>
<rect x="997" y="646.09" width="10.75" height="9.47" fill="#3e26a8" stroke="none" stroke-width="1"/>
<rect x="1007.7" y="646.09" width="10.75" height="9.47" fill="#3e26a8" stroke="none" stroke-width="1"/>
<rect x="1018.4" y="646.09" width="10.75" height="9.47" fill="#3e26a8" stroke="none" stroke-width="1"/>
<rect x="1029.1" y="646.09" width="10.75" height="9.47" fill="#4269fe" stroke="none" stroke-width="1"/>
<rect x="1039.8" y="646.09" width="10.75" height="9.47" fill="#3e26a8" stroke="none" stroke-width="1"/>
<rect x="1050.5" y="646.09" width="10.75" height="9.47" fill="#3e26a8" stroke="none" stroke-width="1"/>
<rect x="1061.2" y="646.09" width="10.75" height="9.47" fill="#3e26a8" stroke="none" stroke-width="1"/>
<rect x="1071.9" y="646.09" width="10.75" height="9.47" fill="#4269fe" stroke="none" stroke-width="1"/>
<rect x="1082.6" y="646.09" width="10.75" height="9.47" fill="#3e26a8" stroke="none" stroke-width="1"/>
<rect x="1093.3" y="646.09" width="10.75" height="9.47" fill="#3e26a8" stroke="none" stroke-width="1"/>
<rect x="1104" y="646.09" width="10.75" height="9.47" fill="#3e26a8" stroke="none" stroke-width="1"/>
<rect x="1114.7" y="646.09" width="10.75" height="9.47" fill="#4332cb" stroke="none" stroke-width="1"/>
<rect x="1125.4" y="646.09" width="10.75" height="9.47" fill="#3e26a8" stroke="none" stroke-width="1"/>
<rect x="1136.1" y="646.09" width="10.75" height="9.47" fill="#3e26a8" stroke="none" stroke-width="1"/>
<rect x="1146.8" y="646.09" width="10.75" height="9.47" fill="#3e26a8" stroke="none" stroke-width="1"/>
<rect x="1157.5" y="646.09" width="10.75" height="9.47" fill="#3875fe" stroke="none" stroke-width="1"/>
<rect x="1168.2" y="646.09" width="10.75" height="9.47" fill="#3e26a8" stroke="none" stroke-width="1"/>
<rect x="1178.9" y="646.09" width="10.75" height="9.47" fill="#3e26a8" stroke="none" stroke-width="1"/>
<rect x="1189.6" y="646.09" width="10.75" height="9.47" fill="#3e26a8" stroke="none" stroke-width="1"/>
<rect x="1200.3" y="646.09" width="10.75" height="9.47" fill="#4269fe" stroke="none" stroke-width="1"/>
<rect x="1211" y="646.09" width="10.75" height="9.47" fill="#3e26a8" stroke="none" stroke-width="1"/>
<rect x="932.8" y="636.67" width="10.75" height="9.47" fill="#3e26a8" stroke="none" stroke-width="1"/>
<rect x="943.5" y="636.67" width="10.75" height="9.47" fill="#2e87f7" stroke="none" stroke-width="1"/>
<rect x="954.2" y="636.67" width="10.75" height="9.47" fill="#3e26a8" stroke="none" stroke-width="1"/>
<rect x="964.9" y="636.67" width="10.75" height="9.47" fill="#3e26a8" stroke="none" stroke-width="1"/>
<rect x="975.6" y="636.67" width="10.75" height="9.47" fill="#3e26a8" stroke="none" stroke-width="1"/>
<rect x="986.3" y="636.67" width="10.75" height="9.47" fill="#4852f4" stroke="none" stroke-width="1"/>
<rect x="997" y="636.67" width="10.75" height="9.47" fill="#3e26a8" stroke="none" stroke-width="1"/>
<rect x="1007.7" y="636.67" width="10.75" height="9.47" fill="#3e26a8" stroke="none" stroke-width="1"/>
<rect x="1018.4" y="636.67" width="10.75" height="9.47" fill="#3e26a8" stroke="none" stroke-width="1"/>
<rect x="1029.1" y="636.67" width="10.75" height="9.47" fill="#4332cb" stroke="none" stroke-width="1"/>
<rect x="1039.8" y="636.67" width="10.75" height="9.47" fill="#3e26a8" stroke="none" stroke-width="1"/>
<rect x="1050.5" y="636.67" width="10.75" height="9.47" fill="#3e26a8" stroke="none" stroke-width="1"/>
<rect x="1061.2" y="636.67" width="10.75" height="9.47" fill="#3e26a8" stroke="none" stroke-width="1"/>
<rect x="1071.9" y="636.67" width="10.75" height="9.47" fill="#4852f4" stroke="none" stroke-width="1"/>
<rect x="1082.6" y="636.67" width="10.75" height="9.47" fill="#3e26a8" stroke="none" stroke-width="1"/>
<rect x="1093.3" y="636.67" width="10.75" height="9.47" fill="#3e26a8" stroke="none" stroke-width="1"/>
<rect x="1104" y="636.67" width="10.75" height="9.47" fill="#3e26a8" stroke="none" stroke-width="1"/>
<rect x="1114.7" y="636.67" width="10.75" height="9.47" fill="#2e87f7" stroke="none" stroke-width="1"/>
<rect x="1125.4" y="636.67" width="10.75" height="9.47" fill="#3e26a8" stroke="none" stroke-width="1"/>
<rect x="1136.1" y="636.67" width="10.75" height="9.47" fill="#3e26a8" stroke="none" stroke-width="1"/>
<rect x="1146.8" y="636.67" width="10.75" height="9.47" fill="#3e26a8" stroke="none" stroke-width="1"/>
<rect x="1157.5" y="636.67" width="10.75" height="9.47" fill="#2e87f7" stroke="none" stroke-width="1"/>
<rect x="1168.2" y="636.67" width="10.75" height="9.47" fill="#3e26a8" stroke="none" stroke-width="1"/>
<rect x="1178.9" y="636.67" width="10.75" height="9.47" fill="#3e26a8" stroke="none" stroke-width="1"/>
<rect x="1189.6" y="636.67" width="10.75" height="9.47" fill="#3e26a8" stroke="none" stroke-width="1"/>
<rect x="1200.3" y="636.67" width="10.75" height="9.47" fill="#4741e5" stroke="none" stroke-width="1"/>
<rect x="1211" y="636.67" width="10.75" height="9.47" fill="#3e26a8" stroke="none" stroke-width="1"/>
<rect x="932.8" y="627.24" width="10.75" height="9.47" fill="#3e26a8" stroke="none" stroke-width="1"/>
<rect x="943.5" y="627.24" width="10.75" height="9.47" fill="#2e87f7" stroke="none" stroke-width="1"/>
<rect x="954.2" y="627.24" width="10.75" height="9.47" fill="#3e26a8" stroke="none" stroke-width="1"/>
<rect x="964.9" y="627.24" width="10.75" height="9.47" fill="#3e26a8" stroke="none" stroke-width="1"/>
<rect x="975.6" y="627.24" width="10.75" height="9.47" fill="#3e26a8" stroke="none" stroke-width="1"/>
<rect x="986.3" y="627.24" width="10.75" height="9.47" fill="#2e87f7" stroke="none" stroke-width="1"/>
<rect x="997" y="627.24" width="10.75" height="9.47" fill="#3e26a8" stroke="none" stroke-width="1"/>
<rect x="1007.7" y="627.24" width="10.75" height="9.47" fill="#3e26a8" stroke="none" stroke-width="1"/>
<rect x="1018.4" y="627.24" width="10.75" height="9.47" fill="#3e26a8" stroke="none" stroke-width="1"/>
<rect x="1029.1" y="627.24" width="10.75" height="9.47" fill="#4269fe" stroke="none" stroke-width="1"/>
<rect x="1039.8" y="627.24" width="10.75" height="9.47" fill="#3e26a8" stroke="none" stroke-width="1"/>
<rect x="1050.5" y="627.24" width="10.75" height="9.47" fill="#3e26a8" stroke="none" stroke-width="1"/>
<rect x="1061.2" y="627.24" width="10.75" height="9.47" fill="#3e26a8" stroke="none" stroke-width="1"/>
<rect x="1071.9" y="627.24" width="10.75" height="9.47" fill="#465efb" stroke="none" stroke-width="1"/>
<rect x="1082.6" y="627.24" width="10.75" height="9.47" fill="#3e26a8" stroke="none" stroke-width="1"/>
<rect x="1093.3" y="627.24" width="10.75" height="9.47" fill="#3e26a8" stroke="none" stroke-width="1"/>
<rect x="1104" y="627.24" width="10.75" height="9.47" fill="#3e26a8" stroke="none" stroke-width="1"/>
<rect x="1114.7" y="627.24" width="10.75" height="9.47" fill="#4747eb" stroke="none" stroke-width="1"/>
<rect x="1125.4" y="627.24" width="10.75" height="9.47" fill="#3e26a8" stroke="none" stroke-width="1"/>
<rect x="1136.1" y="627.24" width="10.75" height="9.47" fill="#3e26a8" stroke="none" stroke-width="1"/>
<rect x="1146.8" y="627.24" width="10.75" height="9.47" fill="#3e26a8" stroke="none" stroke-width="1"/>
<rect x="1157.5" y="627.24" width="10.75" height="9.47" fill="#4741e5" stroke="none" stroke-width="1"/>
<rect x="1168.2" y="627.24" width="10.75" height="9.47" fill="#3e26a8" stroke="none" stroke-width="1"/>
<rect x="1178.9" y="627.24" width="10.75" height="9.47" fill="#3e26a8" stroke="none" stroke-width="1"/>
<rect x="1189.6" y="627.24" width="10.75" height="9.47" fill="#3e26a8" stroke="none" stroke-width="1"/>
<rect x="1200.3" y="627.24" width="10.75" height="9.47" fill="#402ab4" stroke="none" stroke-width="1"/>
<rect x="1211" y="627.24" width="10.75" height="9.47" fill="#3e26a8" stroke="none" stroke-width="1"/>
<rect x="932.8" y="617.82" width="10.75" height="9.47" fill="#402ab4" stroke="none" stroke-width="1"/>
<rect x="943.5" y="617.82" width="10.75" height="9.47" fill="#3e26a8" stroke="none" stroke-width="1"/>
<rect x="954.2" y="617.82" width="10.75" height="9.47" fill="#4332cb" stroke="none" stroke-width="1"/>
<rect x="964.9" y="617.82" width="10.75" height="9.47" fill="#3e26a8" stroke="none" stroke-width="1"/>
<rect x="975.6" y="617.82" width="10.75" height="9.47" fill="#4537d5" stroke="none" stroke-width="1"/>
<rect x="986.3" y="617.82" width="10.75" height="9.47" fill="#3e26a8" stroke="none" stroke-width="1"/>
<rect x="997" y="617.82" width="10.75" height="9.47" fill="#4747eb" stroke="none" stroke-width="1"/>
<rect x="1007.7" y="617.82" width="10.75" height="9.47" fill="#3e26a8" stroke="none" stroke-width="1"/>
<rect x="1018.4" y="617.82" width="10.75" height="9.47" fill="#4747eb" stroke="none" stroke-width="1"/>
<rect x="1029.1" y="617.82" width="10.75" height="9.47" fill="#3e26a8" stroke="none" stroke-width="1"/>
<rect x="1039.8" y="617.82" width="10.75" height="9.47" fill="#4852f4" stroke="none" stroke-width="1"/>
<rect x="1050.5" y="617.82" width="10.75" height="9.47" fill="#3e26a8" stroke="none" stroke-width="1"/>
<rect x="1061.2" y="617.82" width="10.75" height="9.47" fill="#4852f4" stroke="none" stroke-width="1"/>
<rect x="1071.9" y="617.82" width="10.75" height="9.47" fill="#3e26a8" stroke="none" stroke-width="1"/>
<rect x="1082.6" y="617.82" width="10.75" height="9.47" fill="#4852f4" stroke="none" stroke-width="1"/>
<rect x="1093.3" y="617.82" width="10.75" height="9.47" fill="#3e26a8" stroke="none" stroke-width="1"/>
<rect x="1104" y="617.82" width="10.75" height="9.47" fill="#4852f4" stroke="none" stroke-width="1"/>
<rect x="1114.7" y="617.82" width="10.75" height="9.47" fill="#3e26a8" stroke="none" stroke-width="1"/>
<rect x="1125.4" y="617.82" width="10.75" height="9.47" fill="#4852f4" stroke="none" stroke-width="1"/>
<rect x="1136.1" y="617.82" width="10.75" height="9.47" fill="#3e26a8" stroke="none" stroke-width="1"/>
<rect x="1146.8" y="617.82" width="10.75" height="9.47" fill="#4741e5" stroke="none" stroke-width="1"/>
<rect x="1157.5" y="617.82" width="10.75" height="9.47" fill="#3e26a8" stroke="none" stroke-width="1"/>
<rect x="1168.2" y="617.82" width="10.75" height="9.47" fill="#4537d5" stroke="none" stroke-width="1"/>
<rect x="1178.9" y="617.82" width="10.75" height="9.47" fill="#3e26a8" stroke="none" stroke-width="1"/>
<rect x="1189.6" y="617.82" width="10.75" height="9.47" fill="#4332cb" stroke="none" stroke-width="1"/>
<rect x="1200.3" y="617.82" width="10.75" height="9.47" fill="#3e26a8" stroke="none" stroke-width="1"/>
<rect x="1211" y="617.82" width="10.75" height="9.47" fill="#402ab4" stroke="none" stroke-width="1"/>
<rect x="932.8" y="608.4" width="10.75" height="9.47" fill="#4332cb" stroke="none" stroke-width="1"/>
<rect x="943.5" y="608.4" width="10.75" height="9.47" fill="#3e26a8" stroke="none" stroke-width="1"/>
<rect x="954.2" y="608.4" width="10.75" height="9.47" fill="#4741e5" stroke="none" stroke-width="1"/>
<rect x="964.9" y="608.4" width="10.75" height="9.47" fill="#3e26a8" stroke="none" stroke-width="1"/>
<rect x="975.6" y="608.4" width="10.75" height="9.47" fill="#4852f4" stroke="none" stroke-width="1"/>
<rect x="986.3" y="608.4" width="10.75" height="9.47" fill="#3e26a8" stroke="none" stroke-width="1"/>
<rect x="997" y="608.4" width="10.75" height="9.47" fill="#4852f4" stroke="none" stroke-width="1"/>
<rect x="1007.7" y="608.4" width="10.75" height="9.47" fill="#3e26a8" stroke="none" stroke-width="1"/>
<rect x="1018.4" y="608.4" width="10.75" height="9.47" fill="#4852f4" stroke="none" stroke-width="1"/>
<rect x="1029.1" y="608.4" width="10.75" height="9.47" fill="#3e26a8" stroke="none" stroke-width="1"/>
<rect x="1039.8" y="608.4" width="10.75" height="9.47" fill="#4741e5" stroke="none" stroke-width="1"/>
<rect x="1050.5" y="608.4" width="10.75" height="9.47" fill="#3e26a8" stroke="none" stroke-width="1"/>
<rect x="1061.2" y="608.4" width="10.75" height="9.47" fill="#4332cb" stroke="none" stroke-width="1"/>
<rect x="1071.9" y="608.4" width="10.75" height="9.47" fill="#3e26a8" stroke="none" stroke-width="1"/>
<rect x="1082.6" y="608.4" width="10.75" height="9.47" fill="#4332cb" stroke="none" stroke-width="1"/>
<rect x="1093.3" y="608.4" width="10.75" height="9.47" fill="#3e26a8" stroke="none" stroke-width="1"/>
<rect x="1104" y="608.4" width="10.75" height="9.47" fill="#4537d5" stroke="none" stroke-width="1"/>
<rect x="1114.7" y="608.4" width="10.75" height="9.47" fill="#3e26a8" stroke="none" stroke-width="1"/>
<rect x="1125.4" y="608.4" width="10.75" height="9.47" fill="#4852f4" stroke="none" stroke-width="1"/>
<rect x="1136.1" y="608.4" width="10.75" height="9.47" fill="#3e26a8" stroke="none" stroke-width="1"/>
<rect x="1146.8" y="608.4" width="10.75" height="9.47" fill="#4852f4" stroke="none" stroke-width="1"/>
<rect x="1157.5" y="608.4" width="10.75" height="9.47" fill="#3e26a8" stroke="none" stroke-width="1"/>
<rect x="1168.2" y="608.4" width="10.75" height="9.47" fill="#4852f4" stroke="none" stroke-width="1"/>
<rect x="1178.9" y="608.4" width="10.75" height="9.47" fill="#3e26a8" stroke="none" stroke-width="1"/>
<rect x="1189.6" y="608.4" width="10.75" height="9.47" fill="#4741e5" stroke="none" stroke-width="1"/>
<rect x="1200.3" y="608.4" width="10.75" height="9.47" fill="#3e26a8" stroke="none" stroke-width="1"/>
<rect x="1211" y="608.4" width="10.75" height="9.47" fill="#4332cb" stroke="none" stroke-width="1"/>
<rect x="932.8" y="598.98" width="10.75" height="9.47" fill="#4537d5" stroke="none" stroke-width="1"/>
<rect x="943.5" y="598.98" width="10.75" height="9.47" fill="#3e26a8" stroke="none" stroke-width="1"/>
<rect x="954.2" y="598.98" width="10.75" height="9.47" fill="#4747eb" stroke="none" stroke-width="1"/>
<rect x="964.9" y="598.98" width="10.75" height="9.47" fill="#3e26a8" stroke="none" stroke-width="1"/>
<rect x="975.6" y="598.98" width="10.75" height="9.47" fill="#4852f4" stroke="none" stroke-width="1"/>
<rect x="986.3" y="598.98" width="10.75" height="9.47" fill="#3e26a8" stroke="none" stroke-width="1"/>
<rect x="997" y="598.98" width="10.75" height="9.47" fill="#4852f4" stroke="none" stroke-width="1"/>
<rect x="1007.7" y="598.98" width="10.75" height="9.47" fill="#3e26a8" stroke="none" stroke-width="1"/>
<rect x="1018.4" y="598.98" width="10.75" height="9.47" fill="#4332cb" stroke="none" stroke-width="1"/>
<rect x="1029.1" y="598.98" width="10.75" height="9.47" fill="#3e26a8" stroke="none" stroke-width="1"/>
<rect x="1039.8" y="598.98" width="10.75" height="9.47" fill="#4332cb" stroke="none" stroke-width="1"/>
<rect x="1050.5" y="598.98" width="10.75" height="9.47" fill="#3e26a8" stroke="none" stroke-width="1"/>
<rect x="1061.2" y="598.98" width="10.75" height="9.47" fill="#4852f4" stroke="none" stroke-width="1"/>
<rect x="1071.9" y="598.98" width="10.75" height="9.47" fill="#3e26a8" stroke="none" stroke-width="1"/>
<rect x="1082.6" y="598.98" width="10.75" height="9.47" fill="#4852f4" stroke="none" stroke-width="1"/>
<rect x="1093.3" y="598.98" width="10.75" height="9.47" fill="#3e26a8" stroke="none" stroke-width="1"/>
<rect x="1104" y="598.98" width="10.75" height="9.47" fill="#4741e5" stroke="none" stroke-width="1"/>
<rect x="1114.7" y="598.98" width="10.75" height="9.47" fill="#3e26a8" stroke="none" stroke-width="1"/>
<rect x="1125.4" y="598.98" width="10.75" height="9.47" fill="#4332cb" stroke="none" stroke-width="1"/>
<rect x="1136.1" y="598.98" width="10.75" height="9.47" fill="#3e26a8" stroke="none" stroke-width="1"/>
<rect x="1146.8" y="598.98" width="10.75" height="9.47" fill="#4332cb" stroke="none" stroke-width="1"/>
<rect x="1157.5" y="598.98" width="10.75" height="9.47" fill="#3e26a8" stroke="none" stroke-width="1"/>
<rect x="1168.2" y="598.98" width="10.75" height="9.47" fill="#4852f4" stroke="none" stroke-width="1"/>
<rect x="1178.9" y="598.98" width="10.75" height="9.47" fill="#3e26a8" stroke="none" stroke-width="1"/>
<rect x="1189.6" y="598.98" width="10.75" height="9.47" fill="#4852f4" stroke="none" stroke-width="1"/>
<rect x="1200.3" y="598.98" width="10.75" height="9.47" fill="#3e26a8" stroke="none" stroke-width="1"/>
<rect x="1211" y="598.98" width="10.75" height="9.47" fill="#4537d5" stroke="none" stroke-width="1"/>
<rect x="932.8" y="589.56" width="10.75" height="9.47" fill="#4741e5" stroke="none" stroke-width="1"/>
<rect x="943.5" y="589.56" width="10.75" height="9.47" fill="#3e26a8" stroke="none" stroke-width="1"/>
<rect x="954.2" y="589.56" width="10.75" height="9.47" fill="#4852f4" stroke="none" stroke-width="1"/>
<rect x="964.9" y="589.56" width="10.75" height="9.47" fill="#3e26a8" stroke="none" stroke-width="1"/>
<rect x="975.6" y="589.56" width="10.75" height="9.47" fill="#4852f4" stroke="none" stroke-width="1"/>
<rect x="986.3" y="589.56" width="10.75" height="9.47" fill="#3e26a8" stroke="none" stroke-width="1"/>
<rect x="997" y="589.56" width="10.75" height="9.47" fill="#4332cb" stroke="none" stroke-width="1"/>
<rect x="1007.7" y="589.56" width="10.75" height="9.47" fill="#3e26a8" stroke="none" stroke-width="1"/>
<rect x="1018.4" y="589.56" width="10.75" height="9.47" fill="#4741e5" stroke="none" stroke-width="1"/>
<rect x="1029.1" y="589.56" width="10.75" height="9.47" fill="#3e26a8" stroke="none" stroke-width="1"/>
<rect x="1039.8" y="589.56" width="10.75" height="9.47" fill="#4852f4" stroke="none" stroke-width="1"/>
<rect x="1050.5" y="589.56" width="10.75" height="9.47" fill="#3e26a8" stroke="none" stroke-width="1"/>
<rect x="1061.2" y="589.56" width="10.75" height="9.47" fill="#4537d5" stroke="none" stroke-width="1"/>
<rect x="1071.9" y="589.56" width="10.75" height="9.47" fill="#3e26a8" stroke="none" stroke-width="1"/>
<rect x="1082.6" y="589.56" width="10.75" height="9.47" fill="#4332cb" stroke="none" stroke-width="1"/>
<rect x="1093.3" y="589.56" width="10.75" height="9.47" fill="#3e26a8" stroke="none" stroke-width="1"/>
<rect x="1104" y="589.56" width="10.75" height="9.47" fill="#4852f4" stroke="none" stroke-width="1"/>
<rect x="1114.7" y="589.56" width="10.75" height="9.47" fill="#3e26a8" stroke="none" stroke-width="1"/>
<rect x="1125.4" y="589.56" width="10.75" height="9.47" fill="#4852f4" stroke="none" stroke-width="1"/>
<rect x="1136.1" y="589.56" width="10.75" height="9.47" fill="#3e26a8" stroke="none" stroke-width="1"/>
<rect x="1146.8" y="589.56" width="10.75" height="9.47" fill="#4332cb" stroke="none" stroke-width="1"/>
<rect x="1157.5" y="589.56" width="10.75" height="9.47" fill="#3e26a8" stroke="none" stroke-width="1"/>
<rect x="1168.2" y="589.56" width="10.75" height="9.47" fill="#4332cb" stroke="none" stroke-width="1"/>
<rect x="1178.9" y="589.56" width="10.75" height="9.47" fill="#3e26a8" stroke="none" stroke-width="1"/>
<rect x="1189.6" y="589.56" width="10.75" height="9.47" fill="#4852f4" stroke="none" stroke-width="1"/>
<rect x="1200.3" y="589.56" width="10.75" height="9.47" fill="#3e26a8" stroke="none" stroke-width="1"/>
<rect x="1211" y="589.56" width="10.75" height="9.47" fill="#4741e5" stroke="none" stroke-width="1"/>
<rect x="932.8" y="580.13" width="10.75" height="9.47" fill="#4747eb" stroke="none" stroke-width="1"/>
<rect x="943.5" y="580.13" width="10.75" height="9.47" fill="#3e26a8" stroke="none" stroke-width="1"/>
<rect x="954.2" y="580.13" width="10.75" height="9.47" fill="#4852f4" stroke="none" stroke-width="1"/>
<rect x="964.9" y="580.13" width="10.75" height="9.47" fill="#3e26a8" stroke="none" stroke-width="1"/>
<rect x="975.6" y="580.13" width="10.75" height="9.47" fill="#4332cb" stroke="none" stroke-width="1"/>
<rect x="986.3" y="580.13" width="10.75" height="9.47" fill="#3e26a8" stroke="none" stroke-width="1"/>
<rect x="997" y="580.13" width="10.75" height="9.47" fill="#4537d5" stroke="none" stroke-width="1"/>
<rect x="1007.7" y="580.13" width="10.75" height="9.47" fill="#3e26a8" stroke="none" stroke-width="1"/>
<rect x="1018.4" y="580.13" width="10.75" height="9.47" fill="#4852f4" stroke="none" stroke-width="1"/>
<rect x="1029.1" y="580.13" width="10.75" height="9.47" fill="#3e26a8" stroke="none" stroke-width="1"/>
<rect x="1039.8" y="580.13" width="10.75" height="9.47" fill="#4332cb" stroke="none" stroke-width="1"/>
<rect x="1050.5" y="580.13" width="10.75" height="9.47" fill="#3e26a8" stroke="none" stroke-width="1"/>
<rect x="1061.2" y="580.13" width="10.75" height="9.47" fill="#4741e5" stroke="none" stroke-width="1"/>
<rect x="1071.9" y="580.13" width="10.75" height="9.47" fill="#3e26a8" stroke="none" stroke-width="1"/>
<rect x="1082.6" y="580.13" width="10.75" height="9.47" fill="#4852f4" stroke="none" stroke-width="1"/>
<rect x="1093.3" y="580.13" width="10.75" height="9.47" fill="#3e26a8" stroke="none" stroke-width="1"/>
<rect x="1104" y="580.13" width="10.75" height="9.47" fill="#4332cb" stroke="none" stroke-width="1"/>
<rect x="1114.7" y="580.13" width="10.75" height="9.47" fill="#3e26a8" stroke="none" stroke-width="1"/>
<rect x="1125.4" y="580.13" width="10.75" height="9.47" fill="#4741e5" stroke="none" stroke-width="1"/>
<rect x="1136.1" y="580.13" width="10.75" height="9.47" fill="#3e26a8" stroke="none" stroke-width="1"/>
<rect x="1146.8" y="580.13" width="10.75" height="9.47" fill="#4852f4" stroke="none" stroke-width="1"/>
<rect x="1157.5" y="580.13" width="10.75" height="9.47" fill="#3e26a8" stroke="none" stroke-width="1"/>
<rect x="1168.2" y="580.13" width="10.75" height="9.47" fill="#4332cb" stroke="none" stroke-width="1"/>
<rect x="1178.9" y="580.13" width="10.75" height="9.47" fill="#3e26a8" stroke="none" stroke-width="1"/>
<rect x="1189.6" y="580.13" width="10.75" height="9.47" fill="#4747eb" stroke="none" stroke-width="1"/>
<rect x="1200.3" y="580.13" width="10.75" height="9.47" fill="#3e26a8" stroke="none" stroke-width="1"/>
<rect x="1211" y="580.13" width="10.75" height="9.47" fill="#4747eb" stroke="none" stroke-width="1"/>
<rect x="932.8" y="570.71" width="10.75" height="9.47" fill="#4747eb" stroke="none" stroke-width="1"/>
<rect x="943.5" y="570.71" width="10.75" height="9.47" fill="#3e26a8" stroke="none" stroke-width="1"/>
<rect x="954.2" y="570.71" width="10.75" height="9.47" fill="#4852f4" stroke="none" stroke-width="1"/>
<rect x="964.9" y="570.71" width="10.75" height="9.47" fill="#3e26a8" stroke="none" stroke-width="1"/>
<rect x="975.6" y="570.71" width="10.75" height="9.47" fill="#4332cb" stroke="none" stroke-width="1"/>
<rect x="986.3" y="570.71" width="10.75" height="9.47" fill="#3e26a8" stroke="none" stroke-width="1"/>
<rect x="997" y="570.71" width="10.75" height="9.47" fill="#4852f4" stroke="none" stroke-width="1"/>
<rect x="1007.7" y="570.71" width="10.75" height="9.47" fill="#3e26a8" stroke="none" stroke-width="1"/>
<rect x="1018.4" y="570.71" width="10.75" height="9.47" fill="#4332cb" stroke="none" stroke-width="1"/>
<rect x="1029.1" y="570.71" width="10.75" height="9.47" fill="#3e26a8" stroke="none" stroke-width="1"/>
<rect x="1039.8" y="570.71" width="10.75" height="9.47" fill="#4741e5" stroke="none" stroke-width="1"/>
<rect x="1050.5" y="570.71" width="10.75" height="9.47" fill="#3e26a8" stroke="none" stroke-width="1"/>
<rect x="1061.2" y="570.71" width="10.75" height="9.47" fill="#4852f4" stroke="none" stroke-width="1"/>
<rect x="1071.9" y="570.71" width="10.75" height="9.47" fill="#3e26a8" stroke="none" stroke-width="1"/>
<rect x="1082.6" y="570.71" width="10.75" height="9.47" fill="#4332cb" stroke="none" stroke-width="1"/>
<rect x="1093.3" y="570.71" width="10.75" height="9.47" fill="#3e26a8" stroke="none" stroke-width="1"/>
<rect x="1104" y="570.71" width="10.75" height="9.47" fill="#4852f4" stroke="none" stroke-width="1"/>
<rect x="1114.7" y="570.71" width="10.75" height="9.47" fill="#3e26a8" stroke="none" stroke-width="1"/>
<rect x="1125.4" y="570.71" width="10.75" height="9.47" fill="#4332cb" stroke="none" stroke-width="1"/>
<rect x="1136.1" y="570.71" width="10.75" height="9.47" fill="#3e26a8" stroke="none" stroke-width="1"/>
<rect x="1146.8" y="570.71" width="10.75" height="9.47" fill="#4852f4" stroke="none" stroke-width="1"/>
<rect x="1157.5" y="570.71" width="10.75" height="9.47" fill="#3e26a8" stroke="none" stroke-width="1"/>
<rect x="1168.2" y="570.71" width="10.75" height="9.47" fill="#4741e5" stroke="none" stroke-width="1"/>
<rect x="1178.9" y="570.71" width="10.75" height="9.47" fill="#3e26a8" stroke="none" stroke-width="1"/>
<rect x="1189.6" y="570.71" width="10.75" height="9.47" fill="#4537d5" stroke="none" stroke-width="1"/>
<rect x="1200.3" y="570.71" width="10.75" height="9.47" fill="#3e26a8" stroke="none" stroke-width="1"/>
<rect x="1211" y="570.71" width="10.75" height="9.47" fill="#4852f4" stroke="none" stroke-width="1"/>
<rect x="932.8" y="561.29" width="10.75" height="9.47" fill="#4852f4" stroke="none" stroke-width="1"/>
<rect x="943.5" y="561.29" width="10.75" height="9.47" fill="#3e26a8" stroke="none" stroke-width="1"/>
<rect x="954.2" y="561.29" width="10.75" height="9.47" fill="#4852f4" stroke="none" stroke-width="1"/>
<rect x="964.9" y="561.29" width="10.75" height="9.47" fill="#3e26a8" stroke="none" stroke-width="1"/>
<rect x="975.6" y="561.29" width="10.75" height="9.47" fill="#4741e5" stroke="none" stroke-width="1"/>
<rect x="986.3" y="561.29" width="10.75" height="9.47" fill="#3e26a8" stroke="none" stroke-width="1"/>
<rect x="997" y="561.29" width="10.75" height="9.47" fill="#4852f4" stroke="none" stroke-width="1"/>
<rect x="1007.7" y="561.29" width="10.75" height="9.47" fill="#3e26a8" stroke="none" stroke-width="1"/>
<rect x="1018.4" y="561.29" width="10.75" height="9.47" fill="#4332cb" stroke="none" stroke-width="1"/>
<rect x="1029.1" y="561.29" width="10.75" height="9.47" fill="#3e26a8" stroke="none" stroke-width="1"/>
<rect x="1039.8" y="561.29" width="10.75" height="9.47" fill="#4852f4" stroke="none" stroke-width="1"/>
<rect x="1050.5" y="561.29" width="10.75" height="9.47" fill="#3e26a8" stroke="none" stroke-width="1"/>
<rect x="1061.2" y="561.29" width="10.75" height="9.47" fill="#4332cb" stroke="none" stroke-width="1"/>
<rect x="1071.9" y="561.29" width="10.75" height="9.47" fill="#3e26a8" stroke="none" stroke-width="1"/>
<rect x="1082.6" y="561.29" width="10.75" height="9.47" fill="#4852f4" stroke="none" stroke-width="1"/>
<rect x="1093.3" y="561.29" width="10.75" height="9.47" fill="#3e26a8" stroke="none" stroke-width="1"/>
<rect x="1104" y="561.29" width="10.75" height="9.47" fill="#4332cb" stroke="none" stroke-width="1"/>
<rect x="1114.7" y="561.29" width="10.75" height="9.47" fill="#3e26a8" stroke="none" stroke-width="1"/>
<rect x="1125.4" y="561.29" width="10.75" height="9.47" fill="#4852f4" stroke="none" stroke-width="1"/>
<rect x="1136.1" y="561.29" width="10.75" height="9.47" fill="#3e26a8" stroke="none" stroke-width="1"/>
<rect x="1146.8" y="561.29" width="10.75" height="9.47" fill="#4332cb" stroke="none" stroke-width="1"/>
<rect x="1157.5" y="561.29" width="10.75" height="9.47" fill="#3e26a8" stroke="none" stroke-width="1"/>
<rect x="1168.2" y="561.29" width="10.75" height="9.47" fill="#4852f4" stroke="none" stroke-width="1"/>
<rect x="1178.9" y="561.29" width="10.75" height="9.47" fill="#3e26a8" stroke="none" stroke-width="1"/>
<rect x="1189.6" y="561.29" width="10.75" height="9.47" fill="#4332cb" stroke="none" stroke-width="1"/>
<rect x="1200.3" y="561.29" width="10.75" height="9.47" fill="#3e26a8" stroke="none" stroke-width="1"/>
<rect x="1211" y="561.29" width="10.75" height="9.47" fill="#4852f4" stroke="none" stroke-width="1"/>
<rect x="932.8" y="551.87" width="10.75" height="9.47" fill="#4747eb" stroke="none" stroke-width="1"/>
<rect x="943.5" y="551.87" width="10.75" height="9.47" fill="#3e26a8" stroke="none" stroke-width="1"/>
<rect x="954.2" y="551.87" width="10.75" height="9.47" fill="#4537d5" stroke="none" stroke-width="1"/>
<rect x="964.9" y="551.87" width="10.75" height="9.47" fill="#3e26a8" stroke="none" stroke-width="1"/>
<rect x="975.6" y="551.87" width="10.75" height="9.47" fill="#4852f4" stroke="none" stroke-width="1"/>
<rect x="986.3" y="551.87" width="10.75" height="9.47" fill="#3e26a8" stroke="none" stroke-width="1"/>
<rect x="997" y="551.87" width="10.75" height="9.47" fill="#402ab4" stroke="none" stroke-width="1"/>
<rect x="1007.7" y="551.87" width="10.75" height="9.47" fill="#3e26a8" stroke="none" stroke-width="1"/>
<rect x="1018.4" y="551.87" width="10.75" height="9.47" fill="#4852f4" stroke="none" stroke-width="1"/>
<rect x="1029.1" y="551.87" width="10.75" height="9.47" fill="#3e26a8" stroke="none" stroke-width="1"/>
<rect x="1039.8" y="551.87" width="10.75" height="9.47" fill="#4332cb" stroke="none" stroke-width="1"/>
<rect x="1050.5" y="551.87" width="10.75" height="9.47" fill="#3e26a8" stroke="none" stroke-width="1"/>
<rect x="1061.2" y="551.87" width="10.75" height="9.47" fill="#4852f4" stroke="none" stroke-width="1"/>
<rect x="1071.9" y="551.87" width="10.75" height="9.47" fill="#3e26a8" stroke="none" stroke-width="1"/>
<rect x="1082.6" y="551.87" width="10.75" height="9.47" fill="#4332cb" stroke="none" stroke-width="1"/>
<rect x="1093.3" y="551.87" width="10.75" height="9.47" fill="#3e26a8" stroke="none" stroke-width="1"/>
<rect x="1104" y="551.87" width="10.75" height="9.47" fill="#4852f4" stroke="none" stroke-width="1"/>
<rect x="1114.7" y="551.87" width="10.75" height="9.47" fill="#3e26a8" stroke="none" stroke-width="1"/>
<rect x="1125.4" y="551.87" width="10.75" height="9.47" fill="#4741e5" stroke="none" stroke-width="1"/>
<rect x="1136.1" y="551.87" width="10.75" height="9.47" fill="#3e26a8" stroke="none" stroke-width="1"/>
<rect x="1146.8" y="551.87" width="10.75" height="9.47" fill="#4332cb" stroke="none" stroke-width="1"/>
<rect x="1157.5" y="551.87" width="10.75" height="9.47" fill="#3e26a8" stroke="none" stroke-width="1"/>
<rect x="1168.2" y="551.87" width="10.75" height="9.47" fill="#4852f4" stroke="none" stroke-width="1"/>
<rect x="1178.9" y="551.87" width="10.75" height="9.47" fill="#3e26a8" stroke="none" stroke-width="1"/>
<rect x="1189.6" y="551.87" width="10.75" height="9.47" fill="#4332cb" stroke="none" stroke-width="1"/>
<rect x="1200.3" y="551.87" width="10.75" height="9.47" fill="#3e26a8" stroke="none" stroke-width="1"/>
<rect x="1211" y="551.87" width="10.75" height="9.47" fill="#4852f4" stroke="none" stroke-width="1"/>
<rect x="932.8" y="542.44" width="10.75" height="9.47" fill="#4852f4" stroke="none" stroke-width="1"/>
<rect x="943.5" y="542.44" width="10.75" height="9.47" fill="#3e26a8" stroke="none" stroke-width="1"/>
<rect x="954.2" y="542.44" width="10.75" height="9.47" fill="#402ab4" stroke="none" stroke-width="1"/>
<rect x="964.9" y="542.44" width="10.75" height="9.47" fill="#3e26a8" stroke="none" stroke-width="1"/>
<rect x="975.6" y="542.44" width="10.75" height="9.47" fill="#4852f4" stroke="none" stroke-width="1"/>
<rect x="986.3" y="542.44" width="10.75" height="9.47" fill="#3e26a8" stroke="none" stroke-width="1"/>
<rect x="997" y="542.44" width="10.75" height="9.47" fill="#4332cb" stroke="none" stroke-width="1"/>
<rect x="1007.7" y="542.44" width="10.75" height="9.47" fill="#3e26a8" stroke="none" stroke-width="1"/>
<rect x="1018.4" y="542.44" width="10.75" height="9.47" fill="#4332cb" stroke="none" stroke-width="1"/>
<rect x="1029.1" y="542.44" width="10.75" height="9.47" fill="#3e26a8" stroke="none" stroke-width="1"/>
<rect x="1039.8" y="542.44" width="10.75" height="9.47" fill="#4852f4" stroke="none" stroke-width="1"/>
<rect x="1050.5" y="542.44" width="10.75" height="9.47" fill="#3e26a8" stroke="none" stroke-width="1"/>
<rect x="1061.2" y="542.44" width="10.75" height="9.47" fill="#4332cb" stroke="none" stroke-width="1"/>
<rect x="1071.9" y="542.44" width="10.75" height="9.47" fill="#3e26a8" stroke="none" stroke-width="1"/>
<rect x="1082.6" y="542.44" width="10.75" height="9.47" fill="#4852f4" stroke="none" stroke-width="1"/>
<rect x="1093.3" y="542.44" width="10.75" height="9.47" fill="#3e26a8" stroke="none" stroke-width="1"/>
<rect x="1104" y="542.44" width="10.75" height="9.47" fill="#4741e5" stroke="none" stroke-width="1"/>
<rect x="1114.7" y="542.44" width="10.75" height="9.47" fill="#3e26a8" stroke="none" stroke-width="1"/>
<rect x="1125.4" y="542.44" width="10.75" height="9.47" fill="#4332cb" stroke="none" stroke-width="1"/>
<rect x="1136.1" y="542.44" width="10.75" height="9.47" fill="#3e26a8" stroke="none" stroke-width="1"/>
<rect x="1146.8" y="542.44" width="10.75" height="9.47" fill="#4852f4" stroke="none" stroke-width="1"/>
<rect x="1157.5" y="542.44" width="10.75" height="9.47" fill="#3e26a8" stroke="none" stroke-width="1"/>
<rect x="1168.2" y="542.44" width="10.75" height="9.47" fill="#4537d5" stroke="none" stroke-width="1"/>
<rect x="1178.9" y="542.44" width="10.75" height="9.47" fill="#3e26a8" stroke="none" stroke-width="1"/>
<rect x="1189.6" y="542.44" width="10.75" height="9.47" fill="#4741e5" stroke="none" stroke-width="1"/>
<rect x="1200.3" y="542.44" width="10.75" height="9.47" fill="#3e26a8" stroke="none" stroke-width="1"/>
<rect x="1211" y="542.44" width="10.75" height="9.47" fill="#4852f4" stroke="none" stroke-width="1"/>
<rect x="932.8" y="533.02" width="10.75" height="9.47" fill="#4852f4" stroke="none" stroke-width="1"/>
<rect x="943.5" y="533.02" width="10.75" height="9.47" fill="#3e26a8" stroke="none" stroke-width="1"/>
<rect x="954.2" y="533.02" width="10.75" height="9.47" fill="#402ab4" stroke="none" stroke-width="1"/>
<rect x="964.9" y="533.02" width="10.75" height="9.47" fill="#3e26a8" stroke="none" stroke-width="1"/>
<rect x="975.6" y="533.02" width="10.75" height="9.47" fill="#4747eb" stroke="none" stroke-width="1"/>
<rect x="986.3" y="533.02" width="10.75" height="9.47" fill="#3e26a8" stroke="none" stroke-width="1"/>
<rect x="997" y="533.02" width="10.75" height="9.47" fill="#4852f4" stroke="none" stroke-width="1"/>
<rect x="1007.7" y="533.02" width="10.75" height="9.47" fill="#3e26a8" stroke="none" stroke-width="1"/>
<rect x="1018.4" y="533.02" width="10.75" height="9.47" fill="#4332cb" stroke="none" stroke-width="1"/>
<rect x="1029.1" y="533.02" width="10.75" height="9.47" fill="#3e26a8" stroke="none" stroke-width="1"/>
<rect x="1039.8" y="533.02" width="10.75" height="9.47" fill="#4332cb" stroke="none" stroke-width="1"/>
<rect x="1050.5" y="533.02" width="10.75" height="9.47" fill="#3e26a8" stroke="none" stroke-width="1"/>
<rect x="1061.2" y="533.02" width="10.75" height="9.47" fill="#4852f4" stroke="none" stroke-width="1"/>
<rect x="1071.9" y="533.02" width="10.75" height="9.47" fill="#3e26a8" stroke="none" stroke-width="1"/>
<rect x="1082.6" y="533.02" width="10.75" height="9.47" fill="#4741e5" stroke="none" stroke-width="1"/>
<rect x="1093.3" y="533.02" width="10.75" height="9.47" fill="#3e26a8" stroke="none" stroke-width="1"/>
<rect x="1104" y="533.02" width="10.75" height="9.47" fill="#4537d5" stroke="none" stroke-width="1"/>
<rect x="1114.7" y="533.02" width="10.75" height="9.47" fill="#3e26a8" stroke="none" stroke-width="1"/>
<rect x="1125.4" y="533.02" width="10.75" height="9.47" fill="#4852f4" stroke="none" stroke-width="1"/>
<rect x="1136.1" y="533.02" width="10.75" height="9.47" fill="#3e26a8" stroke="none" stroke-width="1"/>
<rect x="1146.8" y="533.02" width="10.75" height="9.47" fill="#4741e5" stroke="none" stroke-width="1"/>
<rect x="1157.5" y="533.02" width="10.75" height="9.47" fill="#3e26a8" stroke="none" stroke-width="1"/>
<rect x="1168.2" y="533.02" width="10.75" height="9.47" fill="#4332cb" stroke="none" stroke-width="1"/>
<rect x="1178.9" y="533.02" width="10.75" height="9.47" fill="#3e26a8" stroke="none" stroke-width="1"/>
<rect x="1189.6" y="533.02" width="10.75" height="9.47" fill="#4852f4" stroke="none" stroke-width="1"/>
<rect x="1200.3" y="533.02" width="10.75" height="9.47" fill="#3e26a8" stroke="none" stroke-width="1"/>
<rect x="1211" y="533.02" width="10.75" height="9.47" fill="#4747eb" stroke="none" stroke-width="1"/>
<rect x="932.8" y="523.6" width="10.75" height="9.47" fill="#4852f4" stroke="none" stroke-width="1"/>
<rect x="943.5" y="523.6" width="10.75" height="9.47" fill="#3e26a8" stroke="none" stroke-width="1"/>
<rect x="954.2" y="523.6" width="10.75" height="9.47" fill="#4332cb" stroke="none" stroke-width="1"/>
<rect x="964.9" y="523.6" width="10.75" height="9.47" fill="#3e26a8" stroke="none" stroke-width="1"/>
<rect x="975.6" y="523.6" width="10.75" height="9.47" fill="#402ab4" stroke="none" stroke-width="1"/>
<rect x="986.3" y="523.6" width="10.75" height="9.47" fill="#3e26a8" stroke="none" stroke-width="1"/>
<rect x="997" y="523.6" width="10.75" height="9.47" fill="#4852f4" stroke="none" stroke-width="1"/>
<rect x="1007.7" y="523.6" width="10.75" height="9.47" fill="#3e26a8" stroke="none" stroke-width="1"/>
<rect x="1018.4" y="523.6" width="10.75" height="9.47" fill="#4852f4" stroke="none" stroke-width="1"/>
<rect x="1029.1" y="523.6" width="10.75" height="9.47" fill="#3e26a8" stroke="none" stroke-width="1"/>
<rect x="1039.8" y="523.6" width="10.75" height="9.47" fill="#4332cb" stroke="none" stroke-width="1"/>
<rect x="1050.5" y="523.6" width="10.75" height="9.47" fill="#3e26a8" stroke="none" stroke-width="1"/>
<rect x="1061.2" y="523.6" width="10.75" height="9.47" fill="#4332cb" stroke="none" stroke-width="1"/>
<rect x="1071.9" y="523.6" width="10.75" height="9.47" fill="#3e26a8" stroke="none" stroke-width="1"/>
<rect x="1082.6" y="523.6" width="10.75" height="9.47" fill="#4852f4" stroke="none" stroke-width="1"/>
<rect x="1093.3" y="523.6" width="10.75" height="9.47" fill="#3e26a8" stroke="none" stroke-width="1"/>
<rect x="1104" y="523.6" width="10.75" height="9.47" fill="#4852f4" stroke="none" stroke-width="1"/>
<rect x="1114.7" y="523.6" width="10.75" height="9.47" fill="#3e26a8" stroke="none" stroke-width="1"/>
<rect x="1125.4" y="523.6" width="10.75" height="9.47" fill="#4537d5" stroke="none" stroke-width="1"/>
<rect x="1136.1" y="523.6" width="10.75" height="9.47" fill="#3e26a8" stroke="none" stroke-width="1"/>
<rect x="1146.8" y="523.6" width="10.75" height="9.47" fill="#4332cb" stroke="none" stroke-width="1"/>
<rect x="1157.5" y="523.6" width="10.75" height="9.47" fill="#3e26a8" stroke="none" stroke-width="1"/>
<rect x="1168.2" y="523.6" width="10.75" height="9.47" fill="#4747eb" stroke="none" stroke-width="1"/>
<rect x="1178.9" y="523.6" width="10.75" height="9.47" fill="#3e26a8" stroke="none" stroke-width="1"/>
<rect x="1189.6" y="523.6" width="10.75" height="9.47" fill="#4852f4" stroke="none" stroke-width="1"/>
<rect x="1200.3" y="523.6" width="10.75" height="9.47" fill="#3e26a8" stroke="none" stroke-width="1"/>
<rect x="1211" y="523.6" width="10.75" height="9.47" fill="#4537d5" stroke="none" stroke-width="1"/>
<rect x="932.8" y="514.18" width="10.75" height="9.47" fill="#4852f4" stroke="none" stroke-width="1"/>
<rect x="943.5" y="514.18" width="10.75" height="9.47" fill="#3e26a8" stroke="none" stroke-width="1"/>
<rect x="954.2" y="514.18" width="10.75" height="9.47" fill="#4741e5" stroke="none" stroke-width="1"/>
<rect x="964.9" y="514.18" width="10.75" height="9.47" fill="#3e26a8" stroke="none" stroke-width="1"/>
<rect x="975.6" y="514.18" width="10.75" height="9.47" fill="#4332cb" stroke="none" stroke-width="1"/>
<rect x="986.3" y="514.18" width="10.75" height="9.47" fill="#3e26a8" stroke="none" stroke-width="1"/>
<rect x="997" y="514.18" width="10.75" height="9.47" fill="#402ab4" stroke="none" stroke-width="1"/>
<rect x="1007.7" y="514.18" width="10.75" height="9.47" fill="#3e26a8" stroke="none" stroke-width="1"/>
<rect x="1018.4" y="514.18" width="10.75" height="9.47" fill="#4741e5" stroke="none" stroke-width="1"/>
<rect x="1029.1" y="514.18" width="10.75" height="9.47" fill="#3e26a8" stroke="none" stroke-width="1"/>
<rect x="1039.8" y="514.18" width="10.75" height="9.47" fill="#4852f4" stroke="none" stroke-width="1"/>
<rect x="1050.5" y="514.18" width="10.75" height="9.47" fill="#3e26a8" stroke="none" stroke-width="1"/>
<rect x="1061.2" y="514.18" width="10.75" height="9.47" fill="#4852f4" stroke="none" stroke-width="1"/>
<rect x="1071.9" y="514.18" width="10.75" height="9.47" fill="#3e26a8" stroke="none" stroke-width="1"/>
<rect x="1082.6" y="514.18" width="10.75" height="9.47" fill="#4741e5" stroke="none" stroke-width="1"/>
<rect x="1093.3" y="514.18" width="10.75" height="9.47" fill="#3e26a8" stroke="none" stroke-width="1"/>
<rect x="1104" y="514.18" width="10.75" height="9.47" fill="#4332cb" stroke="none" stroke-width="1"/>
<rect x="1114.7" y="514.18" width="10.75" height="9.47" fill="#3e26a8" stroke="none" stroke-width="1"/>
<rect x="1125.4" y="514.18" width="10.75" height="9.47" fill="#4332cb" stroke="none" stroke-width="1"/>
<rect x="1136.1" y="514.18" width="10.75" height="9.47" fill="#3e26a8" stroke="none" stroke-width="1"/>
<rect x="1146.8" y="514.18" width="10.75" height="9.47" fill="#4852f4" stroke="none" stroke-width="1"/>
<rect x="1157.5" y="514.18" width="10.75" height="9.47" fill="#3e26a8" stroke="none" stroke-width="1"/>
<rect x="1168.2" y="514.18" width="10.75" height="9.47" fill="#4852f4" stroke="none" stroke-width="1"/>
<rect x="1178.9" y="514.18" width="10.75" height="9.47" fill="#3e26a8" stroke="none" stroke-width="1"/>
<rect x="1189.6" y="514.18" width="10.75" height="9.47" fill="#4852f4" stroke="none" stroke-width="1"/>
<rect x="1200.3" y="514.18" width="10.75" height="9.47" fill="#3e26a8" stroke="none" stroke-width="1"/>
<rect x="1211" y="514.18" width="10.75" height="9.47" fill="#4332cb" stroke="none" stroke-width="1"/>
<rect x="932.8" y="504.76" width="10.75" height="9.47" fill="#4852f4" stroke="none" stroke-width="1"/>
<rect x="943.5" y="504.76" width="10.75" height="9.47" fill="#3e26a8" stroke="none" stroke-width="1"/>
<rect x="954.2" y="504.76" width="10.75" height="9.47" fill="#4852f4" stroke="none" stroke-width="1"/>
<rect x="964.9" y="504.76" width="10.75" height="9.47" fill="#3e26a8" stroke="none" stroke-width="1"/>
<rect x="975.6" y="504.76" width="10.75" height="9.47" fill="#4741e5" stroke="none" stroke-width="1"/>
<rect x="986.3" y="504.76" width="10.75" height="9.47" fill="#3e26a8" stroke="none" stroke-width="1"/>
<rect x="997" y="504.76" width="10.75" height="9.47" fill="#4537d5" stroke="none" stroke-width="1"/>
<rect x="1007.7" y="504.76" width="10.75" height="9.47" fill="#3e26a8" stroke="none" stroke-width="1"/>
<rect x="1018.4" y="504.76" width="10.75" height="9.47" fill="#4332cb" stroke="none" stroke-width="1"/>
<rect x="1029.1" y="504.76" width="10.75" height="9.47" fill="#3e26a8" stroke="none" stroke-width="1"/>
<rect x="1039.8" y="504.76" width="10.75" height="9.47" fill="#4332cb" stroke="none" stroke-width="1"/>
<rect x="1050.5" y="504.76" width="10.75" height="9.47" fill="#3e26a8" stroke="none" stroke-width="1"/>
<rect x="1061.2" y="504.76" width="10.75" height="9.47" fill="#4537d5" stroke="none" stroke-width="1"/>
<rect x="1071.9" y="504.76" width="10.75" height="9.47" fill="#3e26a8" stroke="none" stroke-width="1"/>
<rect x="1082.6" y="504.76" width="10.75" height="9.47" fill="#4747eb" stroke="none" stroke-width="1"/>
<rect x="1093.3" y="504.76" width="10.75" height="9.47" fill="#3e26a8" stroke="none" stroke-width="1"/>
<rect x="1104" y="504.76" width="10.75" height="9.47" fill="#4852f4" stroke="none" stroke-width="1"/>
<rect x="1114.7" y="504.76" width="10.75" height="9.47" fill="#3e26a8" stroke="none" stroke-width="1"/>
<rect x="1125.4" y="504.76" width="10.75" height="9.47" fill="#4852f4" stroke="none" stroke-width="1"/>
<rect x="1136.1" y="504.76" width="10.75" height="9.47" fill="#3e26a8" stroke="none" stroke-width="1"/>
<rect x="1146.8" y="504.76" width="10.75" height="9.47" fill="#4852f4" stroke="none" stroke-width="1"/>
<rect x="1157.5" y="504.76" width="10.75" height="9.47" fill="#3e26a8" stroke="none" stroke-width="1"/>
<rect x="1168.2" y="504.76" width="10.75" height="9.47" fill="#4852f4" stroke="none" stroke-width="1"/>
<rect x="1178.9" y="504.76" width="10.75" height="9.47" fill="#3e26a8" stroke="none" stroke-width="1"/>
<rect x="1189.6" y="504.76" width="10.75" height="9.47" fill="#4741e5" stroke="none" stroke-width="1"/>
<rect x="1200.3" y="504.76" width="10.75" height="9.47" fill="#3e26a8" stroke="none" stroke-width="1"/>
<rect x="1211" y="504.76" width="10.75" height="9.47" fill="#4332cb" stroke="none" stroke-width="1"/>
<rect x="932.8" y="495.33" width="10.75" height="9.47" fill="#4852f4" stroke="none" stroke-width="1"/>
<rect x="943.5" y="495.33" width="10.75" height="9.47" fill="#3e26a8" stroke="none" stroke-width="1"/>
<rect x="954.2" y="495.33" width="10.75" height="9.47" fill="#4852f4" stroke="none" stroke-width="1"/>
<rect x="964.9" y="495.33" width="10.75" height="9.47" fill="#3e26a8" stroke="none" stroke-width="1"/>
<rect x="975.6" y="495.33" width="10.75" height="9.47" fill="#4852f4" stroke="none" stroke-width="1"/>
<rect x="986.3" y="495.33" width="10.75" height="9.47" fill="#3e26a8" stroke="none" stroke-width="1"/>
<rect x="997" y="495.33" width="10.75" height="9.47" fill="#4852f4" stroke="none" stroke-width="1"/>
<rect x="1007.7" y="495.33" width="10.75" height="9.47" fill="#3e26a8" stroke="none" stroke-width="1"/>
<rect x="1018.4" y="495.33" width="10.75" height="9.47" fill="#4747eb" stroke="none" stroke-width="1"/>
<rect x="1029.1" y="495.33" width="10.75" height="9.47" fill="#3e26a8" stroke="none" stroke-width="1"/>
<rect x="1039.8" y="495.33" width="10.75" height="9.47" fill="#4747eb" stroke="none" stroke-width="1"/>
<rect x="1050.5" y="495.33" width="10.75" height="9.47" fill="#3e26a8" stroke="none" stroke-width="1"/>
<rect x="1061.2" y="495.33" width="10.75" height="9.47" fill="#4741e5" stroke="none" stroke-width="1"/>
<rect x="1071.9" y="495.33" width="10.75" height="9.47" fill="#3e26a8" stroke="none" stroke-width="1"/>
<rect x="1082.6" y="495.33" width="10.75" height="9.47" fill="#4741e5" stroke="none" stroke-width="1"/>
<rect x="1093.3" y="495.33" width="10.75" height="9.47" fill="#3e26a8" stroke="none" stroke-width="1"/>
<rect x="1104" y="495.33" width="10.75" height="9.47" fill="#4741e5" stroke="none" stroke-width="1"/>
<rect x="1114.7" y="495.33" width="10.75" height="9.47" fill="#3e26a8" stroke="none" stroke-width="1"/>
<rect x="1125.4" y="495.33" width="10.75" height="9.47" fill="#4537d5" stroke="none" stroke-width="1"/>
<rect x="1136.1" y="495.33" width="10.75" height="9.47" fill="#3e26a8" stroke="none" stroke-width="1"/>
<rect x="1146.8" y="495.33" width="10.75" height="9.47" fill="#4332cb" stroke="none" stroke-width="1"/>
<rect x="1157.5" y="495.33" width="10.75" height="9.47" fill="#3e26a8" stroke="none" stroke-width="1"/>
<rect x="1168.2" y="495.33" width="10.75" height="9.47" fill="#4332cb" stroke="none" stroke-width="1"/>
<rect x="1178.9" y="495.33" width="10.75" height="9.47" fill="#3e26a8" stroke="none" stroke-width="1"/>
<rect x="1189.6" y="495.33" width="10.75" height="9.47" fill="#4332cb" stroke="none" stroke-width="1"/>
<rect x="1200.3" y="495.33" width="10.75" height="9.47" fill="#3e26a8" stroke="none" stroke-width="1"/>
<rect x="1211" y="495.33" width="10.75" height="9.47" fill="#402ab4" stroke="none" stroke-width="1"/>
<rect x="932.8" y="485.91" width="10.75" height="9.47" fill="#3e26a8" stroke="none" stroke-width="1"/>
<rect x="943.5" y="485.91" width="10.75" height="9.47" fill="#3e26a8" stroke="none" stroke-width="1"/>
<rect x="954.2" y="485.91" width="10.75" height="9.47" fill="#3e26a8" stroke="none" stroke-width="1"/>
<rect x="964.9" y="485.91" width="10.75" height="9.47" fill="#3e26a8" stroke="none" stroke-width="1"/>
<rect x="975.6" y="485.91" width="10.75" height="9.47" fill="#3e26a8" stroke="none" stroke-width="1"/>
<rect x="986.3" y="485.91" width="10.75" height="9.47" fill="#3e26a8" stroke="none" stroke-width="1"/>
<rect x="997" y="485.91" width="10.75" height="9.47" fill="#3e26a8" stroke="none" stroke-width="1"/>
<rect x="1007.7" y="485.91" width="10.75" height="9.47" fill="#3e26a8" stroke="none" stroke-width="1"/>
<rect x="1018.4" y="485.91" width="10.75" height="9.47" fill="#3e26a8" stroke="none" stroke-width="1"/>
<rect x="1029.1" y="485.91" width="10.75" height="9.47" fill="#3e26a8" stroke="none" stroke-width="1"/>
<rect x="1039.8" y="485.91" width="10.75" height="9.47" fill="#3e26a8" stroke="none" stroke-width="1"/>
<rect x="1050.5" y="485.91" width="10.75" height="9.47" fill="#3e26a8" stroke="none" stroke-width="1"/>
<rect x="1061.2" y="485.91" width="10.75" height="9.47" fill="#3e26a8" stroke="none" stroke-width="1"/>
<rect x="1071.9" y="485.91" width="10.75" height="9.47" fill="#3e26a8" stroke="none" stroke-width="1"/>
<rect x="1082.6" y="485.91" width="10.75" height="9.47" fill="#3e26a8" stroke="none" stroke-width="1"/>
<rect x="1093.3" y="485.91" width="10.75" height="9.47" fill="#3e26a8" stroke="none" stroke-width="1"/>
<rect x="1104" y="485.91" width="10.75" height="9.47" fill="#3e26a8" stroke="none" stroke-width="1"/>
<rect x="1114.7" y="485.91" width="10.75" height="9.47" fill="#3e26a8" stroke="none" stroke-width="1"/>
<rect x="1125.4" y="485.91" width="10.75" height="9.47" fill="#3e26a8" stroke="none" stroke-width="1"/>
<rect x="1136.1" y="485.91" width="10.75" height="9.47" fill="#3e26a8" stroke="none" stroke-width="1"/>
<rect x="1146.8" y="485.91" width="10.75" height="9.47" fill="#3e26a8" stroke="none" stroke-width="1"/>
<rect x="1157.5" y="485.91" width="10.75" height="9.47" fill="#3e26a8" stroke="none" stroke-width="1"/>
<rect x="1168.2" y="485.91" width="10.75" height="9.47" fill="#3e26a8" stroke="none" stroke-width="1"/>
<rect x="1178.9" y="485.91" width="10.75" height="9.47" fill="#3e26a8" stroke="none" stroke-width="1"/>
<rect x="1189.6" y="485.91" width="10.75" height="9.47" fill="#3e26a8" stroke="none" stroke-width="1"/>
<rect x="1200.3" y="485.91" width="10.75" height="9.47" fill="#3e26a8" stroke="none" stroke-width="1"/>
<rect x="1211" y="485.91" width="10.75" height="9.47" fill="#3e26a8" stroke="none" stroke-width="1"/>
<rect x="932.8" y="476.49" width="10.75" height="9.47" fill="#3e26a8" stroke="none" stroke-width="1"/>
<rect x="943.5" y="476.49" width="10.75" height="9.47" fill="#3e26a8" stroke="none" stroke-width="1"/>
<rect x="954.2" y="476.49" width="10.75" height="9.47" fill="#3e26a8" stroke="none" stroke-width="1"/>
<rect x="964.9" y="476.49" width="10.75" height="9.47" fill="#4537d5" stroke="none" stroke-width="1"/>
<rect x="975.6" y="476.49" width="10.75" height="9.47" fill="#3e26a8" stroke="none" stroke-width="1"/>
<rect x="986.3" y="476.49" width="10.75" height="9.47" fill="#3e26a8" stroke="none" stroke-width="1"/>
<rect x="997" y="476.49" width="10.75" height="9.47" fill="#3e26a8" stroke="none" stroke-width="1"/>
<rect x="1007.7" y="476.49" width="10.75" height="9.47" fill="#4852f4" stroke="none" stroke-width="1"/>
<rect x="1018.4" y="476.49" width="10.75" height="9.47" fill="#3e26a8" stroke="none" stroke-width="1"/>
<rect x="1029.1" y="476.49" width="10.75" height="9.47" fill="#3e26a8" stroke="none" stroke-width="1"/>
<rect x="1039.8" y="476.49" width="10.75" height="9.47" fill="#3e26a8" stroke="none" stroke-width="1"/>
<rect x="1050.5" y="476.49" width="10.75" height="9.47" fill="#2e87f7" stroke="none" stroke-width="1"/>
<rect x="1061.2" y="476.49" width="10.75" height="9.47" fill="#3e26a8" stroke="none" stroke-width="1"/>
<rect x="1071.9" y="476.49" width="10.75" height="9.47" fill="#3e26a8" stroke="none" stroke-width="1"/>
<rect x="1082.6" y="476.49" width="10.75" height="9.47" fill="#3e26a8" stroke="none" stroke-width="1"/>
<rect x="1093.3" y="476.49" width="10.75" height="9.47" fill="#2e87f7" stroke="none" stroke-width="1"/>
<rect x="1104" y="476.49" width="10.75" height="9.47" fill="#3e26a8" stroke="none" stroke-width="1"/>
<rect x="1114.7" y="476.49" width="10.75" height="9.47" fill="#3e26a8" stroke="none" stroke-width="1"/>
<rect x="1125.4" y="476.49" width="10.75" height="9.47" fill="#3e26a8" stroke="none" stroke-width="1"/>
<rect x="1136.1" y="476.49" width="10.75" height="9.47" fill="#465efb" stroke="none" stroke-width="1"/>
<rect x="1146.8" y="476.49" width="10.75" height="9.47" fill="#3e26a8" stroke="none" stroke-width="1"/>
<rect x="1157.5" y="476.49" width="10.75" height="9.47" fill="#3e26a8" stroke="none" stroke-width="1"/>
<rect x="1168.2" y="476.49" width="10.75" height="9.47" fill="#3e26a8" stroke="none" stroke-width="1"/>
<rect x="1178.9" y="476.49" width="10.75" height="9.47" fill="#4537d5" stroke="none" stroke-width="1"/>
<rect x="1189.6" y="476.49" width="10.75" height="9.47" fill="#3e26a8" stroke="none" stroke-width="1"/>
<rect x="1200.3" y="476.49" width="10.75" height="9.47" fill="#3e26a8" stroke="none" stroke-width="1"/>
<rect x="1211" y="476.49" width="10.75" height="9.47" fill="#3e26a8" stroke="none" stroke-width="1"/>
<rect x="932.8" y="467.07" width="10.75" height="9.47" fill="#3e26a8" stroke="none" stroke-width="1"/>
<rect x="943.5" y="467.07" width="10.75" height="9.47" fill="#3e26a8" stroke="none" stroke-width="1"/>
<rect x="954.2" y="467.07" width="10.75" height="9.47" fill="#3e26a8" stroke="none" stroke-width="1"/>
<rect x="964.9" y="467.07" width="10.75" height="9.47" fill="#4852f4" stroke="none" stroke-width="1"/>
<rect x="975.6" y="467.07" width="10.75" height="9.47" fill="#3e26a8" stroke="none" stroke-width="1"/>
<rect x="986.3" y="467.07" width="10.75" height="9.47" fill="#3e26a8" stroke="none" stroke-width="1"/>
<rect x="997" y="467.07" width="10.75" height="9.47" fill="#3e26a8" stroke="none" stroke-width="1"/>
<rect x="1007.7" y="467.07" width="10.75" height="9.47" fill="#3875fe" stroke="none" stroke-width="1"/>
<rect x="1018.4" y="467.07" width="10.75" height="9.47" fill="#3e26a8" stroke="none" stroke-width="1"/>
<rect x="1029.1" y="467.07" width="10.75" height="9.47" fill="#3e26a8" stroke="none" stroke-width="1"/>
<rect x="1039.8" y="467.07" width="10.75" height="9.47" fill="#3e26a8" stroke="none" stroke-width="1"/>
<rect x="1050.5" y="467.07" width="10.75" height="9.47" fill="#4537d5" stroke="none" stroke-width="1"/>
<rect x="1061.2" y="467.07" width="10.75" height="9.47" fill="#3e26a8" stroke="none" stroke-width="1"/>
<rect x="1071.9" y="467.07" width="10.75" height="9.47" fill="#3e26a8" stroke="none" stroke-width="1"/>
<rect x="1082.6" y="467.07" width="10.75" height="9.47" fill="#3e26a8" stroke="none" stroke-width="1"/>
<rect x="1093.3" y="467.07" width="10.75" height="9.47" fill="#4537d5" stroke="none" stroke-width="1"/>
<rect x="1104" y="467.07" width="10.75" height="9.47" fill="#3e26a8" stroke="none" stroke-width="1"/>
<rect x="1114.7" y="467.07" width="10.75" height="9.47" fill="#3e26a8" stroke="none" stroke-width="1"/>
<rect x="1125.4" y="467.07" width="10.75" height="9.47" fill="#3e26a8" stroke="none" stroke-width="1"/>
<rect x="1136.1" y="467.07" width="10.75" height="9.47" fill="#2e87f7" stroke="none" stroke-width="1"/>
<rect x="1146.8" y="467.07" width="10.75" height="9.47" fill="#3e26a8" stroke="none" stroke-width="1"/>
<rect x="1157.5" y="467.07" width="10.75" height="9.47" fill="#3e26a8" stroke="none" stroke-width="1"/>
<rect x="1168.2" y="467.07" width="10.75" height="9.47" fill="#3e26a8" stroke="none" stroke-width="1"/>
<rect x="1178.9" y="467.07" width="10.75" height="9.47" fill="#4852f4" stroke="none" stroke-width="1"/>
<rect x="1189.6" y="467.07" width="10.75" height="9.47" fill="#3e26a8" stroke="none" stroke-width="1"/>
<rect x="1200.3" y="467.07" width="10.75" height="9.47" fill="#3e26a8" stroke="none" stroke-width="1"/>
<rect x="1211" y="467.07" width="10.75" height="9.47" fill="#3e26a8" stroke="none" stroke-width="1"/>
<rect x="932.8" y="457.64" width="10.75" height="9.47" fill="#3e26a8" stroke="none" stroke-width="1"/>
<rect x="943.5" y="457.64" width="10.75" height="9.47" fill="#3e26a8" stroke="none" stroke-width="1"/>
<rect x="954.2" y="457.64" width="10.75" height="9.47" fill="#3e26a8" stroke="none" stroke-width="1"/>
<rect x="964.9" y="457.64" width="10.75" height="9.47" fill="#2e87f7" stroke="none" stroke-width="1"/>
<rect x="975.6" y="457.64" width="10.75" height="9.47" fill="#3e26a8" stroke="none" stroke-width="1"/>
<rect x="986.3" y="457.64" width="10.75" height="9.47" fill="#3e26a8" stroke="none" stroke-width="1"/>
<rect x="997" y="457.64" width="10.75" height="9.47" fill="#3e26a8" stroke="none" stroke-width="1"/>
<rect x="1007.7" y="457.64" width="10.75" height="9.47" fill="#4537d5" stroke="none" stroke-width="1"/>
<rect x="1018.4" y="457.64" width="10.75" height="9.47" fill="#3e26a8" stroke="none" stroke-width="1"/>
<rect x="1029.1" y="457.64" width="10.75" height="9.47" fill="#3e26a8" stroke="none" stroke-width="1"/>
<rect x="1039.8" y="457.64" width="10.75" height="9.47" fill="#3e26a8" stroke="none" stroke-width="1"/>
<rect x="1050.5" y="457.64" width="10.75" height="9.47" fill="#465efb" stroke="none" stroke-width="1"/>
<rect x="1061.2" y="457.64" width="10.75" height="9.47" fill="#3e26a8" stroke="none" stroke-width="1"/>
<rect x="1071.9" y="457.64" width="10.75" height="9.47" fill="#3e26a8" stroke="none" stroke-width="1"/>
<rect x="1082.6" y="457.64" width="10.75" height="9.47" fill="#3e26a8" stroke="none" stroke-width="1"/>
<rect x="1093.3" y="457.64" width="10.75" height="9.47" fill="#465efb" stroke="none" stroke-width="1"/>
<rect x="1104" y="457.64" width="10.75" height="9.47" fill="#3e26a8" stroke="none" stroke-width="1"/>
<rect x="1114.7" y="457.64" width="10.75" height="9.47" fill="#3e26a8" stroke="none" stroke-width="1"/>
<rect x="1125.4" y="457.64" width="10.75" height="9.47" fill="#3e26a8" stroke="none" stroke-width="1"/>
<rect x="1136.1" y="457.64" width="10.75" height="9.47" fill="#4537d5" stroke="none" stroke-width="1"/>
<rect x="1146.8" y="457.64" width="10.75" height="9.47" fill="#3e26a8" stroke="none" stroke-width="1"/>
<rect x="1157.5" y="457.64" width="10.75" height="9.47" fill="#3e26a8" stroke="none" stroke-width="1"/>
<rect x="1168.2" y="457.64" width="10.75" height="9.47" fill="#3e26a8" stroke="none" stroke-width="1"/>
<rect x="1178.9" y="457.64" width="10.75" height="9.47" fill="#2e87f7" stroke="none" stroke-width="1"/>
<rect x="1189.6" y="457.64" width="10.75" height="9.47" fill="#3e26a8" stroke="none" stroke-width="1"/>
<rect x="1200.3" y="457.64" width="10.75" height="9.47" fill="#3e26a8" stroke="none" stroke-width="1"/>
<rect x="1211" y="457.64" width="10.75" height="9.47" fill="#3e26a8" stroke="none" stroke-width="1"/>
<rect x="932.8" y="448.22" width="10.75" height="9.47" fill="#3e26a8" stroke="none" stroke-width="1"/>
<rect x="943.5" y="448.22" width="10.75" height="9.47" fill="#3e26a8" stroke="none" stroke-width="1"/>
<rect x="954.2" y="448.22" width="10.75" height="9.47" fill="#3e26a8" stroke="none" stroke-width="1"/>
<rect x="964.9" y="448.22" width="10.75" height="9.47" fill="#2e87f7" stroke="none" stroke-width="1"/>
<rect x="975.6" y="448.22" width="10.75" height="9.47" fill="#3e26a8" stroke="none" stroke-width="1"/>
<rect x="986.3" y="448.22" width="10.75" height="9.47" fill="#3e26a8" stroke="none" stroke-width="1"/>
<rect x="997" y="448.22" width="10.75" height="9.47" fill="#3e26a8" stroke="none" stroke-width="1"/>
<rect x="1007.7" y="448.22" width="10.75" height="9.47" fill="#4537d5" stroke="none" stroke-width="1"/>
<rect x="1018.4" y="448.22" width="10.75" height="9.47" fill="#3e26a8" stroke="none" stroke-width="1"/>
<rect x="1029.1" y="448.22" width="10.75" height="9.47" fill="#3e26a8" stroke="none" stroke-width="1"/>
<rect x="1039.8" y="448.22" width="10.75" height="9.47" fill="#3e26a8" stroke="none" stroke-width="1"/>
<rect x="1050.5" y="448.22" width="10.75" height="9.47" fill="#465efb" stroke="none" stroke-width="1"/>
<rect x="1061.2" y="448.22" width="10.75" height="9.47" fill="#3e26a8" stroke="none" stroke-width="1"/>
<rect x="1071.9" y="448.22" width="10.75" height="9.47" fill="#3e26a8" stroke="none" stroke-width="1"/>
<rect x="1082.6" y="448.22" width="10.75" height="9.47" fill="#3e26a8" stroke="none" stroke-width="1"/>
<rect x="1093.3" y="448.22" width="10.75" height="9.47" fill="#465efb" stroke="none" stroke-width="1"/>
<rect x="1104" y="448.22" width="10.75" height="9.47" fill="#3e26a8" stroke="none" stroke-width="1"/>
<rect x="1114.7" y="448.22" width="10.75" height="9.47" fill="#3e26a8" stroke="none" stroke-width="1"/>
<rect x="1125.4" y="448.22" width="10.75" height="9.47" fill="#3e26a8" stroke="none" stroke-width="1"/>
<rect x="1136.1" y="448.22" width="10.75" height="9.47" fill="#4537d5" stroke="none" stroke-width="1"/>
<rect x="1146.8" y="448.22" width="10.75" height="9.47" fill="#3e26a8" stroke="none" stroke-width="1"/>
<rect x="1157.5" y="448.22" width="10.75" height="9.47" fill="#3e26a8" stroke="none" stroke-width="1"/>
<rect x="1168.2" y="448.22" width="10.75" height="9.47" fill="#3e26a8" stroke="none" stroke-width="1"/>
<rect x="1178.9" y="448.22" width="10.75" height="9.47" fill="#2e87f7" stroke="none" stroke-width="1"/>
<rect x="1189.6" y="448.22" width="10.75" height="9.47" fill="#3e26a8" stroke="none" stroke-width="1"/>
<rect x="1200.3" y="448.22" width="10.75" height="9.47" fill="#3e26a8" stroke="none" stroke-width="1"/>
<rect x="1211" y="448.22" width="10.75" height="9.47" fill="#3e26a8" stroke="none" stroke-width="1"/>
<rect x="932.8" y="438.8" width="10.75" height="9.47" fill="#3e26a8" stroke="none" stroke-width="1"/>
<rect x="943.5" y="438.8" width="10.75" height="9.47" fill="#3e26a8" stroke="none" stroke-width="1"/>
<rect x="954.2" y="438.8" width="10.75" height="9.47" fill="#3e26a8" stroke="none" stroke-width="1"/>
<rect x="964.9" y="438.8" width="10.75" height="9.47" fill="#4852f4" stroke="none" stroke-width="1"/>
<rect x="975.6" y="438.8" width="10.75" height="9.47" fill="#3e26a8" stroke="none" stroke-width="1"/>
<rect x="986.3" y="438.8" width="10.75" height="9.47" fill="#3e26a8" stroke="none" stroke-width="1"/>
<rect x="997" y="438.8" width="10.75" height="9.47" fill="#3e26a8" stroke="none" stroke-width="1"/>
<rect x="1007.7" y="438.8" width="10.75" height="9.47" fill="#2e87f7" stroke="none" stroke-width="1"/>
<rect x="1018.4" y="438.8" width="10.75" height="9.47" fill="#3e26a8" stroke="none" stroke-width="1"/>
<rect x="1029.1" y="438.8" width="10.75" height="9.47" fill="#3e26a8" stroke="none" stroke-width="1"/>
<rect x="1039.8" y="438.8" width="10.75" height="9.47" fill="#3e26a8" stroke="none" stroke-width="1"/>
<rect x="1050.5" y="438.8" width="10.75" height="9.47" fill="#4537d5" stroke="none" stroke-width="1"/>
<rect x="1061.2" y="438.8" width="10.75" height="9.47" fill="#3e26a8" stroke="none" stroke-width="1"/>
<rect x="1071.9" y="438.8" width="10.75" height="9.47" fill="#3e26a8" stroke="none" stroke-width="1"/>
<rect x="1082.6" y="438.8" width="10.75" height="9.47" fill="#3e26a8" stroke="none" stroke-width="1"/>
<rect x="1093.3" y="438.8" width="10.75" height="9.47" fill="#4537d5" stroke="none" stroke-width="1"/>
<rect x="1104" y="438.8" width="10.75" height="9.47" fill="#3e26a8" stroke="none" stroke-width="1"/>
<rect x="1114.7" y="438.8" width="10.75" height="9.47" fill="#3e26a8" stroke="none" stroke-width="1"/>
<rect x="1125.4" y="438.8" width="10.75" height="9.47" fill="#3e26a8" stroke="none" stroke-width="1"/>
<rect x="1136.1" y="438.8" width="10.75" height="9.47" fill="#2e87f7" stroke="none" stroke-width="1"/>
<rect x="1146.8" y="438.8" width="10.75" height="9.47" fill="#3e26a8" stroke="none" stroke-width="1"/>
<rect x="1157.5" y="438.8" width="10.75" height="9.47" fill="#3e26a8" stroke="none" stroke-width="1"/>
<rect x="1168.2" y="438.8" width="10.75" height="9.47" fill="#3e26a8" stroke="none" stroke-width="1"/>
<rect x="1178.9" y="438.8" width="10.75" height="9.47" fill="#465efb" stroke="none" stroke-width="1"/>
<rect x="1189.6" y="438.8" width="10.75" height="9.47" fill="#3e26a8" stroke="none" stroke-width="1"/>
<rect x="1200.3" y="438.8" width="10.75" height="9.47" fill="#3e26a8" stroke="none" stroke-width="1"/>
<rect x="1211" y="438.8" width="10.75" height="9.47" fill="#3e26a8" stroke="none" stroke-width="1"/>
<path d="M932.8 438.8V693.2M932.8 438.8H1221.7M943.5 438.8V693.2M932.8 448.22H1221.7M954.2 438.8V693.2M932.8 457.64H1221.7M964.9 438.8V693.2M932.8 467.07H1221.7M975.6 438.8V693.2M932.8 476.49H1221.7M986.3 438.8V693.2M932.8 485.91H1221.7M997 438.8V693.2M932.8 495.33H1221.7M1007.7 438.8V693.2M932.8 504.76H1221.7M1018.4 438.8V693.2M932.8 514.18H1221.7M1029.1 438.8V693.2M932.8 523.6H1221.7M1039.8 438.8V693.2M932.8 533.02H1221.7M1050.5 438.8V693.2M932.8 542.44H1221.7M1061.2 438.8V693.2M932.8 551.87H1221.7M1071.9 438.8V693.2M932.8 561.29H1221.7M1082.6 438.8V693.2M932.8 570.71H1221.7M1093.3 438.8V693.2M932.8 580.13H1221.7M1104 438.8V693.2M932.8 589.56H1221.7M1114.7 438.8V693.2M932.8 598.98H1221.7M1125.4 438.8V693.2M932.8 608.4H1221.7M1136.1 438.8V693.2M932.8 617.82H1221.7M1146.8 438.8V693.2M932.8 627.24H1221.7M1157.5 438.8V693.2M932.8 636.67H1221.7M1168.2 438.8V693.2M932.8 646.09H1221.7M1178.9 438.8V693.2M932.8 655.51H1221.7M1189.6 438.8V693.2M932.8 664.93H1221.7M1200.3 438.8V693.2M932.8 674.36H1221.7M1211 438.8V693.2M932.8 683.78H1221.7M1221.7 438.8V693.2M932.8 693.2H1221.7" stroke="#000" stroke-width="1" stroke-opacity="0.75" fill="none"/>
<line x1="975.6" y1="693.2" x2="975.6" y2="699.2" stroke="#262626" stroke-width="1.4"/>
<line x1="975.6" y1="432.8" x2="975.6" y2="438.8" stroke="#262626" stroke-width="1.4"/>
<line x1="926.8" y1="655.51" x2="932.8" y2="655.51" stroke="#262626" stroke-width="1.4"/>
<line x1="1221.7" y1="655.51" x2="1227.7" y2="655.51" stroke="#262626" stroke-width="1.4"/>
<text x="968.66" y="731.55" font-family="'Liberation Sans',Arial,sans-serif" font-size="25" fill="#000">5</text>
<text x="907.23" y="664.61" font-family="'Liberation Sans',Arial,sans-serif" font-size="25" fill="#000">5</text>
<line x1="1029.1" y1="693.2" x2="1029.1" y2="699.2" stroke="#262626" stroke-width="1.4"/>
<line x1="1029.1" y1="432.8" x2="1029.1" y2="438.8" stroke="#262626" stroke-width="1.4"/>
<line x1="926.8" y1="608.4" x2="932.8" y2="608.4" stroke="#262626" stroke-width="1.4"/>
<line x1="1221.7" y1="608.4" x2="1227.7" y2="608.4" stroke="#262626" stroke-width="1.4"/>
<text x="1015.22" y="731.8" font-family="'Liberation Sans',Arial,sans-serif" font-size="25" fill="#000">10</text>
<text x="893.35" y="617.63" font-family="'Liberation Sans',Arial,sans-serif" font-size="25" fill="#000">10</text>
<line x1="1082.6" y1="693.2" x2="1082.6" y2="699.2" stroke="#262626" stroke-width="1.4"/>
<line x1="1082.6" y1="432.8" x2="1082.6" y2="438.8" stroke="#262626" stroke-width="1.4"/>
<line x1="926.8" y1="561.29" x2="932.8" y2="561.29" stroke="#262626" stroke-width="1.4"/>
<line x1="1221.7" y1="561.29" x2="1227.7" y2="561.29" stroke="#262626" stroke-width="1.4"/>
<text x="1068.72" y="731.55" font-family="'Liberation Sans',Arial,sans-serif" font-size="25" fill="#000">15</text>
<text x="893.35" y="570.39" font-family="'Liberation Sans',Arial,sans-serif" font-size="25" fill="#000">15</text>
<line x1="1136.1" y1="693.2" x2="1136.1" y2="699.2" stroke="#262626" stroke-width="1.4"/>
<line x1="1136.1" y1="432.8" x2="1136.1" y2="438.8" stroke="#262626" stroke-width="1.4"/>
<line x1="926.8" y1="514.18" x2="932.8" y2="514.18" stroke="#262626" stroke-width="1.4"/>
<line x1="1221.7" y1="514.18" x2="1227.7" y2="514.18" stroke="#262626" stroke-width="1.4"/>
<text x="1122.22" y="731.8" font-family="'Liberation Sans',Arial,sans-serif" font-size="25" fill="#000">20</text>
<text x="893.35" y="523.4" font-family="'Liberation Sans',Arial,sans-serif" font-size="25" fill="#000">20</text>
<line x1="1189.6" y1="693.2" x2="1189.6" y2="699.2" stroke="#262626" stroke-width="1.4"/>
<line x1="1189.6" y1="432.8" x2="1189.6" y2="438.8" stroke="#262626" stroke-width="1.4"/>
<line x1="926.8" y1="467.07" x2="932.8" y2="467.07" stroke="#262626" stroke-width="1.4"/>
<line x1="1221.7" y1="467.07" x2="1227.7" y2="467.07" stroke="#262626" stroke-width="1.4"/>
<text x="1175.72" y="731.8" font-family="'Liberation Sans',Arial,sans-serif" font-size="25" fill="#000">25</text>
<text x="893.35" y="476.29" font-family="'Liberation Sans',Arial,sans-serif" font-size="25" fill="#000">25</text>
<defs><linearGradient id="cbg" x1="0" y1="1" x2="0" y2="0"><stop offset="0" stop-color="#3e26a8"/><stop offset="0.02" stop-color="#402ab4"/><stop offset="0.03" stop-color="#422ec0"/><stop offset="0.05" stop-color="#4332cb"/><stop offset="0.06" stop-color="#4537d5"/><stop offset="0.08" stop-color="#463cde"/><stop offset="0.1" stop-color="#4741e5"/><stop offset="0.11" stop-color="#4747eb"/><stop offset="0.13" stop-color="#484df0"/><stop offset="0.14" stop-color="#4852f4"/><stop offset="0.16" stop-color="#4758f8"/><stop offset="0.17" stop-color="#465efb"/><stop offset="0.19" stop-color="#4563fd"/><stop offset="0.21" stop-color="#4269fe"/><stop offset="0.22" stop-color="#3e6fff"/><stop offset="0.24" stop-color="#3875fe"/><stop offset="0.25" stop-color="#327cfc"/><stop offset="0.27" stop-color="#2f81fa"/><stop offset="0.29" stop-color="#2e87f7"/><stop offset="0.3" stop-color="#2d8cf3"/><stop offset="0.32" stop-color="#2b91ef"/><stop offset="0.33" stop-color="#2797eb"/><stop offset="0.35" stop-color="#259be8"/><stop offset="0.37" stop-color="#23a0e5"/><stop offset="0.38" stop-color="#20a5e3"/><stop offset="0.4" stop-color="#1ca9df"/><stop offset="0.41" stop-color="#18addb"/><stop offset="0.43" stop-color="#12b1d6"/><stop offset="0.44" stop-color="#08b5d0"/><stop offset="0.46" stop-color="#01b8ca"/><stop offset="0.48" stop-color="#02bac3"/><stop offset="0.49" stop-color="#0bbdbd"/><stop offset="0.51" stop-color="#19bfb6"/><stop offset="0.52" stop-color="#24c1ae"/><stop offset="0.54" stop-color="#2cc4a7"/><stop offset="0.56" stop-color="#31c69f"/><stop offset="0.57" stop-color="#37c897"/><stop offset="0.59" stop-color="#3fca8e"/><stop offset="0.6" stop-color="#4acb84"/><stop offset="0.62" stop-color="#57cc7a"/><stop offset="0.63" stop-color="#64cd6f"/><stop offset="0.65" stop-color="#72cd64"/><stop offset="0.67" stop-color="#81cc59"/><stop offset="0.68" stop-color="#8fcb4e"/><stop offset="0.7" stop-color="#9dc943"/><stop offset="0.71" stop-color="#abc739"/><stop offset="0.73" stop-color="#b9c431"/><stop offset="0.75" stop-color="#c5c22a"/><stop offset="0.76" stop-color="#d1bf27"/><stop offset="0.78" stop-color="#dcbd29"/><stop offset="0.79" stop-color="#e6bb2d"/><stop offset="0.81" stop-color="#f0ba36"/><stop offset="0.83" stop-color="#f8ba3d"/><stop offset="0.84" stop-color="#febe3c"/><stop offset="0.86" stop-color="#fec338"/><stop offset="0.87" stop-color="#fec934"/><stop offset="0.89" stop-color="#fccf30"/><stop offset="0.9" stop-color="#fad62d"/><stop offset="0.92" stop-color="#f7dc2a"/><stop offset="0.94" stop-color="#f5e327"/><stop offset="0.95" stop-color="#f5e924"/><stop offset="0.97" stop-color="#f6ef20"/><stop offset="0.98" stop-color="#f7f51b"/><stop offset="1" stop-color="#f9fb15"/></linearGradient></defs>
<rect x="1229.7" y="438.8" width="11.9" height="253.7" fill="url(#cbg)" stroke="none" stroke-width="1"/>
<rect x="1229.7" y="438.8" width="11.9" height="253.7" fill="none" stroke="#262626" stroke-width="1"/>
<line x1="1238.6" y1="487.4" x2="1241.6" y2="487.4" stroke="#262626" stroke-width="1"/>
<text x="1247.7" y="496.01" font-family="'Liberation Sans',Arial,sans-serif" font-size="22.8" fill="#000">0.8</text>
<line x1="1238.6" y1="538.9" x2="1241.6" y2="538.9" stroke="#262626" stroke-width="1"/>
<text x="1247.7" y="547.51" font-family="'Liberation Sans',Arial,sans-serif" font-size="22.8" fill="#000">0.6</text>
<line x1="1238.6" y1="590.4" x2="1241.6" y2="590.4" stroke="#262626" stroke-width="1"/>
<text x="1247.7" y="599.01" font-family="'Liberation Sans',Arial,sans-serif" font-size="22.8" fill="#000">0.4</text>
<line x1="1238.6" y1="641.9" x2="1241.6" y2="641.9" stroke="#262626" stroke-width="1"/>
<text x="1247.7" y="650.51" font-family="'Liberation Sans',Arial,sans-serif" font-size="22.8" fill="#000">0.2</text>
<text transform="translate(1075.15 760.64) scale(1.0800 1)" font-family="'Liberation Serif','Times New Roman',serif" font-size="26.63" font-style="italic" fill="#000">j</text>
<text transform="translate(881.25 627.11) rotate(-90) scale(1.1346 1)" font-family="'Liberation Serif','Times New Roman',serif" font-size="25.5" fill="#000">index of</text>
<text transform="translate(880.13 523.25) rotate(-90) scale(0.9317 1)" font-family="'Liberation Serif','Times New Roman',serif" font-size="29.49" font-style="italic" fill="#000">ψ</text>
<text transform="translate(869.31 515.12) rotate(-90) scale(1.2740 1)" font-family="'Liberation Serif','Times New Roman',serif" font-size="19.61" fill="#000">˜</text>
<text transform="translate(1216 421.45) scale(1.2033 1)" font-family="'Liberation Serif','Times New Roman',serif" font-size="26.59" fill="#000">|</text>
<text transform="translate(1221.73 420.25) scale(0.9649 1)" font-family="'Liberation Serif','Times New Roman',serif" font-size="27.04" font-style="italic" fill="#000">ψ</text>
<text transform="translate(1229.68 411.31) scale(1.2740 1)" font-family="'Liberation Serif','Times New Roman',serif" font-size="19.61" fill="#000">˜</text>
<text transform="translate(1239.64 421.45) scale(1.3000 1)" font-family="'Liberation Serif','Times New Roman',serif" font-size="26.59" fill="#000">|</text>
<text transform="translate(1245.99 410.9) scale(1.0909 1)" font-family="'Liberation Serif','Times New Roman',serif" font-size="16.91" fill="#000">2</text>
<rect x="1360.9" y="682.76" width="10.56" height="9.59" fill="#3e26a8" stroke="none" stroke-width="1"/>
<rect x="1371.41" y="682.76" width="10.56" height="9.59" fill="#3e26a8" stroke="none" stroke-width="1"/>
<rect x="1381.91" y="682.76" width="10.56" height="9.59" fill="#3e26a8" stroke="none" stroke-width="1"/>
<rect x="1392.42" y="682.76" width="10.56" height="9.59" fill="#3e26a8" stroke="none" stroke-width="1"/>
<rect x="1402.93" y="682.76" width="10.56" height="9.59" fill="#3e26a8" stroke="none" stroke-width="1"/>
<rect x="1413.44" y="682.76" width="10.56" height="9.59" fill="#3e26a8" stroke="none" stroke-width="1"/>
<rect x="1423.94" y="682.76" width="10.56" height="9.59" fill="#3e26a8" stroke="none" stroke-width="1"/>
<rect x="1434.45" y="682.76" width="10.56" height="9.59" fill="#3e26a8" stroke="none" stroke-width="1"/>
<rect x="1444.96" y="682.76" width="10.56" height="9.59" fill="#3e26a8" stroke="none" stroke-width="1"/>
<rect x="1455.47" y="682.76" width="10.56" height="9.59" fill="#3e26a8" stroke="none" stroke-width="1"/>
<rect x="1465.97" y="682.76" width="10.56" height="9.59" fill="#3e26a8" stroke="none" stroke-width="1"/>
<rect x="1476.48" y="682.76" width="10.56" height="9.59" fill="#3e26a8" stroke="none" stroke-width="1"/>
<rect x="1486.99" y="682.76" width="10.56" height="9.59" fill="#3e26a8" stroke="none" stroke-width="1"/>
<rect x="1497.5" y="682.76" width="10.56" height="9.59" fill="#3e26a8" stroke="none" stroke-width="1"/>
<rect x="1508" y="682.76" width="10.56" height="9.59" fill="#3e26a8" stroke="none" stroke-width="1"/>
<rect x="1518.51" y="682.76" width="10.56" height="9.59" fill="#3e26a8" stroke="none" stroke-width="1"/>
<rect x="1529.02" y="682.76" width="10.56" height="9.59" fill="#3e26a8" stroke="none" stroke-width="1"/>
<rect x="1539.53" y="682.76" width="10.56" height="9.59" fill="#3e26a8" stroke="none" stroke-width="1"/>
<rect x="1550.03" y="682.76" width="10.56" height="9.59" fill="#3e26a8" stroke="none" stroke-width="1"/>
<rect x="1560.54" y="682.76" width="10.56" height="9.59" fill="#3e26a8" stroke="none" stroke-width="1"/>
<rect x="1571.05" y="682.76" width="10.56" height="9.59" fill="#3e26a8" stroke="none" stroke-width="1"/>
<rect x="1581.56" y="682.76" width="10.56" height="9.59" fill="#f9fb15" stroke="none" stroke-width="1"/>
<rect x="1592.06" y="682.76" width="10.56" height="9.59" fill="#3e26a8" stroke="none" stroke-width="1"/>
<rect x="1602.57" y="682.76" width="10.56" height="9.59" fill="#3e26a8" stroke="none" stroke-width="1"/>
<rect x="1613.08" y="682.76" width="10.56" height="9.59" fill="#3e26a8" stroke="none" stroke-width="1"/>
<rect x="1623.59" y="682.76" width="10.56" height="9.59" fill="#3e26a8" stroke="none" stroke-width="1"/>
<rect x="1634.09" y="682.76" width="10.56" height="9.59" fill="#3e26a8" stroke="none" stroke-width="1"/>
<rect x="1360.9" y="673.21" width="10.56" height="9.59" fill="#3e26a8" stroke="none" stroke-width="1"/>
<rect x="1371.41" y="673.21" width="10.56" height="9.59" fill="#3e26a8" stroke="none" stroke-width="1"/>
<rect x="1381.91" y="673.21" width="10.56" height="9.59" fill="#3e26a8" stroke="none" stroke-width="1"/>
<rect x="1392.42" y="673.21" width="10.56" height="9.59" fill="#3e26a8" stroke="none" stroke-width="1"/>
<rect x="1402.93" y="673.21" width="10.56" height="9.59" fill="#3e26a8" stroke="none" stroke-width="1"/>
<rect x="1413.44" y="673.21" width="10.56" height="9.59" fill="#3e26a8" stroke="none" stroke-width="1"/>
<rect x="1423.94" y="673.21" width="10.56" height="9.59" fill="#3e26a8" stroke="none" stroke-width="1"/>
<rect x="1434.45" y="673.21" width="10.56" height="9.59" fill="#3e26a8" stroke="none" stroke-width="1"/>
<rect x="1444.96" y="673.21" width="10.56" height="9.59" fill="#3e26a8" stroke="none" stroke-width="1"/>
<rect x="1455.47" y="673.21" width="10.56" height="9.59" fill="#3e26a8" stroke="none" stroke-width="1"/>
<rect x="1465.97" y="673.21" width="10.56" height="9.59" fill="#3e26a8" stroke="none" stroke-width="1"/>
<rect x="1476.48" y="673.21" width="10.56" height="9.59" fill="#3e26a8" stroke="none" stroke-width="1"/>
<rect x="1486.99" y="673.21" width="10.56" height="9.59" fill="#3e26a8" stroke="none" stroke-width="1"/>
<rect x="1497.5" y="673.21" width="10.56" height="9.59" fill="#f9fb15" stroke="none" stroke-width="1"/>
<rect x="1508" y="673.21" width="10.56" height="9.59" fill="#3e26a8" stroke="none" stroke-width="1"/>
<rect x="1518.51" y="673.21" width="10.56" height="9.59" fill="#3e26a8" stroke="none" stroke-width="1"/>
<rect x="1529.02" y="673.21" width="10.56" height="9.59" fill="#3e26a8" stroke="none" stroke-width="1"/>
<rect x="1539.53" y="673.21" width="10.56" height="9.59" fill="#3e26a8" stroke="none" stroke-width="1"/>
<rect x="1550.03" y="673.21" width="10.56" height="9.59" fill="#3e26a8" stroke="none" stroke-width="1"/>
<rect x="1560.54" y="673.21" width="10.56" height="9.59" fill="#3e26a8" stroke="none" stroke-width="1"/>
<rect x="1571.05" y="673.21" width="10.56" height="9.59" fill="#3e26a8" stroke="none" stroke-width="1"/>
<rect x="1581.56" y="673.21" width="10.56" height="9.59" fill="#3e26a8" stroke="none" stroke-width="1"/>
<rect x="1592.06" y="673.21" width="10.56" height="9.59" fill="#3e26a8" stroke="none" stroke-width="1"/>
<rect x="1602.57" y="673.21" width="10.56" height="9.59" fill="#3e26a8" stroke="none" stroke-width="1"/>
<rect x="1613.08" y="673.21" width="10.56" height="9.59" fill="#3e26a8" stroke="none" stroke-width="1"/>
<rect x="1623.59" y="673.21" width="10.56" height="9.59" fill="#3e26a8" stroke="none" stroke-width="1"/>
<rect x="1634.09" y="673.21" width="10.56" height="9.59" fill="#3e26a8" stroke="none" stroke-width="1"/>
<rect x="1360.9" y="663.67" width="10.56" height="9.59" fill="#3e26a8" stroke="none" stroke-width="1"/>
<rect x="1371.41" y="663.67" width="10.56" height="9.59" fill="#3e26a8" stroke="none" stroke-width="1"/>
<rect x="1381.91" y="663.67" width="10.56" height="9.59" fill="#3e26a8" stroke="none" stroke-width="1"/>
<rect x="1392.42" y="663.67" width="10.56" height="9.59" fill="#3e26a8" stroke="none" stroke-width="1"/>
<rect x="1402.93" y="663.67" width="10.56" height="9.59" fill="#3e26a8" stroke="none" stroke-width="1"/>
<rect x="1413.44" y="663.67" width="10.56" height="9.59" fill="#f9fb15" stroke="none" stroke-width="1"/>
<rect x="1423.94" y="663.67" width="10.56" height="9.59" fill="#3e26a8" stroke="none" stroke-width="1"/>
<rect x="1434.45" y="663.67" width="10.56" height="9.59" fill="#3e26a8" stroke="none" stroke-width="1"/>
<rect x="1444.96" y="663.67" width="10.56" height="9.59" fill="#3e26a8" stroke="none" stroke-width="1"/>
<rect x="1455.47" y="663.67" width="10.56" height="9.59" fill="#3e26a8" stroke="none" stroke-width="1"/>
<rect x="1465.97" y="663.67" width="10.56" height="9.59" fill="#3e26a8" stroke="none" stroke-width="1"/>
<rect x="1476.48" y="663.67" width="10.56" height="9.59" fill="#3e26a8" stroke="none" stroke-width="1"/>
<rect x="1486.99" y="663.67" width="10.56" height="9.59" fill="#3e26a8" stroke="none" stroke-width="1"/>
<rect x="1497.5" y="663.67" width="10.56" height="9.59" fill="#3e26a8" stroke="none" stroke-width="1"/>
<rect x="1508" y="663.67" width="10.56" height="9.59" fill="#3e26a8" stroke="none" stroke-width="1"/>
<rect x="1518.51" y="663.67" width="10.56" height="9.59" fill="#3e26a8" stroke="none" stroke-width="1"/>
<rect x="1529.02" y="663.67" width="10.56" height="9.59" fill="#3e26a8" stroke="none" stroke-width="1"/>
<rect x="1539.53" y="663.67" width="10.56" height="9.59" fill="#3e26a8" stroke="none" stroke-width="1"/>
<rect x="1550.03" y="663.67" width="10.56" height="9.59" fill="#3e26a8" stroke="none" stroke-width="1"/>
<rect x="1560.54" y="663.67" width="10.56" height="9.59" fill="#3e26a8" stroke="none" stroke-width="1"/>
<rect x="1571.05" y="663.67" width="10.56" height="9.59" fill="#3e26a8" stroke="none" stroke-width="1"/>
<rect x="1581.56" y="663.67" width="10.56" height="9.59" fill="#3e26a8" stroke="none" stroke-width="1"/>
<rect x="1592.06" y="663.67" width="10.56" height="9.59" fill="#3e26a8" stroke="none" stroke-width="1"/>
<rect x="1602.57" y="663.67" width="10.56" height="9.59" fill="#3e26a8" stroke="none" stroke-width="1"/>
<rect x="1613.08" y="663.67" width="10.56" height="9.59" fill="#3e26a8" stroke="none" stroke-width="1"/>
<rect x="1623.59" y="663.67" width="10.56" height="9.59" fill="#3e26a8" stroke="none" stroke-width="1"/>
<rect x="1634.09" y="663.67" width="10.56" height="9.59" fill="#3e26a8" stroke="none" stroke-width="1"/>
<rect x="1360.9" y="654.12" width="10.56" height="9.59" fill="#3e26a8" stroke="none" stroke-width="1"/>
<rect x="1371.41" y="654.12" width="10.56" height="9.59" fill="#f9fb15" stroke="none" stroke-width="1"/>
<rect x="1381.91" y="654.12" width="10.56" height="9.59" fill="#3e26a8" stroke="none" stroke-width="1"/>
<rect x="1392.42" y="654.12" width="10.56" height="9.59" fill="#3e26a8" stroke="none" stroke-width="1"/>
<rect x="1402.93" y="654.12" width="10.56" height="9.59" fill="#3e26a8" stroke="none" stroke-width="1"/>
<rect x="1413.44" y="654.12" width="10.56" height="9.59" fill="#3e26a8" stroke="none" stroke-width="1"/>
<rect x="1423.94" y="654.12" width="10.56" height="9.59" fill="#3e26a8" stroke="none" stroke-width="1"/>
<rect x="1434.45" y="654.12" width="10.56" height="9.59" fill="#3e26a8" stroke="none" stroke-width="1"/>
<rect x="1444.96" y="654.12" width="10.56" height="9.59" fill="#3e26a8" stroke="none" stroke-width="1"/>
<rect x="1455.47" y="654.12" width="10.56" height="9.59" fill="#3e26a8" stroke="none" stroke-width="1"/>
<rect x="1465.97" y="654.12" width="10.56" height="9.59" fill="#3e26a8" stroke="none" stroke-width="1"/>
<rect x="1476.48" y="654.12" width="10.56" height="9.59" fill="#3e26a8" stroke="none" stroke-width="1"/>
<rect x="1486.99" y="654.12" width="10.56" height="9.59" fill="#3e26a8" stroke="none" stroke-width="1"/>
<rect x="1497.5" y="654.12" width="10.56" height="9.59" fill="#3e26a8" stroke="none" stroke-width="1"/>
<rect x="1508" y="654.12" width="10.56" height="9.59" fill="#3e26a8" stroke="none" stroke-width="1"/>
<rect x="1518.51" y="654.12" width="10.56" height="9.59" fill="#3e26a8" stroke="none" stroke-width="1"/>
<rect x="1529.02" y="654.12" width="10.56" height="9.59" fill="#3e26a8" stroke="none" stroke-width="1"/>
<rect x="1539.53" y="654.12" width="10.56" height="9.59" fill="#3e26a8" stroke="none" stroke-width="1"/>
<rect x="1550.03" y="654.12" width="10.56" height="9.59" fill="#3e26a8" stroke="none" stroke-width="1"/>
<rect x="1560.54" y="654.12" width="10.56" height="9.59" fill="#3e26a8" stroke="none" stroke-width="1"/>
<rect x="1571.05" y="654.12" width="10.56" height="9.59" fill="#3e26a8" stroke="none" stroke-width="1"/>
<rect x="1581.56" y="654.12" width="10.56" height="9.59" fill="#3e26a8" stroke="none" stroke-width="1"/>
<rect x="1592.06" y="654.12" width="10.56" height="9.59" fill="#3e26a8" stroke="none" stroke-width="1"/>
<rect x="1602.57" y="654.12" width="10.56" height="9.59" fill="#3e26a8" stroke="none" stroke-width="1"/>
<rect x="1613.08" y="654.12" width="10.56" height="9.59" fill="#3e26a8" stroke="none" stroke-width="1"/>
<rect x="1623.59" y="654.12" width="10.56" height="9.59" fill="#3e26a8" stroke="none" stroke-width="1"/>
<rect x="1634.09" y="654.12" width="10.56" height="9.59" fill="#3e26a8" stroke="none" stroke-width="1"/>
<rect x="1360.9" y="644.58" width="10.56" height="9.59" fill="#3e26a8" stroke="none" stroke-width="1"/>
<rect x="1371.41" y="644.58" width="10.56" height="9.59" fill="#3e26a8" stroke="none" stroke-width="1"/>
<rect x="1381.91" y="644.58" width="10.56" height="9.59" fill="#3e26a8" stroke="none" stroke-width="1"/>
<rect x="1392.42" y="644.58" width="10.56" height="9.59" fill="#3e26a8" stroke="none" stroke-width="1"/>
<rect x="1402.93" y="644.58" width="10.56" height="9.59" fill="#3e26a8" stroke="none" stroke-width="1"/>
<rect x="1413.44" y="644.58" width="10.56" height="9.59" fill="#3e26a8" stroke="none" stroke-width="1"/>
<rect x="1423.94" y="644.58" width="10.56" height="9.59" fill="#3e26a8" stroke="none" stroke-width="1"/>
<rect x="1434.45" y="644.58" width="10.56" height="9.59" fill="#3e26a8" stroke="none" stroke-width="1"/>
<rect x="1444.96" y="644.58" width="10.56" height="9.59" fill="#3e26a8" stroke="none" stroke-width="1"/>
<rect x="1455.47" y="644.58" width="10.56" height="9.59" fill="#f9fb15" stroke="none" stroke-width="1"/>
<rect x="1465.97" y="644.58" width="10.56" height="9.59" fill="#3e26a8" stroke="none" stroke-width="1"/>
<rect x="1476.48" y="644.58" width="10.56" height="9.59" fill="#3e26a8" stroke="none" stroke-width="1"/>
<rect x="1486.99" y="644.58" width="10.56" height="9.59" fill="#3e26a8" stroke="none" stroke-width="1"/>
<rect x="1497.5" y="644.58" width="10.56" height="9.59" fill="#3e26a8" stroke="none" stroke-width="1"/>
<rect x="1508" y="644.58" width="10.56" height="9.59" fill="#3e26a8" stroke="none" stroke-width="1"/>
<rect x="1518.51" y="644.58" width="10.56" height="9.59" fill="#3e26a8" stroke="none" stroke-width="1"/>
<rect x="1529.02" y="644.58" width="10.56" height="9.59" fill="#3e26a8" stroke="none" stroke-width="1"/>
<rect x="1539.53" y="644.58" width="10.56" height="9.59" fill="#3e26a8" stroke="none" stroke-width="1"/>
<rect x="1550.03" y="644.58" width="10.56" height="9.59" fill="#3e26a8" stroke="none" stroke-width="1"/>
<rect x="1560.54" y="644.58" width="10.56" height="9.59" fill="#3e26a8" stroke="none" stroke-width="1"/>
<rect x="1571.05" y="644.58" width="10.56" height="9.59" fill="#3e26a8" stroke="none" stroke-width="1"/>
<rect x="1581.56" y="644.58" width="10.56" height="9.59" fill="#3e26a8" stroke="none" stroke-width="1"/>
<rect x="1592.06" y="644.58" width="10.56" height="9.59" fill="#3e26a8" stroke="none" stroke-width="1"/>
<rect x="1602.57" y="644.58" width="10.56" height="9.59" fill="#3e26a8" stroke="none" stroke-width="1"/>
<rect x="1613.08" y="644.58" width="10.56" height="9.59" fill="#3e26a8" stroke="none" stroke-width="1"/>
<rect x="1623.59" y="644.58" width="10.56" height="9.59" fill="#3e26a8" stroke="none" stroke-width="1"/>
<rect x="1634.09" y="644.58" width="10.56" height="9.59" fill="#3e26a8" stroke="none" stroke-width="1"/>
<rect x="1360.9" y="635.03" width="10.56" height="9.59" fill="#3e26a8" stroke="none" stroke-width="1"/>
<rect x="1371.41" y="635.03" width="10.56" height="9.59" fill="#3e26a8" stroke="none" stroke-width="1"/>
<rect x="1381.91" y="635.03" width="10.56" height="9.59" fill="#3e26a8" stroke="none" stroke-width="1"/>
<rect x="1392.42" y="635.03" width="10.56" height="9.59" fill="#3e26a8" stroke="none" stroke-width="1"/>
<rect x="1402.93" y="635.03" width="10.56" height="9.59" fill="#3e26a8" stroke="none" stroke-width="1"/>
<rect x="1413.44" y="635.03" width="10.56" height="9.59" fill="#3e26a8" stroke="none" stroke-width="1"/>
<rect x="1423.94" y="635.03" width="10.56" height="9.59" fill="#3e26a8" stroke="none" stroke-width="1"/>
<rect x="1434.45" y="635.03" width="10.56" height="9.59" fill="#3e26a8" stroke="none" stroke-width="1"/>
<rect x="1444.96" y="635.03" width="10.56" height="9.59" fill="#3e26a8" stroke="none" stroke-width="1"/>
<rect x="1455.47" y="635.03" width="10.56" height="9.59" fill="#3e26a8" stroke="none" stroke-width="1"/>
<rect x="1465.97" y="635.03" width="10.56" height="9.59" fill="#3e26a8" stroke="none" stroke-width="1"/>
<rect x="1476.48" y="635.03" width="10.56" height="9.59" fill="#3e26a8" stroke="none" stroke-width="1"/>
<rect x="1486.99" y="635.03" width="10.56" height="9.59" fill="#3e26a8" stroke="none" stroke-width="1"/>
<rect x="1497.5" y="635.03" width="10.56" height="9.59" fill="#3e26a8" stroke="none" stroke-width="1"/>
<rect x="1508" y="635.03" width="10.56" height="9.59" fill="#3e26a8" stroke="none" stroke-width="1"/>
<rect x="1518.51" y="635.03" width="10.56" height="9.59" fill="#3e26a8" stroke="none" stroke-width="1"/>
<rect x="1529.02" y="635.03" width="10.56" height="9.59" fill="#3e26a8" stroke="none" stroke-width="1"/>
<rect x="1539.53" y="635.03" width="10.56" height="9.59" fill="#f9fb15" stroke="none" stroke-width="1"/>
<rect x="1550.03" y="635.03" width="10.56" height="9.59" fill="#3e26a8" stroke="none" stroke-width="1"/>
<rect x="1560.54" y="635.03" width="10.56" height="9.59" fill="#3e26a8" stroke="none" stroke-width="1"/>
<rect x="1571.05" y="635.03" width="10.56" height="9.59" fill="#3e26a8" stroke="none" stroke-width="1"/>
<rect x="1581.56" y="635.03" width="10.56" height="9.59" fill="#3e26a8" stroke="none" stroke-width="1"/>
<rect x="1592.06" y="635.03" width="10.56" height="9.59" fill="#3e26a8" stroke="none" stroke-width="1"/>
<rect x="1602.57" y="635.03" width="10.56" height="9.59" fill="#3e26a8" stroke="none" stroke-width="1"/>
<rect x="1613.08" y="635.03" width="10.56" height="9.59" fill="#3e26a8" stroke="none" stroke-width="1"/>
<rect x="1623.59" y="635.03" width="10.56" height="9.59" fill="#3e26a8" stroke="none" stroke-width="1"/>
<rect x="1634.09" y="635.03" width="10.56" height="9.59" fill="#3e26a8" stroke="none" stroke-width="1"/>
<rect x="1360.9" y="625.49" width="10.56" height="9.59" fill="#3e26a8" stroke="none" stroke-width="1"/>
<rect x="1371.41" y="625.49" width="10.56" height="9.59" fill="#3e26a8" stroke="none" stroke-width="1"/>
<rect x="1381.91" y="625.49" width="10.56" height="9.59" fill="#3e26a8" stroke="none" stroke-width="1"/>
<rect x="1392.42" y="625.49" width="10.56" height="9.59" fill="#3e26a8" stroke="none" stroke-width="1"/>
<rect x="1402.93" y="625.49" width="10.56" height="9.59" fill="#3e26a8" stroke="none" stroke-width="1"/>
<rect x="1413.44" y="625.49" width="10.56" height="9.59" fill="#3e26a8" stroke="none" stroke-width="1"/>
<rect x="1423.94" y="625.49" width="10.56" height="9.59" fill="#3e26a8" stroke="none" stroke-width="1"/>
<rect x="1434.45" y="625.49" width="10.56" height="9.59" fill="#3e26a8" stroke="none" stroke-width="1"/>
<rect x="1444.96" y="625.49" width="10.56" height="9.59" fill="#3e26a8" stroke="none" stroke-width="1"/>
<rect x="1455.47" y="625.49" width="10.56" height="9.59" fill="#3e26a8" stroke="none" stroke-width="1"/>
<rect x="1465.97" y="625.49" width="10.56" height="9.59" fill="#3e26a8" stroke="none" stroke-width="1"/>
<rect x="1476.48" y="625.49" width="10.56" height="9.59" fill="#3e26a8" stroke="none" stroke-width="1"/>
<rect x="1486.99" y="625.49" width="10.56" height="9.59" fill="#3e26a8" stroke="none" stroke-width="1"/>
<rect x="1497.5" y="625.49" width="10.56" height="9.59" fill="#3e26a8" stroke="none" stroke-width="1"/>
<rect x="1508" y="625.49" width="10.56" height="9.59" fill="#3e26a8" stroke="none" stroke-width="1"/>
<rect x="1518.51" y="625.49" width="10.56" height="9.59" fill="#3e26a8" stroke="none" stroke-width="1"/>
<rect x="1529.02" y="625.49" width="10.56" height="9.59" fill="#3e26a8" stroke="none" stroke-width="1"/>
<rect x="1539.53" y="625.49" width="10.56" height="9.59" fill="#3e26a8" stroke="none" stroke-width="1"/>
<rect x="1550.03" y="625.49" width="10.56" height="9.59" fill="#3e26a8" stroke="none" stroke-width="1"/>
<rect x="1560.54" y="625.49" width="10.56" height="9.59" fill="#3e26a8" stroke="none" stroke-width="1"/>
<rect x="1571.05" y="625.49" width="10.56" height="9.59" fill="#3e26a8" stroke="none" stroke-width="1"/>
<rect x="1581.56" y="625.49" width="10.56" height="9.59" fill="#3e26a8" stroke="none" stroke-width="1"/>
<rect x="1592.06" y="625.49" width="10.56" height="9.59" fill="#3e26a8" stroke="none" stroke-width="1"/>
<rect x="1602.57" y="625.49" width="10.56" height="9.59" fill="#3e26a8" stroke="none" stroke-width="1"/>
<rect x="1613.08" y="625.49" width="10.56" height="9.59" fill="#3e26a8" stroke="none" stroke-width="1"/>
<rect x="1623.59" y="625.49" width="10.56" height="9.59" fill="#f9fb15" stroke="none" stroke-width="1"/>
<rect x="1634.09" y="625.49" width="10.56" height="9.59" fill="#3e26a8" stroke="none" stroke-width="1"/>
<rect x="1360.9" y="615.94" width="10.56" height="9.59" fill="#3e26a8" stroke="none" stroke-width="1"/>
<rect x="1371.41" y="615.94" width="10.56" height="9.59" fill="#3e26a8" stroke="none" stroke-width="1"/>
<rect x="1381.91" y="615.94" width="10.56" height="9.59" fill="#3e26a8" stroke="none" stroke-width="1"/>
<rect x="1392.42" y="615.94" width="10.56" height="9.59" fill="#3e26a8" stroke="none" stroke-width="1"/>
<rect x="1402.93" y="615.94" width="10.56" height="9.59" fill="#3e26a8" stroke="none" stroke-width="1"/>
<rect x="1413.44" y="615.94" width="10.56" height="9.59" fill="#3e26a8" stroke="none" stroke-width="1"/>
<rect x="1423.94" y="615.94" width="10.56" height="9.59" fill="#3e26a8" stroke="none" stroke-width="1"/>
<rect x="1434.45" y="615.94" width="10.56" height="9.59" fill="#3e26a8" stroke="none" stroke-width="1"/>
<rect x="1444.96" y="615.94" width="10.56" height="9.59" fill="#3e26a8" stroke="none" stroke-width="1"/>
<rect x="1455.47" y="615.94" width="10.56" height="9.59" fill="#3e26a8" stroke="none" stroke-width="1"/>
<rect x="1465.97" y="615.94" width="10.56" height="9.59" fill="#3e26a8" stroke="none" stroke-width="1"/>
<rect x="1476.48" y="615.94" width="10.56" height="9.59" fill="#3e26a8" stroke="none" stroke-width="1"/>
<rect x="1486.99" y="615.94" width="10.56" height="9.59" fill="#3e26a8" stroke="none" stroke-width="1"/>
<rect x="1497.5" y="615.94" width="10.56" height="9.59" fill="#3e26a8" stroke="none" stroke-width="1"/>
<rect x="1508" y="615.94" width="10.56" height="9.59" fill="#f9fb15" stroke="none" stroke-width="1"/>
<rect x="1518.51" y="615.94" width="10.56" height="9.59" fill="#3e26a8" stroke="none" stroke-width="1"/>
<rect x="1529.02" y="615.94" width="10.56" height="9.59" fill="#3e26a8" stroke="none" stroke-width="1"/>
<rect x="1539.53" y="615.94" width="10.56" height="9.59" fill="#3e26a8" stroke="none" stroke-width="1"/>
<rect x="1550.03" y="615.94" width="10.56" height="9.59" fill="#3e26a8" stroke="none" stroke-width="1"/>
<rect x="1560.54" y="615.94" width="10.56" height="9.59" fill="#3e26a8" stroke="none" stroke-width="1"/>
<rect x="1571.05" y="615.94" width="10.56" height="9.59" fill="#3e26a8" stroke="none" stroke-width="1"/>
<rect x="1581.56" y="615.94" width="10.56" height="9.59" fill="#3e26a8" stroke="none" stroke-width="1"/>
<rect x="1592.06" y="615.94" width="10.56" height="9.59" fill="#3e26a8" stroke="none" stroke-width="1"/>
<rect x="1602.57" y="615.94" width="10.56" height="9.59" fill="#3e26a8" stroke="none" stroke-width="1"/>
<rect x="1613.08" y="615.94" width="10.56" height="9.59" fill="#3e26a8" stroke="none" stroke-width="1"/>
<rect x="1623.59" y="615.94" width="10.56" height="9.59" fill="#3e26a8" stroke="none" stroke-width="1"/>
<rect x="1634.09" y="615.94" width="10.56" height="9.59" fill="#3e26a8" stroke="none" stroke-width="1"/>
<rect x="1360.9" y="606.4" width="10.56" height="9.59" fill="#3e26a8" stroke="none" stroke-width="1"/>
<rect x="1371.41" y="606.4" width="10.56" height="9.59" fill="#3e26a8" stroke="none" stroke-width="1"/>
<rect x="1381.91" y="606.4" width="10.56" height="9.59" fill="#3e26a8" stroke="none" stroke-width="1"/>
<rect x="1392.42" y="606.4" width="10.56" height="9.59" fill="#3e26a8" stroke="none" stroke-width="1"/>
<rect x="1402.93" y="606.4" width="10.56" height="9.59" fill="#3e26a8" stroke="none" stroke-width="1"/>
<rect x="1413.44" y="606.4" width="10.56" height="9.59" fill="#3e26a8" stroke="none" stroke-width="1"/>
<rect x="1423.94" y="606.4" width="10.56" height="9.59" fill="#f9fb15" stroke="none" stroke-width="1"/>
<rect x="1434.45" y="606.4" width="10.56" height="9.59" fill="#3e26a8" stroke="none" stroke-width="1"/>
<rect x="1444.96" y="606.4" width="10.56" height="9.59" fill="#3e26a8" stroke="none" stroke-width="1"/>
<rect x="1455.47" y="606.4" width="10.56" height="9.59" fill="#3e26a8" stroke="none" stroke-width="1"/>
<rect x="1465.97" y="606.4" width="10.56" height="9.59" fill="#3e26a8" stroke="none" stroke-width="1"/>
<rect x="1476.48" y="606.4" width="10.56" height="9.59" fill="#3e26a8" stroke="none" stroke-width="1"/>
<rect x="1486.99" y="606.4" width="10.56" height="9.59" fill="#3e26a8" stroke="none" stroke-width="1"/>
<rect x="1497.5" y="606.4" width="10.56" height="9.59" fill="#3e26a8" stroke="none" stroke-width="1"/>
<rect x="1508" y="606.4" width="10.56" height="9.59" fill="#3e26a8" stroke="none" stroke-width="1"/>
<rect x="1518.51" y="606.4" width="10.56" height="9.59" fill="#3e26a8" stroke="none" stroke-width="1"/>
<rect x="1529.02" y="606.4" width="10.56" height="9.59" fill="#3e26a8" stroke="none" stroke-width="1"/>
<rect x="1539.53" y="606.4" width="10.56" height="9.59" fill="#3e26a8" stroke="none" stroke-width="1"/>
<rect x="1550.03" y="606.4" width="10.56" height="9.59" fill="#3e26a8" stroke="none" stroke-width="1"/>
<rect x="1560.54" y="606.4" width="10.56" height="9.59" fill="#3e26a8" stroke="none" stroke-width="1"/>
<rect x="1571.05" y="606.4" width="10.56" height="9.59" fill="#3e26a8" stroke="none" stroke-width="1"/>
<rect x="1581.56" y="606.4" width="10.56" height="9.59" fill="#3e26a8" stroke="none" stroke-width="1"/>
<rect x="1592.06" y="606.4" width="10.56" height="9.59" fill="#3e26a8" stroke="none" stroke-width="1"/>
<rect x="1602.57" y="606.4" width="10.56" height="9.59" fill="#3e26a8" stroke="none" stroke-width="1"/>
<rect x="1613.08" y="606.4" width="10.56" height="9.59" fill="#3e26a8" stroke="none" stroke-width="1"/>
<rect x="1623.59" y="606.4" width="10.56" height="9.59" fill="#3e26a8" stroke="none" stroke-width="1"/>
<rect x="1634.09" y="606.4" width="10.56" height="9.59" fill="#3e26a8" stroke="none" stroke-width="1"/>
<rect x="1360.9" y="596.86" width="10.56" height="9.59" fill="#f9fb15" stroke="none" stroke-width="1"/>
<rect x="1371.41" y="596.86" width="10.56" height="9.59" fill="#3e26a8" stroke="none" stroke-width="1"/>
<rect x="1381.91" y="596.86" width="10.56" height="9.59" fill="#3e26a8" stroke="none" stroke-width="1"/>
<rect x="1392.42" y="596.86" width="10.56" height="9.59" fill="#3e26a8" stroke="none" stroke-width="1"/>
<rect x="1402.93" y="596.86" width="10.56" height="9.59" fill="#3e26a8" stroke="none" stroke-width="1"/>
<rect x="1413.44" y="596.86" width="10.56" height="9.59" fill="#3e26a8" stroke="none" stroke-width="1"/>
<rect x="1423.94" y="596.86" width="10.56" height="9.59" fill="#3e26a8" stroke="none" stroke-width="1"/>
<rect x="1434.45" y="596.86" width="10.56" height="9.59" fill="#3e26a8" stroke="none" stroke-width="1"/>
<rect x="1444.96" y="596.86" width="10.56" height="9.59" fill="#3e26a8" stroke="none" stroke-width="1"/>
<rect x="1455.47" y="596.86" width="10.56" height="9.59" fill="#3e26a8" stroke="none" stroke-width="1"/>
<rect x="1465.97" y="596.86" width="10.56" height="9.59" fill="#3e26a8" stroke="none" stroke-width="1"/>
<rect x="1476.48" y="596.86" width="10.56" height="9.59" fill="#3e26a8" stroke="none" stroke-width="1"/>
<rect x="1486.99" y="596.86" width="10.56" height="9.59" fill="#3e26a8" stroke="none" stroke-width="1"/>
<rect x="1497.5" y="596.86" width="10.56" height="9.59" fill="#3e26a8" stroke="none" stroke-width="1"/>
<rect x="1508" y="596.86" width="10.56" height="9.59" fill="#3e26a8" stroke="none" stroke-width="1"/>
<rect x="1518.51" y="596.86" width="10.56" height="9.59" fill="#3e26a8" stroke="none" stroke-width="1"/>
<rect x="1529.02" y="596.86" width="10.56" height="9.59" fill="#3e26a8" stroke="none" stroke-width="1"/>
<rect x="1539.53" y="596.86" width="10.56" height="9.59" fill="#3e26a8" stroke="none" stroke-width="1"/>
<rect x="1550.03" y="596.86" width="10.56" height="9.59" fill="#3e26a8" stroke="none" stroke-width="1"/>
<rect x="1560.54" y="596.86" width="10.56" height="9.59" fill="#3e26a8" stroke="none" stroke-width="1"/>
<rect x="1571.05" y="596.86" width="10.56" height="9.59" fill="#3e26a8" stroke="none" stroke-width="1"/>
<rect x="1581.56" y="596.86" width="10.56" height="9.59" fill="#3e26a8" stroke="none" stroke-width="1"/>
<rect x="1592.06" y="596.86" width="10.56" height="9.59" fill="#3e26a8" stroke="none" stroke-width="1"/>
<rect x="1602.57" y="596.86" width="10.56" height="9.59" fill="#3e26a8" stroke="none" stroke-width="1"/>
<rect x="1613.08" y="596.86" width="10.56" height="9.59" fill="#3e26a8" stroke="none" stroke-width="1"/>
<rect x="1623.59" y="596.86" width="10.56" height="9.59" fill="#3e26a8" stroke="none" stroke-width="1"/>
<rect x="1634.09" y="596.86" width="10.56" height="9.59" fill="#3e26a8" stroke="none" stroke-width="1"/>
<rect x="1360.9" y="587.31" width="10.56" height="9.59" fill="#3e26a8" stroke="none" stroke-width="1"/>
<rect x="1371.41" y="587.31" width="10.56" height="9.59" fill="#3e26a8" stroke="none" stroke-width="1"/>
<rect x="1381.91" y="587.31" width="10.56" height="9.59" fill="#3e26a8" stroke="none" stroke-width="1"/>
<rect x="1392.42" y="587.31" width="10.56" height="9.59" fill="#3e26a8" stroke="none" stroke-width="1"/>
<rect x="1402.93" y="587.31" width="10.56" height="9.59" fill="#3e26a8" stroke="none" stroke-width="1"/>
<rect x="1413.44" y="587.31" width="10.56" height="9.59" fill="#3e26a8" stroke="none" stroke-width="1"/>
<rect x="1423.94" y="587.31" width="10.56" height="9.59" fill="#3e26a8" stroke="none" stroke-width="1"/>
<rect x="1434.45" y="587.31" width="10.56" height="9.59" fill="#3e26a8" stroke="none" stroke-width="1"/>
<rect x="1444.96" y="587.31" width="10.56" height="9.59" fill="#f9fb15" stroke="none" stroke-width="1"/>
<rect x="1455.47" y="587.31" width="10.56" height="9.59" fill="#3e26a8" stroke="none" stroke-width="1"/>
<rect x="1465.97" y="587.31" width="10.56" height="9.59" fill="#3e26a8" stroke="none" stroke-width="1"/>
<rect x="1476.48" y="587.31" width="10.56" height="9.59" fill="#3e26a8" stroke="none" stroke-width="1"/>
<rect x="1486.99" y="587.31" width="10.56" height="9.59" fill="#3e26a8" stroke="none" stroke-width="1"/>
<rect x="1497.5" y="587.31" width="10.56" height="9.59" fill="#3e26a8" stroke="none" stroke-width="1"/>
<rect x="1508" y="587.31" width="10.56" height="9.59" fill="#3e26a8" stroke="none" stroke-width="1"/>
<rect x="1518.51" y="587.31" width="10.56" height="9.59" fill="#3e26a8" stroke="none" stroke-width="1"/>
<rect x="1529.02" y="587.31" width="10.56" height="9.59" fill="#3e26a8" stroke="none" stroke-width="1"/>
<rect x="1539.53" y="587.31" width="10.56" height="9.59" fill="#3e26a8" stroke="none" stroke-width="1"/>
<rect x="1550.03" y="587.31" width="10.56" height="9.59" fill="#3e26a8" stroke="none" stroke-width="1"/>
<rect x="1560.54" y="587.31" width="10.56" height="9.59" fill="#3e26a8" stroke="none" stroke-width="1"/>
<rect x="1571.05" y="587.31" width="10.56" height="9.59" fill="#3e26a8" stroke="none" stroke-width="1"/>
<rect x="1581.56" y="587.31" width="10.56" height="9.59" fill="#3e26a8" stroke="none" stroke-width="1"/>
<rect x="1592.06" y="587.31" width="10.56" height="9.59" fill="#3e26a8" stroke="none" stroke-width="1"/>
<rect x="1602.57" y="587.31" width="10.56" height="9.59" fill="#3e26a8" stroke="none" stroke-width="1"/>
<rect x="1613.08" y="587.31" width="10.56" height="9.59" fill="#3e26a8" stroke="none" stroke-width="1"/>
<rect x="1623.59" y="587.31" width="10.56" height="9.59" fill="#3e26a8" stroke="none" stroke-width="1"/>
<rect x="1634.09" y="587.31" width="10.56" height="9.59" fill="#3e26a8" stroke="none" stroke-width="1"/>
<rect x="1360.9" y="577.77" width="10.56" height="9.59" fill="#3e26a8" stroke="none" stroke-width="1"/>
<rect x="1371.41" y="577.77" width="10.56" height="9.59" fill="#3e26a8" stroke="none" stroke-width="1"/>
<rect x="1381.91" y="577.77" width="10.56" height="9.59" fill="#3e26a8" stroke="none" stroke-width="1"/>
<rect x="1392.42" y="577.77" width="10.56" height="9.59" fill="#3e26a8" stroke="none" stroke-width="1"/>
<rect x="1402.93" y="577.77" width="10.56" height="9.59" fill="#3e26a8" stroke="none" stroke-width="1"/>
<rect x="1413.44" y="577.77" width="10.56" height="9.59" fill="#3e26a8" stroke="none" stroke-width="1"/>
<rect x="1423.94" y="577.77" width="10.56" height="9.59" fill="#3e26a8" stroke="none" stroke-width="1"/>
<rect x="1434.45" y="577.77" width="10.56" height="9.59" fill="#3e26a8" stroke="none" stroke-width="1"/>
<rect x="1444.96" y="577.77" width="10.56" height="9.59" fill="#3e26a8" stroke="none" stroke-width="1"/>
<rect x="1455.47" y="577.77" width="10.56" height="9.59" fill="#3e26a8" stroke="none" stroke-width="1"/>
<rect x="1465.97" y="577.77" width="10.56" height="9.59" fill="#3e26a8" stroke="none" stroke-width="1"/>
<rect x="1476.48" y="577.77" width="10.56" height="9.59" fill="#3e26a8" stroke="none" stroke-width="1"/>
<rect x="1486.99" y="577.77" width="10.56" height="9.59" fill="#3e26a8" stroke="none" stroke-width="1"/>
<rect x="1497.5" y="577.77" width="10.56" height="9.59" fill="#3e26a8" stroke="none" stroke-width="1"/>
<rect x="1508" y="577.77" width="10.56" height="9.59" fill="#3e26a8" stroke="none" stroke-width="1"/>
<rect x="1518.51" y="577.77" width="10.56" height="9.59" fill="#3e26a8" stroke="none" stroke-width="1"/>
<rect x="1529.02" y="577.77" width="10.56" height="9.59" fill="#3e26a8" stroke="none" stroke-width="1"/>
<rect x="1539.53" y="577.77" width="10.56" height="9.59" fill="#3e26a8" stroke="none" stroke-width="1"/>
<rect x="1550.03" y="577.77" width="10.56" height="9.59" fill="#3e26a8" stroke="none" stroke-width="1"/>
<rect x="1560.54" y="577.77" width="10.56" height="9.59" fill="#3e26a8" stroke="none" stroke-width="1"/>
<rect x="1571.05" y="577.77" width="10.56" height="9.59" fill="#18addb" stroke="none" stroke-width="1"/>
<rect x="1581.56" y="577.77" width="10.56" height="9.59" fill="#3e26a8" stroke="none" stroke-width="1"/>
<rect x="1592.06" y="577.77" width="10.56" height="9.59" fill="#37c897" stroke="none" stroke-width="1"/>
<rect x="1602.57" y="577.77" width="10.56" height="9.59" fill="#3e26a8" stroke="none" stroke-width="1"/>
<rect x="1613.08" y="577.77" width="10.56" height="9.59" fill="#3e26a8" stroke="none" stroke-width="1"/>
<rect x="1623.59" y="577.77" width="10.56" height="9.59" fill="#3e26a8" stroke="none" stroke-width="1"/>
<rect x="1634.09" y="577.77" width="10.56" height="9.59" fill="#3e26a8" stroke="none" stroke-width="1"/>
<rect x="1360.9" y="568.22" width="10.56" height="9.59" fill="#3e26a8" stroke="none" stroke-width="1"/>
<rect x="1371.41" y="568.22" width="10.56" height="9.59" fill="#3e26a8" stroke="none" stroke-width="1"/>
<rect x="1381.91" y="568.22" width="10.56" height="9.59" fill="#3e26a8" stroke="none" stroke-width="1"/>
<rect x="1392.42" y="568.22" width="10.56" height="9.59" fill="#3e26a8" stroke="none" stroke-width="1"/>
<rect x="1402.93" y="568.22" width="10.56" height="9.59" fill="#3e26a8" stroke="none" stroke-width="1"/>
<rect x="1413.44" y="568.22" width="10.56" height="9.59" fill="#3e26a8" stroke="none" stroke-width="1"/>
<rect x="1423.94" y="568.22" width="10.56" height="9.59" fill="#3e26a8" stroke="none" stroke-width="1"/>
<rect x="1434.45" y="568.22" width="10.56" height="9.59" fill="#3e26a8" stroke="none" stroke-width="1"/>
<rect x="1444.96" y="568.22" width="10.56" height="9.59" fill="#3e26a8" stroke="none" stroke-width="1"/>
<rect x="1455.47" y="568.22" width="10.56" height="9.59" fill="#3e26a8" stroke="none" stroke-width="1"/>
<rect x="1465.97" y="568.22" width="10.56" height="9.59" fill="#3e26a8" stroke="none" stroke-width="1"/>
<rect x="1476.48" y="568.22" width="10.56" height="9.59" fill="#3e26a8" stroke="none" stroke-width="1"/>
<rect x="1486.99" y="568.22" width="10.56" height="9.59" fill="#3e26a8" stroke="none" stroke-width="1"/>
<rect x="1497.5" y="568.22" width="10.56" height="9.59" fill="#3e26a8" stroke="none" stroke-width="1"/>
<rect x="1508" y="568.22" width="10.56" height="9.59" fill="#3e26a8" stroke="none" stroke-width="1"/>
<rect x="1518.51" y="568.22" width="10.56" height="9.59" fill="#3e26a8" stroke="none" stroke-width="1"/>
<rect x="1529.02" y="568.22" width="10.56" height="9.59" fill="#3e26a8" stroke="none" stroke-width="1"/>
<rect x="1539.53" y="568.22" width="10.56" height="9.59" fill="#3e26a8" stroke="none" stroke-width="1"/>
<rect x="1550.03" y="568.22" width="10.56" height="9.59" fill="#3e26a8" stroke="none" stroke-width="1"/>
<rect x="1560.54" y="568.22" width="10.56" height="9.59" fill="#3e26a8" stroke="none" stroke-width="1"/>
<rect x="1571.05" y="568.22" width="10.56" height="9.59" fill="#37c897" stroke="none" stroke-width="1"/>
<rect x="1581.56" y="568.22" width="10.56" height="9.59" fill="#3e26a8" stroke="none" stroke-width="1"/>
<rect x="1592.06" y="568.22" width="10.56" height="9.59" fill="#18addb" stroke="none" stroke-width="1"/>
<rect x="1602.57" y="568.22" width="10.56" height="9.59" fill="#3e26a8" stroke="none" stroke-width="1"/>
<rect x="1613.08" y="568.22" width="10.56" height="9.59" fill="#3e26a8" stroke="none" stroke-width="1"/>
<rect x="1623.59" y="568.22" width="10.56" height="9.59" fill="#3e26a8" stroke="none" stroke-width="1"/>
<rect x="1634.09" y="568.22" width="10.56" height="9.59" fill="#3e26a8" stroke="none" stroke-width="1"/>
<rect x="1360.9" y="558.68" width="10.56" height="9.59" fill="#3e26a8" stroke="none" stroke-width="1"/>
<rect x="1371.41" y="558.68" width="10.56" height="9.59" fill="#3e26a8" stroke="none" stroke-width="1"/>
<rect x="1381.91" y="558.68" width="10.56" height="9.59" fill="#3e26a8" stroke="none" stroke-width="1"/>
<rect x="1392.42" y="558.68" width="10.56" height="9.59" fill="#3e26a8" stroke="none" stroke-width="1"/>
<rect x="1402.93" y="558.68" width="10.56" height="9.59" fill="#3e26a8" stroke="none" stroke-width="1"/>
<rect x="1413.44" y="558.68" width="10.56" height="9.59" fill="#3e26a8" stroke="none" stroke-width="1"/>
<rect x="1423.94" y="558.68" width="10.56" height="9.59" fill="#3e26a8" stroke="none" stroke-width="1"/>
<rect x="1434.45" y="558.68" width="10.56" height="9.59" fill="#3e26a8" stroke="none" stroke-width="1"/>
<rect x="1444.96" y="558.68" width="10.56" height="9.59" fill="#3e26a8" stroke="none" stroke-width="1"/>
<rect x="1455.47" y="558.68" width="10.56" height="9.59" fill="#3e26a8" stroke="none" stroke-width="1"/>
<rect x="1465.97" y="558.68" width="10.56" height="9.59" fill="#3e26a8" stroke="none" stroke-width="1"/>
<rect x="1476.48" y="558.68" width="10.56" height="9.59" fill="#3e26a8" stroke="none" stroke-width="1"/>
<rect x="1486.99" y="558.68" width="10.56" height="9.59" fill="#3e26a8" stroke="none" stroke-width="1"/>
<rect x="1497.5" y="558.68" width="10.56" height="9.59" fill="#3e26a8" stroke="none" stroke-width="1"/>
<rect x="1508" y="558.68" width="10.56" height="9.59" fill="#3e26a8" stroke="none" stroke-width="1"/>
<rect x="1518.51" y="558.68" width="10.56" height="9.59" fill="#3e26a8" stroke="none" stroke-width="1"/>
<rect x="1529.02" y="558.68" width="10.56" height="9.59" fill="#f9fb15" stroke="none" stroke-width="1"/>
<rect x="1539.53" y="558.68" width="10.56" height="9.59" fill="#3e26a8" stroke="none" stroke-width="1"/>
<rect x="1550.03" y="558.68" width="10.56" height="9.59" fill="#3e26a8" stroke="none" stroke-width="1"/>
<rect x="1560.54" y="558.68" width="10.56" height="9.59" fill="#3e26a8" stroke="none" stroke-width="1"/>
<rect x="1571.05" y="558.68" width="10.56" height="9.59" fill="#3e26a8" stroke="none" stroke-width="1"/>
<rect x="1581.56" y="558.68" width="10.56" height="9.59" fill="#3e26a8" stroke="none" stroke-width="1"/>
<rect x="1592.06" y="558.68" width="10.56" height="9.59" fill="#3e26a8" stroke="none" stroke-width="1"/>
<rect x="1602.57" y="558.68" width="10.56" height="9.59" fill="#3e26a8" stroke="none" stroke-width="1"/>
<rect x="1613.08" y="558.68" width="10.56" height="9.59" fill="#3e26a8" stroke="none" stroke-width="1"/>
<rect x="1623.59" y="558.68" width="10.56" height="9.59" fill="#3e26a8" stroke="none" stroke-width="1"/>
<rect x="1634.09" y="558.68" width="10.56" height="9.59" fill="#3e26a8" stroke="none" stroke-width="1"/>
<rect x="1360.9" y="549.13" width="10.56" height="9.59" fill="#3e26a8" stroke="none" stroke-width="1"/>
<rect x="1371.41" y="549.13" width="10.56" height="9.59" fill="#3e26a8" stroke="none" stroke-width="1"/>
<rect x="1381.91" y="549.13" width="10.56" height="9.59" fill="#3e26a8" stroke="none" stroke-width="1"/>
<rect x="1392.42" y="549.13" width="10.56" height="9.59" fill="#3e26a8" stroke="none" stroke-width="1"/>
<rect x="1402.93" y="549.13" width="10.56" height="9.59" fill="#3e26a8" stroke="none" stroke-width="1"/>
<rect x="1413.44" y="549.13" width="10.56" height="9.59" fill="#3e26a8" stroke="none" stroke-width="1"/>
<rect x="1423.94" y="549.13" width="10.56" height="9.59" fill="#3e26a8" stroke="none" stroke-width="1"/>
<rect x="1434.45" y="549.13" width="10.56" height="9.59" fill="#3e26a8" stroke="none" stroke-width="1"/>
<rect x="1444.96" y="549.13" width="10.56" height="9.59" fill="#3e26a8" stroke="none" stroke-width="1"/>
<rect x="1455.47" y="549.13" width="10.56" height="9.59" fill="#3e26a8" stroke="none" stroke-width="1"/>
<rect x="1465.97" y="549.13" width="10.56" height="9.59" fill="#3e26a8" stroke="none" stroke-width="1"/>
<rect x="1476.48" y="549.13" width="10.56" height="9.59" fill="#422ec0" stroke="none" stroke-width="1"/>
<rect x="1486.99" y="549.13" width="10.56" height="9.59" fill="#f9fb15" stroke="none" stroke-width="1"/>
<rect x="1497.5" y="549.13" width="10.56" height="9.59" fill="#3e26a8" stroke="none" stroke-width="1"/>
<rect x="1508" y="549.13" width="10.56" height="9.59" fill="#3e26a8" stroke="none" stroke-width="1"/>
<rect x="1518.51" y="549.13" width="10.56" height="9.59" fill="#3e26a8" stroke="none" stroke-width="1"/>
<rect x="1529.02" y="549.13" width="10.56" height="9.59" fill="#3e26a8" stroke="none" stroke-width="1"/>
<rect x="1539.53" y="549.13" width="10.56" height="9.59" fill="#3e26a8" stroke="none" stroke-width="1"/>
<rect x="1550.03" y="549.13" width="10.56" height="9.59" fill="#3e26a8" stroke="none" stroke-width="1"/>
<rect x="1560.54" y="549.13" width="10.56" height="9.59" fill="#3e26a8" stroke="none" stroke-width="1"/>
<rect x="1571.05" y="549.13" width="10.56" height="9.59" fill="#3e26a8" stroke="none" stroke-width="1"/>
<rect x="1581.56" y="549.13" width="10.56" height="9.59" fill="#3e26a8" stroke="none" stroke-width="1"/>
<rect x="1592.06" y="549.13" width="10.56" height="9.59" fill="#3e26a8" stroke="none" stroke-width="1"/>
<rect x="1602.57" y="549.13" width="10.56" height="9.59" fill="#3e26a8" stroke="none" stroke-width="1"/>
<rect x="1613.08" y="549.13" width="10.56" height="9.59" fill="#3e26a8" stroke="none" stroke-width="1"/>
<rect x="1623.59" y="549.13" width="10.56" height="9.59" fill="#3e26a8" stroke="none" stroke-width="1"/>
<rect x="1634.09" y="549.13" width="10.56" height="9.59" fill="#3e26a8" stroke="none" stroke-width="1"/>
<rect x="1360.9" y="539.59" width="10.56" height="9.59" fill="#3e26a8" stroke="none" stroke-width="1"/>
<rect x="1371.41" y="539.59" width="10.56" height="9.59" fill="#3e26a8" stroke="none" stroke-width="1"/>
<rect x="1381.91" y="539.59" width="10.56" height="9.59" fill="#3e26a8" stroke="none" stroke-width="1"/>
<rect x="1392.42" y="539.59" width="10.56" height="9.59" fill="#3e26a8" stroke="none" stroke-width="1"/>
<rect x="1402.93" y="539.59" width="10.56" height="9.59" fill="#3e26a8" stroke="none" stroke-width="1"/>
<rect x="1413.44" y="539.59" width="10.56" height="9.59" fill="#3e26a8" stroke="none" stroke-width="1"/>
<rect x="1423.94" y="539.59" width="10.56" height="9.59" fill="#3e26a8" stroke="none" stroke-width="1"/>
<rect x="1434.45" y="539.59" width="10.56" height="9.59" fill="#3e26a8" stroke="none" stroke-width="1"/>
<rect x="1444.96" y="539.59" width="10.56" height="9.59" fill="#3e26a8" stroke="none" stroke-width="1"/>
<rect x="1455.47" y="539.59" width="10.56" height="9.59" fill="#3e26a8" stroke="none" stroke-width="1"/>
<rect x="1465.97" y="539.59" width="10.56" height="9.59" fill="#3e26a8" stroke="none" stroke-width="1"/>
<rect x="1476.48" y="539.59" width="10.56" height="9.59" fill="#3e26a8" stroke="none" stroke-width="1"/>
<rect x="1486.99" y="539.59" width="10.56" height="9.59" fill="#3e26a8" stroke="none" stroke-width="1"/>
<rect x="1497.5" y="539.59" width="10.56" height="9.59" fill="#3e26a8" stroke="none" stroke-width="1"/>
<rect x="1508" y="539.59" width="10.56" height="9.59" fill="#3e26a8" stroke="none" stroke-width="1"/>
<rect x="1518.51" y="539.59" width="10.56" height="9.59" fill="#3e26a8" stroke="none" stroke-width="1"/>
<rect x="1529.02" y="539.59" width="10.56" height="9.59" fill="#3e26a8" stroke="none" stroke-width="1"/>
<rect x="1539.53" y="539.59" width="10.56" height="9.59" fill="#3e26a8" stroke="none" stroke-width="1"/>
<rect x="1550.03" y="539.59" width="10.56" height="9.59" fill="#3e26a8" stroke="none" stroke-width="1"/>
<rect x="1560.54" y="539.59" width="10.56" height="9.59" fill="#3e26a8" stroke="none" stroke-width="1"/>
<rect x="1571.05" y="539.59" width="10.56" height="9.59" fill="#3e26a8" stroke="none" stroke-width="1"/>
<rect x="1581.56" y="539.59" width="10.56" height="9.59" fill="#3e26a8" stroke="none" stroke-width="1"/>
<rect x="1592.06" y="539.59" width="10.56" height="9.59" fill="#3e26a8" stroke="none" stroke-width="1"/>
<rect x="1602.57" y="539.59" width="10.56" height="9.59" fill="#3e26a8" stroke="none" stroke-width="1"/>
<rect x="1613.08" y="539.59" width="10.56" height="9.59" fill="#3e26a8" stroke="none" stroke-width="1"/>
<rect x="1623.59" y="539.59" width="10.56" height="9.59" fill="#3e26a8" stroke="none" stroke-width="1"/>
<rect x="1634.09" y="539.59" width="10.56" height="9.59" fill="#f9fb15" stroke="none" stroke-width="1"/>
<rect x="1360.9" y="530.04" width="10.56" height="9.59" fill="#3e26a8" stroke="none" stroke-width="1"/>
<rect x="1371.41" y="530.04" width="10.56" height="9.59" fill="#3e26a8" stroke="none" stroke-width="1"/>
<rect x="1381.91" y="530.04" width="10.56" height="9.59" fill="#422ec0" stroke="none" stroke-width="1"/>
<rect x="1392.42" y="530.04" width="10.56" height="9.59" fill="#422ec0" stroke="none" stroke-width="1"/>
<rect x="1402.93" y="530.04" width="10.56" height="9.59" fill="#f5e924" stroke="none" stroke-width="1"/>
<rect x="1413.44" y="530.04" width="10.56" height="9.59" fill="#3e26a8" stroke="none" stroke-width="1"/>
<rect x="1423.94" y="530.04" width="10.56" height="9.59" fill="#3e26a8" stroke="none" stroke-width="1"/>
<rect x="1434.45" y="530.04" width="10.56" height="9.59" fill="#3e26a8" stroke="none" stroke-width="1"/>
<rect x="1444.96" y="530.04" width="10.56" height="9.59" fill="#3e26a8" stroke="none" stroke-width="1"/>
<rect x="1455.47" y="530.04" width="10.56" height="9.59" fill="#3e26a8" stroke="none" stroke-width="1"/>
<rect x="1465.97" y="530.04" width="10.56" height="9.59" fill="#3e26a8" stroke="none" stroke-width="1"/>
<rect x="1476.48" y="530.04" width="10.56" height="9.59" fill="#3e26a8" stroke="none" stroke-width="1"/>
<rect x="1486.99" y="530.04" width="10.56" height="9.59" fill="#3e26a8" stroke="none" stroke-width="1"/>
<rect x="1497.5" y="530.04" width="10.56" height="9.59" fill="#3e26a8" stroke="none" stroke-width="1"/>
<rect x="1508" y="530.04" width="10.56" height="9.59" fill="#3e26a8" stroke="none" stroke-width="1"/>
<rect x="1518.51" y="530.04" width="10.56" height="9.59" fill="#3e26a8" stroke="none" stroke-width="1"/>
<rect x="1529.02" y="530.04" width="10.56" height="9.59" fill="#3e26a8" stroke="none" stroke-width="1"/>
<rect x="1539.53" y="530.04" width="10.56" height="9.59" fill="#3e26a8" stroke="none" stroke-width="1"/>
<rect x="1550.03" y="530.04" width="10.56" height="9.59" fill="#3e26a8" stroke="none" stroke-width="1"/>
<rect x="1560.54" y="530.04" width="10.56" height="9.59" fill="#3e26a8" stroke="none" stroke-width="1"/>
<rect x="1571.05" y="530.04" width="10.56" height="9.59" fill="#3e26a8" stroke="none" stroke-width="1"/>
<rect x="1581.56" y="530.04" width="10.56" height="9.59" fill="#3e26a8" stroke="none" stroke-width="1"/>
<rect x="1592.06" y="530.04" width="10.56" height="9.59" fill="#3e26a8" stroke="none" stroke-width="1"/>
<rect x="1602.57" y="530.04" width="10.56" height="9.59" fill="#3e26a8" stroke="none" stroke-width="1"/>
<rect x="1613.08" y="530.04" width="10.56" height="9.59" fill="#3e26a8" stroke="none" stroke-width="1"/>
<rect x="1623.59" y="530.04" width="10.56" height="9.59" fill="#3e26a8" stroke="none" stroke-width="1"/>
<rect x="1634.09" y="530.04" width="10.56" height="9.59" fill="#3e26a8" stroke="none" stroke-width="1"/>
<rect x="1360.9" y="520.5" width="10.56" height="9.59" fill="#3e26a8" stroke="none" stroke-width="1"/>
<rect x="1371.41" y="520.5" width="10.56" height="9.59" fill="#3e26a8" stroke="none" stroke-width="1"/>
<rect x="1381.91" y="520.5" width="10.56" height="9.59" fill="#f6ef20" stroke="none" stroke-width="1"/>
<rect x="1392.42" y="520.5" width="10.56" height="9.59" fill="#422ec0" stroke="none" stroke-width="1"/>
<rect x="1402.93" y="520.5" width="10.56" height="9.59" fill="#3e26a8" stroke="none" stroke-width="1"/>
<rect x="1413.44" y="520.5" width="10.56" height="9.59" fill="#3e26a8" stroke="none" stroke-width="1"/>
<rect x="1423.94" y="520.5" width="10.56" height="9.59" fill="#3e26a8" stroke="none" stroke-width="1"/>
<rect x="1434.45" y="520.5" width="10.56" height="9.59" fill="#3e26a8" stroke="none" stroke-width="1"/>
<rect x="1444.96" y="520.5" width="10.56" height="9.59" fill="#3e26a8" stroke="none" stroke-width="1"/>
<rect x="1455.47" y="520.5" width="10.56" height="9.59" fill="#3e26a8" stroke="none" stroke-width="1"/>
<rect x="1465.97" y="520.5" width="10.56" height="9.59" fill="#3e26a8" stroke="none" stroke-width="1"/>
<rect x="1476.48" y="520.5" width="10.56" height="9.59" fill="#3e26a8" stroke="none" stroke-width="1"/>
<rect x="1486.99" y="520.5" width="10.56" height="9.59" fill="#3e26a8" stroke="none" stroke-width="1"/>
<rect x="1497.5" y="520.5" width="10.56" height="9.59" fill="#3e26a8" stroke="none" stroke-width="1"/>
<rect x="1508" y="520.5" width="10.56" height="9.59" fill="#3e26a8" stroke="none" stroke-width="1"/>
<rect x="1518.51" y="520.5" width="10.56" height="9.59" fill="#3e26a8" stroke="none" stroke-width="1"/>
<rect x="1529.02" y="520.5" width="10.56" height="9.59" fill="#3e26a8" stroke="none" stroke-width="1"/>
<rect x="1539.53" y="520.5" width="10.56" height="9.59" fill="#3e26a8" stroke="none" stroke-width="1"/>
<rect x="1550.03" y="520.5" width="10.56" height="9.59" fill="#3e26a8" stroke="none" stroke-width="1"/>
<rect x="1560.54" y="520.5" width="10.56" height="9.59" fill="#3e26a8" stroke="none" stroke-width="1"/>
<rect x="1571.05" y="520.5" width="10.56" height="9.59" fill="#3e26a8" stroke="none" stroke-width="1"/>
<rect x="1581.56" y="520.5" width="10.56" height="9.59" fill="#3e26a8" stroke="none" stroke-width="1"/>
<rect x="1592.06" y="520.5" width="10.56" height="9.59" fill="#3e26a8" stroke="none" stroke-width="1"/>
<rect x="1602.57" y="520.5" width="10.56" height="9.59" fill="#3e26a8" stroke="none" stroke-width="1"/>
<rect x="1613.08" y="520.5" width="10.56" height="9.59" fill="#3e26a8" stroke="none" stroke-width="1"/>
<rect x="1623.59" y="520.5" width="10.56" height="9.59" fill="#3e26a8" stroke="none" stroke-width="1"/>
<rect x="1634.09" y="520.5" width="10.56" height="9.59" fill="#3e26a8" stroke="none" stroke-width="1"/>
<rect x="1360.9" y="510.96" width="10.56" height="9.59" fill="#3e26a8" stroke="none" stroke-width="1"/>
<rect x="1371.41" y="510.96" width="10.56" height="9.59" fill="#3e26a8" stroke="none" stroke-width="1"/>
<rect x="1381.91" y="510.96" width="10.56" height="9.59" fill="#3e26a8" stroke="none" stroke-width="1"/>
<rect x="1392.42" y="510.96" width="10.56" height="9.59" fill="#3e26a8" stroke="none" stroke-width="1"/>
<rect x="1402.93" y="510.96" width="10.56" height="9.59" fill="#3e26a8" stroke="none" stroke-width="1"/>
<rect x="1413.44" y="510.96" width="10.56" height="9.59" fill="#3e26a8" stroke="none" stroke-width="1"/>
<rect x="1423.94" y="510.96" width="10.56" height="9.59" fill="#3e26a8" stroke="none" stroke-width="1"/>
<rect x="1434.45" y="510.96" width="10.56" height="9.59" fill="#3e26a8" stroke="none" stroke-width="1"/>
<rect x="1444.96" y="510.96" width="10.56" height="9.59" fill="#3e26a8" stroke="none" stroke-width="1"/>
<rect x="1455.47" y="510.96" width="10.56" height="9.59" fill="#3e26a8" stroke="none" stroke-width="1"/>
<rect x="1465.97" y="510.96" width="10.56" height="9.59" fill="#f9fb15" stroke="none" stroke-width="1"/>
<rect x="1476.48" y="510.96" width="10.56" height="9.59" fill="#422ec0" stroke="none" stroke-width="1"/>
<rect x="1486.99" y="510.96" width="10.56" height="9.59" fill="#3e26a8" stroke="none" stroke-width="1"/>
<rect x="1497.5" y="510.96" width="10.56" height="9.59" fill="#3e26a8" stroke="none" stroke-width="1"/>
<rect x="1508" y="510.96" width="10.56" height="9.59" fill="#3e26a8" stroke="none" stroke-width="1"/>
<rect x="1518.51" y="510.96" width="10.56" height="9.59" fill="#3e26a8" stroke="none" stroke-width="1"/>
<rect x="1529.02" y="510.96" width="10.56" height="9.59" fill="#3e26a8" stroke="none" stroke-width="1"/>
<rect x="1539.53" y="510.96" width="10.56" height="9.59" fill="#3e26a8" stroke="none" stroke-width="1"/>
<rect x="1550.03" y="510.96" width="10.56" height="9.59" fill="#3e26a8" stroke="none" stroke-width="1"/>
<rect x="1560.54" y="510.96" width="10.56" height="9.59" fill="#3e26a8" stroke="none" stroke-width="1"/>
<rect x="1571.05" y="510.96" width="10.56" height="9.59" fill="#3e26a8" stroke="none" stroke-width="1"/>
<rect x="1581.56" y="510.96" width="10.56" height="9.59" fill="#3e26a8" stroke="none" stroke-width="1"/>
<rect x="1592.06" y="510.96" width="10.56" height="9.59" fill="#3e26a8" stroke="none" stroke-width="1"/>
<rect x="1602.57" y="510.96" width="10.56" height="9.59" fill="#3e26a8" stroke="none" stroke-width="1"/>
<rect x="1613.08" y="510.96" width="10.56" height="9.59" fill="#3e26a8" stroke="none" stroke-width="1"/>
<rect x="1623.59" y="510.96" width="10.56" height="9.59" fill="#3e26a8" stroke="none" stroke-width="1"/>
<rect x="1634.09" y="510.96" width="10.56" height="9.59" fill="#3e26a8" stroke="none" stroke-width="1"/>
<rect x="1360.9" y="501.41" width="10.56" height="9.59" fill="#3e26a8" stroke="none" stroke-width="1"/>
<rect x="1371.41" y="501.41" width="10.56" height="9.59" fill="#3e26a8" stroke="none" stroke-width="1"/>
<rect x="1381.91" y="501.41" width="10.56" height="9.59" fill="#3e26a8" stroke="none" stroke-width="1"/>
<rect x="1392.42" y="501.41" width="10.56" height="9.59" fill="#3e26a8" stroke="none" stroke-width="1"/>
<rect x="1402.93" y="501.41" width="10.56" height="9.59" fill="#3e26a8" stroke="none" stroke-width="1"/>
<rect x="1413.44" y="501.41" width="10.56" height="9.59" fill="#3e26a8" stroke="none" stroke-width="1"/>
<rect x="1423.94" y="501.41" width="10.56" height="9.59" fill="#3e26a8" stroke="none" stroke-width="1"/>
<rect x="1434.45" y="501.41" width="10.56" height="9.59" fill="#3e26a8" stroke="none" stroke-width="1"/>
<rect x="1444.96" y="501.41" width="10.56" height="9.59" fill="#3e26a8" stroke="none" stroke-width="1"/>
<rect x="1455.47" y="501.41" width="10.56" height="9.59" fill="#3e26a8" stroke="none" stroke-width="1"/>
<rect x="1465.97" y="501.41" width="10.56" height="9.59" fill="#3e26a8" stroke="none" stroke-width="1"/>
<rect x="1476.48" y="501.41" width="10.56" height="9.59" fill="#3e26a8" stroke="none" stroke-width="1"/>
<rect x="1486.99" y="501.41" width="10.56" height="9.59" fill="#3e26a8" stroke="none" stroke-width="1"/>
<rect x="1497.5" y="501.41" width="10.56" height="9.59" fill="#3e26a8" stroke="none" stroke-width="1"/>
<rect x="1508" y="501.41" width="10.56" height="9.59" fill="#3e26a8" stroke="none" stroke-width="1"/>
<rect x="1518.51" y="501.41" width="10.56" height="9.59" fill="#3e26a8" stroke="none" stroke-width="1"/>
<rect x="1529.02" y="501.41" width="10.56" height="9.59" fill="#3e26a8" stroke="none" stroke-width="1"/>
<rect x="1539.53" y="501.41" width="10.56" height="9.59" fill="#3e26a8" stroke="none" stroke-width="1"/>
<rect x="1550.03" y="501.41" width="10.56" height="9.59" fill="#f9fb15" stroke="none" stroke-width="1"/>
<rect x="1560.54" y="501.41" width="10.56" height="9.59" fill="#422ec0" stroke="none" stroke-width="1"/>
<rect x="1571.05" y="501.41" width="10.56" height="9.59" fill="#3e26a8" stroke="none" stroke-width="1"/>
<rect x="1581.56" y="501.41" width="10.56" height="9.59" fill="#3e26a8" stroke="none" stroke-width="1"/>
<rect x="1592.06" y="501.41" width="10.56" height="9.59" fill="#3e26a8" stroke="none" stroke-width="1"/>
<rect x="1602.57" y="501.41" width="10.56" height="9.59" fill="#3e26a8" stroke="none" stroke-width="1"/>
<rect x="1613.08" y="501.41" width="10.56" height="9.59" fill="#3e26a8" stroke="none" stroke-width="1"/>
<rect x="1623.59" y="501.41" width="10.56" height="9.59" fill="#3e26a8" stroke="none" stroke-width="1"/>
<rect x="1634.09" y="501.41" width="10.56" height="9.59" fill="#3e26a8" stroke="none" stroke-width="1"/>
<rect x="1360.9" y="491.87" width="10.56" height="9.59" fill="#3e26a8" stroke="none" stroke-width="1"/>
<rect x="1371.41" y="491.87" width="10.56" height="9.59" fill="#3e26a8" stroke="none" stroke-width="1"/>
<rect x="1381.91" y="491.87" width="10.56" height="9.59" fill="#3e26a8" stroke="none" stroke-width="1"/>
<rect x="1392.42" y="491.87" width="10.56" height="9.59" fill="#3e26a8" stroke="none" stroke-width="1"/>
<rect x="1402.93" y="491.87" width="10.56" height="9.59" fill="#3e26a8" stroke="none" stroke-width="1"/>
<rect x="1413.44" y="491.87" width="10.56" height="9.59" fill="#3e26a8" stroke="none" stroke-width="1"/>
<rect x="1423.94" y="491.87" width="10.56" height="9.59" fill="#3e26a8" stroke="none" stroke-width="1"/>
<rect x="1434.45" y="491.87" width="10.56" height="9.59" fill="#3e26a8" stroke="none" stroke-width="1"/>
<rect x="1444.96" y="491.87" width="10.56" height="9.59" fill="#3e26a8" stroke="none" stroke-width="1"/>
<rect x="1455.47" y="491.87" width="10.56" height="9.59" fill="#3e26a8" stroke="none" stroke-width="1"/>
<rect x="1465.97" y="491.87" width="10.56" height="9.59" fill="#3e26a8" stroke="none" stroke-width="1"/>
<rect x="1476.48" y="491.87" width="10.56" height="9.59" fill="#3e26a8" stroke="none" stroke-width="1"/>
<rect x="1486.99" y="491.87" width="10.56" height="9.59" fill="#3e26a8" stroke="none" stroke-width="1"/>
<rect x="1497.5" y="491.87" width="10.56" height="9.59" fill="#3e26a8" stroke="none" stroke-width="1"/>
<rect x="1508" y="491.87" width="10.56" height="9.59" fill="#3e26a8" stroke="none" stroke-width="1"/>
<rect x="1518.51" y="491.87" width="10.56" height="9.59" fill="#3e26a8" stroke="none" stroke-width="1"/>
<rect x="1529.02" y="491.87" width="10.56" height="9.59" fill="#3e26a8" stroke="none" stroke-width="1"/>
<rect x="1539.53" y="491.87" width="10.56" height="9.59" fill="#3e26a8" stroke="none" stroke-width="1"/>
<rect x="1550.03" y="491.87" width="10.56" height="9.59" fill="#3e26a8" stroke="none" stroke-width="1"/>
<rect x="1560.54" y="491.87" width="10.56" height="9.59" fill="#3e26a8" stroke="none" stroke-width="1"/>
<rect x="1571.05" y="491.87" width="10.56" height="9.59" fill="#3e26a8" stroke="none" stroke-width="1"/>
<rect x="1581.56" y="491.87" width="10.56" height="9.59" fill="#3e26a8" stroke="none" stroke-width="1"/>
<rect x="1592.06" y="491.87" width="10.56" height="9.59" fill="#3e26a8" stroke="none" stroke-width="1"/>
<rect x="1602.57" y="491.87" width="10.56" height="9.59" fill="#422ec0" stroke="none" stroke-width="1"/>
<rect x="1613.08" y="491.87" width="10.56" height="9.59" fill="#f9fb15" stroke="none" stroke-width="1"/>
<rect x="1623.59" y="491.87" width="10.56" height="9.59" fill="#3e26a8" stroke="none" stroke-width="1"/>
<rect x="1634.09" y="491.87" width="10.56" height="9.59" fill="#3e26a8" stroke="none" stroke-width="1"/>
<rect x="1360.9" y="482.32" width="10.56" height="9.59" fill="#3e26a8" stroke="none" stroke-width="1"/>
<rect x="1371.41" y="482.32" width="10.56" height="9.59" fill="#3e26a8" stroke="none" stroke-width="1"/>
<rect x="1381.91" y="482.32" width="10.56" height="9.59" fill="#3e26a8" stroke="none" stroke-width="1"/>
<rect x="1392.42" y="482.32" width="10.56" height="9.59" fill="#3e26a8" stroke="none" stroke-width="1"/>
<rect x="1402.93" y="482.32" width="10.56" height="9.59" fill="#3e26a8" stroke="none" stroke-width="1"/>
<rect x="1413.44" y="482.32" width="10.56" height="9.59" fill="#3e26a8" stroke="none" stroke-width="1"/>
<rect x="1423.94" y="482.32" width="10.56" height="9.59" fill="#3e26a8" stroke="none" stroke-width="1"/>
<rect x="1434.45" y="482.32" width="10.56" height="9.59" fill="#3e26a8" stroke="none" stroke-width="1"/>
<rect x="1444.96" y="482.32" width="10.56" height="9.59" fill="#3e26a8" stroke="none" stroke-width="1"/>
<rect x="1455.47" y="482.32" width="10.56" height="9.59" fill="#3e26a8" stroke="none" stroke-width="1"/>
<rect x="1465.97" y="482.32" width="10.56" height="9.59" fill="#3e26a8" stroke="none" stroke-width="1"/>
<rect x="1476.48" y="482.32" width="10.56" height="9.59" fill="#3e26a8" stroke="none" stroke-width="1"/>
<rect x="1486.99" y="482.32" width="10.56" height="9.59" fill="#3e26a8" stroke="none" stroke-width="1"/>
<rect x="1497.5" y="482.32" width="10.56" height="9.59" fill="#3e26a8" stroke="none" stroke-width="1"/>
<rect x="1508" y="482.32" width="10.56" height="9.59" fill="#3e26a8" stroke="none" stroke-width="1"/>
<rect x="1518.51" y="482.32" width="10.56" height="9.59" fill="#3e26a8" stroke="none" stroke-width="1"/>
<rect x="1529.02" y="482.32" width="10.56" height="9.59" fill="#3e26a8" stroke="none" stroke-width="1"/>
<rect x="1539.53" y="482.32" width="10.56" height="9.59" fill="#3e26a8" stroke="none" stroke-width="1"/>
<rect x="1550.03" y="482.32" width="10.56" height="9.59" fill="#3e26a8" stroke="none" stroke-width="1"/>
<rect x="1560.54" y="482.32" width="10.56" height="9.59" fill="#3e26a8" stroke="none" stroke-width="1"/>
<rect x="1571.05" y="482.32" width="10.56" height="9.59" fill="#3e26a8" stroke="none" stroke-width="1"/>
<rect x="1581.56" y="482.32" width="10.56" height="9.59" fill="#3e26a8" stroke="none" stroke-width="1"/>
<rect x="1592.06" y="482.32" width="10.56" height="9.59" fill="#3e26a8" stroke="none" stroke-width="1"/>
<rect x="1602.57" y="482.32" width="10.56" height="9.59" fill="#3e26a8" stroke="none" stroke-width="1"/>
<rect x="1613.08" y="482.32" width="10.56" height="9.59" fill="#3e26a8" stroke="none" stroke-width="1"/>
<rect x="1623.59" y="482.32" width="10.56" height="9.59" fill="#3e26a8" stroke="none" stroke-width="1"/>
<rect x="1634.09" y="482.32" width="10.56" height="9.59" fill="#422ec0" stroke="none" stroke-width="1"/>
<rect x="1360.9" y="472.78" width="10.56" height="9.59" fill="#3e26a8" stroke="none" stroke-width="1"/>
<rect x="1371.41" y="472.78" width="10.56" height="9.59" fill="#3e26a8" stroke="none" stroke-width="1"/>
<rect x="1381.91" y="472.78" width="10.56" height="9.59" fill="#3e26a8" stroke="none" stroke-width="1"/>
<rect x="1392.42" y="472.78" width="10.56" height="9.59" fill="#3e26a8" stroke="none" stroke-width="1"/>
<rect x="1402.93" y="472.78" width="10.56" height="9.59" fill="#3e26a8" stroke="none" stroke-width="1"/>
<rect x="1413.44" y="472.78" width="10.56" height="9.59" fill="#3e26a8" stroke="none" stroke-width="1"/>
<rect x="1423.94" y="472.78" width="10.56" height="9.59" fill="#3e26a8" stroke="none" stroke-width="1"/>
<rect x="1434.45" y="472.78" width="10.56" height="9.59" fill="#f9fb15" stroke="none" stroke-width="1"/>
<rect x="1444.96" y="472.78" width="10.56" height="9.59" fill="#3e26a8" stroke="none" stroke-width="1"/>
<rect x="1455.47" y="472.78" width="10.56" height="9.59" fill="#3e26a8" stroke="none" stroke-width="1"/>
<rect x="1465.97" y="472.78" width="10.56" height="9.59" fill="#3e26a8" stroke="none" stroke-width="1"/>
<rect x="1476.48" y="472.78" width="10.56" height="9.59" fill="#3e26a8" stroke="none" stroke-width="1"/>
<rect x="1486.99" y="472.78" width="10.56" height="9.59" fill="#3e26a8" stroke="none" stroke-width="1"/>
<rect x="1497.5" y="472.78" width="10.56" height="9.59" fill="#3e26a8" stroke="none" stroke-width="1"/>
<rect x="1508" y="472.78" width="10.56" height="9.59" fill="#3e26a8" stroke="none" stroke-width="1"/>
<rect x="1518.51" y="472.78" width="10.56" height="9.59" fill="#3e26a8" stroke="none" stroke-width="1"/>
<rect x="1529.02" y="472.78" width="10.56" height="9.59" fill="#3e26a8" stroke="none" stroke-width="1"/>
<rect x="1539.53" y="472.78" width="10.56" height="9.59" fill="#3e26a8" stroke="none" stroke-width="1"/>
<rect x="1550.03" y="472.78" width="10.56" height="9.59" fill="#3e26a8" stroke="none" stroke-width="1"/>
<rect x="1560.54" y="472.78" width="10.56" height="9.59" fill="#3e26a8" stroke="none" stroke-width="1"/>
<rect x="1571.05" y="472.78" width="10.56" height="9.59" fill="#3e26a8" stroke="none" stroke-width="1"/>
<rect x="1581.56" y="472.78" width="10.56" height="9.59" fill="#3e26a8" stroke="none" stroke-width="1"/>
<rect x="1592.06" y="472.78" width="10.56" height="9.59" fill="#3e26a8" stroke="none" stroke-width="1"/>
<rect x="1602.57" y="472.78" width="10.56" height="9.59" fill="#3e26a8" stroke="none" stroke-width="1"/>
<rect x="1613.08" y="472.78" width="10.56" height="9.59" fill="#3e26a8" stroke="none" stroke-width="1"/>
<rect x="1623.59" y="472.78" width="10.56" height="9.59" fill="#3e26a8" stroke="none" stroke-width="1"/>
<rect x="1634.09" y="472.78" width="10.56" height="9.59" fill="#3e26a8" stroke="none" stroke-width="1"/>
<rect x="1360.9" y="463.23" width="10.56" height="9.59" fill="#3e26a8" stroke="none" stroke-width="1"/>
<rect x="1371.41" y="463.23" width="10.56" height="9.59" fill="#3e26a8" stroke="none" stroke-width="1"/>
<rect x="1381.91" y="463.23" width="10.56" height="9.59" fill="#3e26a8" stroke="none" stroke-width="1"/>
<rect x="1392.42" y="463.23" width="10.56" height="9.59" fill="#3e26a8" stroke="none" stroke-width="1"/>
<rect x="1402.93" y="463.23" width="10.56" height="9.59" fill="#3e26a8" stroke="none" stroke-width="1"/>
<rect x="1413.44" y="463.23" width="10.56" height="9.59" fill="#3e26a8" stroke="none" stroke-width="1"/>
<rect x="1423.94" y="463.23" width="10.56" height="9.59" fill="#3e26a8" stroke="none" stroke-width="1"/>
<rect x="1434.45" y="463.23" width="10.56" height="9.59" fill="#3e26a8" stroke="none" stroke-width="1"/>
<rect x="1444.96" y="463.23" width="10.56" height="9.59" fill="#3e26a8" stroke="none" stroke-width="1"/>
<rect x="1455.47" y="463.23" width="10.56" height="9.59" fill="#3e26a8" stroke="none" stroke-width="1"/>
<rect x="1465.97" y="463.23" width="10.56" height="9.59" fill="#3e26a8" stroke="none" stroke-width="1"/>
<rect x="1476.48" y="463.23" width="10.56" height="9.59" fill="#3e26a8" stroke="none" stroke-width="1"/>
<rect x="1486.99" y="463.23" width="10.56" height="9.59" fill="#3e26a8" stroke="none" stroke-width="1"/>
<rect x="1497.5" y="463.23" width="10.56" height="9.59" fill="#3e26a8" stroke="none" stroke-width="1"/>
<rect x="1508" y="463.23" width="10.56" height="9.59" fill="#3e26a8" stroke="none" stroke-width="1"/>
<rect x="1518.51" y="463.23" width="10.56" height="9.59" fill="#f9fb15" stroke="none" stroke-width="1"/>
<rect x="1529.02" y="463.23" width="10.56" height="9.59" fill="#3e26a8" stroke="none" stroke-width="1"/>
<rect x="1539.53" y="463.23" width="10.56" height="9.59" fill="#3e26a8" stroke="none" stroke-width="1"/>
<rect x="1550.03" y="463.23" width="10.56" height="9.59" fill="#3e26a8" stroke="none" stroke-width="1"/>
<rect x="1560.54" y="463.23" width="10.56" height="9.59" fill="#3e26a8" stroke="none" stroke-width="1"/>
<rect x="1571.05" y="463.23" width="10.56" height="9.59" fill="#3e26a8" stroke="none" stroke-width="1"/>
<rect x="1581.56" y="463.23" width="10.56" height="9.59" fill="#3e26a8" stroke="none" stroke-width="1"/>
<rect x="1592.06" y="463.23" width="10.56" height="9.59" fill="#3e26a8" stroke="none" stroke-width="1"/>
<rect x="1602.57" y="463.23" width="10.56" height="9.59" fill="#3e26a8" stroke="none" stroke-width="1"/>
<rect x="1613.08" y="463.23" width="10.56" height="9.59" fill="#3e26a8" stroke="none" stroke-width="1"/>
<rect x="1623.59" y="463.23" width="10.56" height="9.59" fill="#3e26a8" stroke="none" stroke-width="1"/>
<rect x="1634.09" y="463.23" width="10.56" height="9.59" fill="#3e26a8" stroke="none" stroke-width="1"/>
<rect x="1360.9" y="453.69" width="10.56" height="9.59" fill="#3e26a8" stroke="none" stroke-width="1"/>
<rect x="1371.41" y="453.69" width="10.56" height="9.59" fill="#3e26a8" stroke="none" stroke-width="1"/>
<rect x="1381.91" y="453.69" width="10.56" height="9.59" fill="#3e26a8" stroke="none" stroke-width="1"/>
<rect x="1392.42" y="453.69" width="10.56" height="9.59" fill="#3e26a8" stroke="none" stroke-width="1"/>
<rect x="1402.93" y="453.69" width="10.56" height="9.59" fill="#3e26a8" stroke="none" stroke-width="1"/>
<rect x="1413.44" y="453.69" width="10.56" height="9.59" fill="#3e26a8" stroke="none" stroke-width="1"/>
<rect x="1423.94" y="453.69" width="10.56" height="9.59" fill="#3e26a8" stroke="none" stroke-width="1"/>
<rect x="1434.45" y="453.69" width="10.56" height="9.59" fill="#3e26a8" stroke="none" stroke-width="1"/>
<rect x="1444.96" y="453.69" width="10.56" height="9.59" fill="#3e26a8" stroke="none" stroke-width="1"/>
<rect x="1455.47" y="453.69" width="10.56" height="9.59" fill="#3e26a8" stroke="none" stroke-width="1"/>
<rect x="1465.97" y="453.69" width="10.56" height="9.59" fill="#3e26a8" stroke="none" stroke-width="1"/>
<rect x="1476.48" y="453.69" width="10.56" height="9.59" fill="#3e26a8" stroke="none" stroke-width="1"/>
<rect x="1486.99" y="453.69" width="10.56" height="9.59" fill="#3e26a8" stroke="none" stroke-width="1"/>
<rect x="1497.5" y="453.69" width="10.56" height="9.59" fill="#3e26a8" stroke="none" stroke-width="1"/>
<rect x="1508" y="453.69" width="10.56" height="9.59" fill="#3e26a8" stroke="none" stroke-width="1"/>
<rect x="1518.51" y="453.69" width="10.56" height="9.59" fill="#3e26a8" stroke="none" stroke-width="1"/>
<rect x="1529.02" y="453.69" width="10.56" height="9.59" fill="#3e26a8" stroke="none" stroke-width="1"/>
<rect x="1539.53" y="453.69" width="10.56" height="9.59" fill="#3e26a8" stroke="none" stroke-width="1"/>
<rect x="1550.03" y="453.69" width="10.56" height="9.59" fill="#422ec0" stroke="none" stroke-width="1"/>
<rect x="1560.54" y="453.69" width="10.56" height="9.59" fill="#f9fb15" stroke="none" stroke-width="1"/>
<rect x="1571.05" y="453.69" width="10.56" height="9.59" fill="#3e26a8" stroke="none" stroke-width="1"/>
<rect x="1581.56" y="453.69" width="10.56" height="9.59" fill="#3e26a8" stroke="none" stroke-width="1"/>
<rect x="1592.06" y="453.69" width="10.56" height="9.59" fill="#3e26a8" stroke="none" stroke-width="1"/>
<rect x="1602.57" y="453.69" width="10.56" height="9.59" fill="#3e26a8" stroke="none" stroke-width="1"/>
<rect x="1613.08" y="453.69" width="10.56" height="9.59" fill="#3e26a8" stroke="none" stroke-width="1"/>
<rect x="1623.59" y="453.69" width="10.56" height="9.59" fill="#3e26a8" stroke="none" stroke-width="1"/>
<rect x="1634.09" y="453.69" width="10.56" height="9.59" fill="#3e26a8" stroke="none" stroke-width="1"/>
<rect x="1360.9" y="444.14" width="10.56" height="9.59" fill="#3e26a8" stroke="none" stroke-width="1"/>
<rect x="1371.41" y="444.14" width="10.56" height="9.59" fill="#3e26a8" stroke="none" stroke-width="1"/>
<rect x="1381.91" y="444.14" width="10.56" height="9.59" fill="#3e26a8" stroke="none" stroke-width="1"/>
<rect x="1392.42" y="444.14" width="10.56" height="9.59" fill="#3e26a8" stroke="none" stroke-width="1"/>
<rect x="1402.93" y="444.14" width="10.56" height="9.59" fill="#3e26a8" stroke="none" stroke-width="1"/>
<rect x="1413.44" y="444.14" width="10.56" height="9.59" fill="#3e26a8" stroke="none" stroke-width="1"/>
<rect x="1423.94" y="444.14" width="10.56" height="9.59" fill="#3e26a8" stroke="none" stroke-width="1"/>
<rect x="1434.45" y="444.14" width="10.56" height="9.59" fill="#3e26a8" stroke="none" stroke-width="1"/>
<rect x="1444.96" y="444.14" width="10.56" height="9.59" fill="#3e26a8" stroke="none" stroke-width="1"/>
<rect x="1455.47" y="444.14" width="10.56" height="9.59" fill="#3e26a8" stroke="none" stroke-width="1"/>
<rect x="1465.97" y="444.14" width="10.56" height="9.59" fill="#3e26a8" stroke="none" stroke-width="1"/>
<rect x="1476.48" y="444.14" width="10.56" height="9.59" fill="#3e26a8" stroke="none" stroke-width="1"/>
<rect x="1486.99" y="444.14" width="10.56" height="9.59" fill="#3e26a8" stroke="none" stroke-width="1"/>
<rect x="1497.5" y="444.14" width="10.56" height="9.59" fill="#3e26a8" stroke="none" stroke-width="1"/>
<rect x="1508" y="444.14" width="10.56" height="9.59" fill="#3e26a8" stroke="none" stroke-width="1"/>
<rect x="1518.51" y="444.14" width="10.56" height="9.59" fill="#3e26a8" stroke="none" stroke-width="1"/>
<rect x="1529.02" y="444.14" width="10.56" height="9.59" fill="#3e26a8" stroke="none" stroke-width="1"/>
<rect x="1539.53" y="444.14" width="10.56" height="9.59" fill="#3e26a8" stroke="none" stroke-width="1"/>
<rect x="1550.03" y="444.14" width="10.56" height="9.59" fill="#3e26a8" stroke="none" stroke-width="1"/>
<rect x="1560.54" y="444.14" width="10.56" height="9.59" fill="#3e26a8" stroke="none" stroke-width="1"/>
<rect x="1571.05" y="444.14" width="10.56" height="9.59" fill="#3e26a8" stroke="none" stroke-width="1"/>
<rect x="1581.56" y="444.14" width="10.56" height="9.59" fill="#3e26a8" stroke="none" stroke-width="1"/>
<rect x="1592.06" y="444.14" width="10.56" height="9.59" fill="#3e26a8" stroke="none" stroke-width="1"/>
<rect x="1602.57" y="444.14" width="10.56" height="9.59" fill="#f9fb15" stroke="none" stroke-width="1"/>
<rect x="1613.08" y="444.14" width="10.56" height="9.59" fill="#422ec0" stroke="none" stroke-width="1"/>
<rect x="1623.59" y="444.14" width="10.56" height="9.59" fill="#3e26a8" stroke="none" stroke-width="1"/>
<rect x="1634.09" y="444.14" width="10.56" height="9.59" fill="#3e26a8" stroke="none" stroke-width="1"/>
<rect x="1360.9" y="434.6" width="10.56" height="9.59" fill="#3e26a8" stroke="none" stroke-width="1"/>
<rect x="1371.41" y="434.6" width="10.56" height="9.59" fill="#3e26a8" stroke="none" stroke-width="1"/>
<rect x="1381.91" y="434.6" width="10.56" height="9.59" fill="#3e26a8" stroke="none" stroke-width="1"/>
<rect x="1392.42" y="434.6" width="10.56" height="9.59" fill="#3e26a8" stroke="none" stroke-width="1"/>
<rect x="1402.93" y="434.6" width="10.56" height="9.59" fill="#3e26a8" stroke="none" stroke-width="1"/>
<rect x="1413.44" y="434.6" width="10.56" height="9.59" fill="#3e26a8" stroke="none" stroke-width="1"/>
<rect x="1423.94" y="434.6" width="10.56" height="9.59" fill="#3e26a8" stroke="none" stroke-width="1"/>
<rect x="1434.45" y="434.6" width="10.56" height="9.59" fill="#3e26a8" stroke="none" stroke-width="1"/>
<rect x="1444.96" y="434.6" width="10.56" height="9.59" fill="#3e26a8" stroke="none" stroke-width="1"/>
<rect x="1455.47" y="434.6" width="10.56" height="9.59" fill="#3e26a8" stroke="none" stroke-width="1"/>
<rect x="1465.97" y="434.6" width="10.56" height="9.59" fill="#422ec0" stroke="none" stroke-width="1"/>
<rect x="1476.48" y="434.6" width="10.56" height="9.59" fill="#f9fb15" stroke="none" stroke-width="1"/>
<rect x="1486.99" y="434.6" width="10.56" height="9.59" fill="#3e26a8" stroke="none" stroke-width="1"/>
<rect x="1497.5" y="434.6" width="10.56" height="9.59" fill="#3e26a8" stroke="none" stroke-width="1"/>
<rect x="1508" y="434.6" width="10.56" height="9.59" fill="#3e26a8" stroke="none" stroke-width="1"/>
<rect x="1518.51" y="434.6" width="10.56" height="9.59" fill="#3e26a8" stroke="none" stroke-width="1"/>
<rect x="1529.02" y="434.6" width="10.56" height="9.59" fill="#3e26a8" stroke="none" stroke-width="1"/>
<rect x="1539.53" y="434.6" width="10.56" height="9.59" fill="#3e26a8" stroke="none" stroke-width="1"/>
<rect x="1550.03" y="434.6" width="10.56" height="9.59" fill="#3e26a8" stroke="none" stroke-width="1"/>
<rect x="1560.54" y="434.6" width="10.56" height="9.59" fill="#3e26a8" stroke="none" stroke-width="1"/>
<rect x="1571.05" y="434.6" width="10.56" height="9.59" fill="#3e26a8" stroke="none" stroke-width="1"/>
<rect x="1581.56" y="434.6" width="10.56" height="9.59" fill="#3e26a8" stroke="none" stroke-width="1"/>
<rect x="1592.06" y="434.6" width="10.56" height="9.59" fill="#3e26a8" stroke="none" stroke-width="1"/>
<rect x="1602.57" y="434.6" width="10.56" height="9.59" fill="#3e26a8" stroke="none" stroke-width="1"/>
<rect x="1613.08" y="434.6" width="10.56" height="9.59" fill="#3e26a8" stroke="none" stroke-width="1"/>
<rect x="1623.59" y="434.6" width="10.56" height="9.59" fill="#3e26a8" stroke="none" stroke-width="1"/>
<rect x="1634.09" y="434.6" width="10.56" height="9.59" fill="#3e26a8" stroke="none" stroke-width="1"/>
<path d="M1360.9 434.6V692.3M1360.9 434.6H1644.6M1371.41 434.6V692.3M1360.9 444.14H1644.6M1381.91 434.6V692.3M1360.9 453.69H1644.6M1392.42 434.6V692.3M1360.9 463.23H1644.6M1402.93 434.6V692.3M1360.9 472.78H1644.6M1413.44 434.6V692.3M1360.9 482.32H1644.6M1423.94 434.6V692.3M1360.9 491.87H1644.6M1434.45 434.6V692.3M1360.9 501.41H1644.6M1444.96 434.6V692.3M1360.9 510.96H1644.6M1455.47 434.6V692.3M1360.9 520.5H1644.6M1465.97 434.6V692.3M1360.9 530.04H1644.6M1476.48 434.6V692.3M1360.9 539.59H1644.6M1486.99 434.6V692.3M1360.9 549.13H1644.6M1497.5 434.6V692.3M1360.9 558.68H1644.6M1508 434.6V692.3M1360.9 568.22H1644.6M1518.51 434.6V692.3M1360.9 577.77H1644.6M1529.02 434.6V692.3M1360.9 587.31H1644.6M1539.53 434.6V692.3M1360.9 596.86H1644.6M1550.03 434.6V692.3M1360.9 606.4H1644.6M1560.54 434.6V692.3M1360.9 615.94H1644.6M1571.05 434.6V692.3M1360.9 625.49H1644.6M1581.56 434.6V692.3M1360.9 635.03H1644.6M1592.06 434.6V692.3M1360.9 644.58H1644.6M1602.57 434.6V692.3M1360.9 654.12H1644.6M1613.08 434.6V692.3M1360.9 663.67H1644.6M1623.59 434.6V692.3M1360.9 673.21H1644.6M1634.09 434.6V692.3M1360.9 682.76H1644.6M1644.6 434.6V692.3M1360.9 692.3H1644.6" stroke="#000" stroke-width="1" stroke-opacity="0.75" fill="none"/>
<line x1="1402.93" y1="692.3" x2="1402.93" y2="698.3" stroke="#262626" stroke-width="1.4"/>
<line x1="1402.93" y1="428.6" x2="1402.93" y2="434.6" stroke="#262626" stroke-width="1.4"/>
<line x1="1354.9" y1="654.12" x2="1360.9" y2="654.12" stroke="#262626" stroke-width="1.4"/>
<line x1="1644.6" y1="654.12" x2="1650.6" y2="654.12" stroke="#262626" stroke-width="1.4"/>
<text x="1395.99" y="730.25" font-family="'Liberation Sans',Arial,sans-serif" font-size="25" fill="#000">5</text>
<text x="1336.33" y="663.22" font-family="'Liberation Sans',Arial,sans-serif" font-size="25" fill="#000">5</text>
<line x1="1455.47" y1="692.3" x2="1455.47" y2="698.3" stroke="#262626" stroke-width="1.4"/>
<line x1="1455.47" y1="428.6" x2="1455.47" y2="434.6" stroke="#262626" stroke-width="1.4"/>
<line x1="1354.9" y1="606.4" x2="1360.9" y2="606.4" stroke="#262626" stroke-width="1.4"/>
<line x1="1644.6" y1="606.4" x2="1650.6" y2="606.4" stroke="#262626" stroke-width="1.4"/>
<text x="1441.59" y="730.5" font-family="'Liberation Sans',Arial,sans-serif" font-size="25" fill="#000">10</text>
<text x="1322.45" y="615.62" font-family="'Liberation Sans',Arial,sans-serif" font-size="25" fill="#000">10</text>
<line x1="1508" y1="692.3" x2="1508" y2="698.3" stroke="#262626" stroke-width="1.4"/>
<line x1="1508" y1="428.6" x2="1508" y2="434.6" stroke="#262626" stroke-width="1.4"/>
<line x1="1354.9" y1="558.68" x2="1360.9" y2="558.68" stroke="#262626" stroke-width="1.4"/>
<line x1="1644.6" y1="558.68" x2="1650.6" y2="558.68" stroke="#262626" stroke-width="1.4"/>
<text x="1494.13" y="730.25" font-family="'Liberation Sans',Arial,sans-serif" font-size="25" fill="#000">15</text>
<text x="1322.45" y="567.78" font-family="'Liberation Sans',Arial,sans-serif" font-size="25" fill="#000">15</text>
<line x1="1560.54" y1="692.3" x2="1560.54" y2="698.3" stroke="#262626" stroke-width="1.4"/>
<line x1="1560.54" y1="428.6" x2="1560.54" y2="434.6" stroke="#262626" stroke-width="1.4"/>
<line x1="1354.9" y1="510.96" x2="1360.9" y2="510.96" stroke="#262626" stroke-width="1.4"/>
<line x1="1644.6" y1="510.96" x2="1650.6" y2="510.96" stroke="#262626" stroke-width="1.4"/>
<text x="1546.67" y="730.5" font-family="'Liberation Sans',Arial,sans-serif" font-size="25" fill="#000">20</text>
<text x="1322.45" y="520.18" font-family="'Liberation Sans',Arial,sans-serif" font-size="25" fill="#000">20</text>
<line x1="1613.08" y1="692.3" x2="1613.08" y2="698.3" stroke="#262626" stroke-width="1.4"/>
<line x1="1613.08" y1="428.6" x2="1613.08" y2="434.6" stroke="#262626" stroke-width="1.4"/>
<line x1="1354.9" y1="463.23" x2="1360.9" y2="463.23" stroke="#262626" stroke-width="1.4"/>
<line x1="1644.6" y1="463.23" x2="1650.6" y2="463.23" stroke="#262626" stroke-width="1.4"/>
<text x="1599.2" y="730.5" font-family="'Liberation Sans',Arial,sans-serif" font-size="25" fill="#000">25</text>
<text x="1322.45" y="472.46" font-family="'Liberation Sans',Arial,sans-serif" font-size="25" fill="#000">25</text>
<defs><linearGradient id="cbh" x1="0" y1="1" x2="0" y2="0"><stop offset="0" stop-color="#3e26a8"/><stop offset="0.02" stop-color="#402ab4"/><stop offset="0.03" stop-color="#422ec0"/><stop offset="0.05" stop-color="#4332cb"/><stop offset="0.06" stop-color="#4537d5"/><stop offset="0.08" stop-color="#463cde"/><stop offset="0.1" stop-color="#4741e5"/><stop offset="0.11" stop-color="#4747eb"/><stop offset="0.13" stop-color="#484df0"/><stop offset="0.14" stop-color="#4852f4"/><stop offset="0.16" stop-color="#4758f8"/><stop offset="0.17" stop-color="#465efb"/><stop offset="0.19" stop-color="#4563fd"/><stop offset="0.21" stop-color="#4269fe"/><stop offset="0.22" stop-color="#3e6fff"/><stop offset="0.24" stop-color="#3875fe"/><stop offset="0.25" stop-color="#327cfc"/><stop offset="0.27" stop-color="#2f81fa"/><stop offset="0.29" stop-color="#2e87f7"/><stop offset="0.3" stop-color="#2d8cf3"/><stop offset="0.32" stop-color="#2b91ef"/><stop offset="0.33" stop-color="#2797eb"/><stop offset="0.35" stop-color="#259be8"/><stop offset="0.37" stop-color="#23a0e5"/><stop offset="0.38" stop-color="#20a5e3"/><stop offset="0.4" stop-color="#1ca9df"/><stop offset="0.41" stop-color="#18addb"/><stop offset="0.43" stop-color="#12b1d6"/><stop offset="0.44" stop-color="#08b5d0"/><stop offset="0.46" stop-color="#01b8ca"/><stop offset="0.48" stop-color="#02bac3"/><stop offset="0.49" stop-color="#0bbdbd"/><stop offset="0.51" stop-color="#19bfb6"/><stop offset="0.52" stop-color="#24c1ae"/><stop offset="0.54" stop-color="#2cc4a7"/><stop offset="0.56" stop-color="#31c69f"/><stop offset="0.57" stop-color="#37c897"/><stop offset="0.59" stop-color="#3fca8e"/><stop offset="0.6" stop-color="#4acb84"/><stop offset="0.62" stop-color="#57cc7a"/><stop offset="0.63" stop-color="#64cd6f"/><stop offset="0.65" stop-color="#72cd64"/><stop offset="0.67" stop-color="#81cc59"/><stop offset="0.68" stop-color="#8fcb4e"/><stop offset="0.7" stop-color="#9dc943"/><stop offset="0.71" stop-color="#abc739"/><stop offset="0.73" stop-color="#b9c431"/><stop offset="0.75" stop-color="#c5c22a"/><stop offset="0.76" stop-color="#d1bf27"/><stop offset="0.78" stop-color="#dcbd29"/><stop offset="0.79" stop-color="#e6bb2d"/><stop offset="0.81" stop-color="#f0ba36"/><stop offset="0.83" stop-color="#f8ba3d"/><stop offset="0.84" stop-color="#febe3c"/><stop offset="0.86" stop-color="#fec338"/><stop offset="0.87" stop-color="#fec934"/><stop offset="0.89" stop-color="#fccf30"/><stop offset="0.9" stop-color="#fad62d"/><stop offset="0.92" stop-color="#f7dc2a"/><stop offset="0.94" stop-color="#f5e327"/><stop offset="0.95" stop-color="#f5e924"/><stop offset="0.97" stop-color="#f6ef20"/><stop offset="0.98" stop-color="#f7f51b"/><stop offset="1" stop-color="#f9fb15"/></linearGradient></defs>
<rect x="1652" y="435" width="10.6" height="256.6" fill="url(#cbh)" stroke="none" stroke-width="1"/>
<rect x="1652" y="435" width="10.6" height="256.6" fill="none" stroke="#262626" stroke-width="1"/>
<line x1="1659.6" y1="485.3" x2="1662.6" y2="485.3" stroke="#262626" stroke-width="1"/>
<text x="1668.5" y="493.91" font-family="'Liberation Sans',Arial,sans-serif" font-size="22.8" fill="#000">0.8</text>
<line x1="1659.6" y1="537.3" x2="1662.6" y2="537.3" stroke="#262626" stroke-width="1"/>
<text x="1668.5" y="545.91" font-family="'Liberation Sans',Arial,sans-serif" font-size="22.8" fill="#000">0.6</text>
<line x1="1659.6" y1="589.3" x2="1662.6" y2="589.3" stroke="#262626" stroke-width="1"/>
<text x="1668.5" y="597.91" font-family="'Liberation Sans',Arial,sans-serif" font-size="22.8" fill="#000">0.4</text>
<line x1="1659.6" y1="641.3" x2="1662.6" y2="641.3" stroke="#262626" stroke-width="1"/>
<text x="1668.5" y="649.91" font-family="'Liberation Sans',Arial,sans-serif" font-size="22.8" fill="#000">0.2</text>
<text transform="translate(1500.52 759.69) scale(1.0800 1)" font-family="'Liberation Serif','Times New Roman',serif" font-size="26.4" font-style="italic" fill="#000">j</text>
<text transform="translate(1308.93 624.12) rotate(-90) scale(1.0948 1)" font-family="'Liberation Serif','Times New Roman',serif" font-size="26.62" fill="#000">index of</text>
<text transform="translate(1309.33 516.33) rotate(-90) scale(1.0625 1)" font-family="'Liberation Serif','Times New Roman',serif" font-size="26.67" font-style="italic" fill="#000">χ</text>
<text transform="translate(1304.11 513.8) rotate(-90) scale(1.3000 1)" font-family="'Liberation Serif','Times New Roman',serif" font-size="19.61" fill="#000">˜</text>
<text transform="translate(1637.45 417.88) scale(1.1143 1)" font-family="'Liberation Serif','Times New Roman',serif" font-size="26.92" fill="#000">|</text>
<text transform="translate(1646.92 417.51) scale(1.0839 1)" font-family="'Liberation Serif','Times New Roman',serif" font-size="24.43" font-style="italic" fill="#000">χ</text>
<text transform="translate(1649.39 414.21) scale(1.2417 1)" font-family="'Liberation Serif','Times New Roman',serif" font-size="19.61" fill="#000">˜</text>
<text transform="translate(1660.2 417.88) scale(1.1886 1)" font-family="'Liberation Serif','Times New Roman',serif" font-size="26.92" fill="#000">|</text>
<text transform="translate(1666.36 406.9) scale(1.1251 1)" font-family="'Liberation Serif','Times New Roman',serif" font-size="17.06" fill="#000">2</text>
</svg>
</body></html>
